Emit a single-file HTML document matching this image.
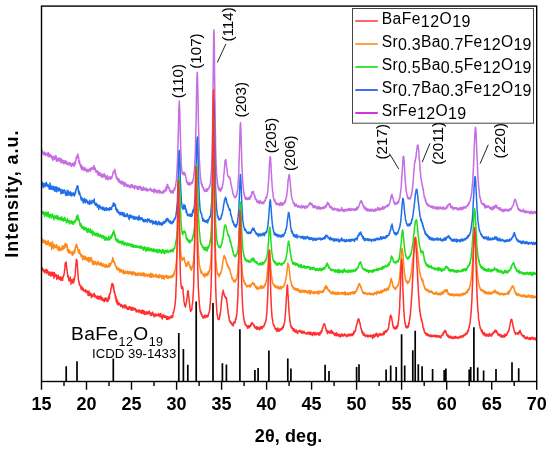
<!DOCTYPE html>
<html><head><meta charset="utf-8"><title>XRD patterns</title>
<style>html,body{margin:0;padding:0;background:#fff;overflow:hidden}svg{display:block}text{font-family:"Liberation Sans",sans-serif;fill:#000}.b{font-weight:bold}.c{fill:none;stroke-width:1.5;stroke-linejoin:round;stroke-linecap:round}</style></head><body>
<svg width="550" height="451" viewBox="0 0 550 451">
<rect x="0" y="0" width="550" height="451" fill="#fff"/>
<clipPath id="cp"><rect x="41.5" y="6.1" width="495.2" height="375.4"/></clipPath>
<g clip-path="url(#cp)">
<polyline class="c" stroke="#c56fe2" points="41.5,153.9 41.7,151.8 41.9,151.6 42.0,150.1 42.2,152.4 42.4,152.4 42.6,152.4 42.8,153.5 42.9,153.4 43.1,152.2 43.3,152.6 43.5,152.8 43.7,154.7 43.8,154.0 44.0,152.2 44.2,152.1 44.4,154.2 44.6,154.9 44.7,153.4 44.9,152.4 45.1,154.7 45.3,153.1 45.5,154.1 45.6,155.5 45.8,154.5 46.0,154.1 46.2,155.0 46.4,153.6 46.5,154.0 46.7,153.5 46.9,153.9 47.1,153.5 47.3,154.2 47.4,154.5 47.6,155.3 47.8,155.1 48.0,155.8 48.2,156.4 48.3,152.5 48.5,156.0 48.7,154.3 48.9,153.6 49.1,155.1 49.2,155.6 49.4,156.9 49.6,154.9 49.8,156.0 50.0,156.1 50.1,154.2 50.3,154.6 50.5,156.0 50.7,155.8 50.9,156.5 51.0,155.9 51.2,155.6 51.4,156.0 51.6,158.3 51.8,156.1 51.9,157.3 52.1,158.2 52.3,156.5 52.5,159.7 52.7,157.2 52.8,157.9 53.0,160.5 53.2,157.0 53.4,156.9 53.6,159.1 53.7,156.3 53.9,156.7 54.1,157.6 54.3,157.7 54.5,157.7 54.6,157.5 54.8,159.2 55.0,158.8 55.2,158.4 55.4,157.1 55.5,156.9 55.7,155.5 55.9,158.8 56.1,156.1 56.3,159.4 56.4,161.3 56.6,158.1 56.8,158.2 57.0,158.5 57.2,160.3 57.3,158.3 57.5,159.4 57.7,159.7 57.9,159.8 58.1,161.2 58.2,158.8 58.4,159.8 58.6,159.4 58.8,160.5 59.0,158.0 59.1,160.8 59.3,159.9 59.5,160.7 59.7,159.9 59.9,158.2 60.0,159.3 60.2,161.0 60.4,160.0 60.6,160.1 60.8,162.1 60.9,162.7 61.1,160.3 61.3,162.7 61.5,158.8 61.7,159.1 61.8,162.1 62.0,161.3 62.2,162.2 62.4,162.3 62.6,161.5 62.7,162.6 62.9,161.8 63.1,160.4 63.3,161.7 63.5,161.9 63.6,163.7 63.8,160.5 64.0,161.6 64.2,161.5 64.4,161.8 64.5,163.5 64.7,162.7 64.9,162.1 65.1,162.4 65.3,163.0 65.4,160.7 65.6,161.4 65.8,163.3 66.0,162.8 66.2,161.8 66.4,162.2 66.5,162.5 66.7,161.4 66.9,164.6 67.1,163.9 67.3,163.8 67.4,162.7 67.6,163.1 67.8,164.1 68.0,164.0 68.2,163.1 68.3,163.9 68.5,164.7 68.7,163.3 68.9,164.1 69.1,163.5 69.2,163.4 69.4,165.0 69.6,164.5 69.8,164.0 70.0,162.4 70.1,162.6 70.3,163.5 70.5,163.4 70.7,164.2 70.9,163.7 71.0,164.9 71.2,166.5 71.4,166.4 71.6,166.3 71.8,165.0 71.9,165.5 72.1,164.0 72.3,165.3 72.5,164.1 72.7,163.3 72.8,163.7 73.0,165.3 73.2,164.8 73.4,164.3 73.6,163.3 73.7,165.0 73.9,163.3 74.1,166.4 74.3,165.0 74.5,165.3 74.6,164.4 74.8,162.3 75.0,161.7 75.2,162.7 75.4,163.9 75.5,160.8 75.7,160.3 75.9,160.7 76.1,158.1 76.3,157.3 76.4,157.5 76.6,157.9 76.8,156.6 77.0,158.2 77.2,155.6 77.2,156.2 77.3,156.8 77.5,156.5 77.5,154.6 77.7,154.5 77.9,156.5 77.9,154.0 78.1,155.1 78.2,155.9 78.4,157.0 78.6,158.0 78.8,160.4 79.0,162.7 79.1,163.3 79.3,162.1 79.5,160.4 79.7,162.7 79.9,163.3 80.0,164.7 80.2,165.1 80.4,164.8 80.6,166.9 80.8,164.7 80.9,166.6 81.1,167.7 81.3,167.9 81.5,169.6 81.7,165.6 81.8,167.6 82.0,168.2 82.2,167.1 82.4,168.4 82.6,167.0 82.7,169.4 82.9,169.2 83.1,167.3 83.3,167.7 83.5,168.3 83.6,168.4 83.8,170.1 84.0,169.7 84.2,170.5 84.4,169.9 84.5,168.0 84.7,168.3 84.9,167.6 85.1,168.2 85.3,168.6 85.4,170.1 85.6,168.8 85.8,169.9 86.0,170.0 86.2,169.6 86.3,170.0 86.5,171.6 86.7,171.7 86.9,169.4 87.1,169.7 87.2,169.5 87.4,169.5 87.6,171.2 87.8,170.4 88.0,171.0 88.1,171.8 88.3,169.5 88.5,169.8 88.7,170.0 88.9,170.9 89.0,169.8 89.2,170.3 89.4,170.8 89.6,170.8 89.8,170.4 89.9,168.8 90.1,168.5 90.3,171.3 90.5,170.8 90.7,169.3 90.8,169.6 91.0,169.7 91.2,167.7 91.4,169.0 91.6,168.0 91.7,168.7 91.9,168.8 92.1,168.3 92.3,168.6 92.5,168.4 92.6,167.8 92.8,167.8 93.0,169.5 93.2,167.8 93.4,168.7 93.4,166.4 93.5,168.0 93.7,167.4 93.7,167.1 93.9,165.4 94.1,169.3 94.1,166.8 94.3,167.2 94.4,168.4 94.6,168.3 94.8,169.0 95.0,168.9 95.2,167.9 95.3,170.6 95.5,169.6 95.7,171.0 95.9,171.3 96.1,172.3 96.2,171.5 96.4,171.7 96.6,171.6 96.8,170.8 97.0,171.5 97.1,171.2 97.3,170.9 97.5,173.0 97.7,172.6 97.9,174.8 98.0,174.9 98.2,171.8 98.4,173.2 98.6,172.2 98.8,173.9 98.9,173.6 99.1,174.8 99.3,175.0 99.5,175.3 99.7,174.3 99.8,172.5 100.0,173.1 100.2,173.4 100.4,174.1 100.6,173.8 100.7,176.2 100.9,175.0 101.1,176.5 101.3,174.7 101.5,176.7 101.6,174.1 101.8,176.2 102.0,174.6 102.2,176.4 102.4,177.5 102.5,174.4 102.7,174.7 102.9,175.6 103.1,175.4 103.3,174.4 103.4,176.7 103.6,175.8 103.8,176.4 104.0,175.5 104.2,173.7 104.3,174.2 104.5,175.9 104.7,174.3 104.9,175.0 105.1,176.6 105.2,177.8 105.4,178.0 105.6,176.0 105.8,179.2 106.0,177.1 106.1,176.6 106.3,176.6 106.5,176.5 106.7,176.4 106.9,177.1 107.0,179.1 107.2,176.5 107.4,175.6 107.6,178.2 107.8,178.2 107.9,178.7 108.1,179.8 108.3,177.7 108.5,178.3 108.7,178.4 108.8,178.9 109.0,178.8 109.2,177.2 109.4,176.7 109.6,177.6 109.7,176.6 109.9,178.7 110.1,177.2 110.3,177.4 110.5,177.2 110.6,179.0 110.8,177.9 111.0,177.3 111.2,177.9 111.4,177.3 111.5,177.9 111.7,178.4 111.9,176.4 112.1,177.0 112.3,176.3 112.4,176.0 112.6,174.9 112.8,174.1 113.0,173.0 113.2,172.8 113.3,171.4 113.5,172.5 113.7,171.9 113.9,171.8 114.1,171.0 114.1,170.8 114.2,170.5 114.4,172.0 114.4,170.8 114.6,170.9 114.8,170.2 114.8,171.6 115.0,169.2 115.1,174.3 115.3,173.3 115.5,173.9 115.7,173.2 115.9,174.2 116.1,176.2 116.2,176.3 116.4,177.5 116.6,178.8 116.8,178.7 117.0,176.9 117.1,178.1 117.3,178.6 117.5,179.6 117.7,178.8 117.9,179.2 118.0,180.8 118.2,180.8 118.4,181.2 118.6,180.5 118.8,182.0 118.9,178.8 119.1,179.6 119.3,181.4 119.5,181.4 119.7,180.6 119.8,182.5 120.0,182.7 120.2,182.9 120.4,181.5 120.6,181.9 120.7,182.4 120.9,182.2 121.1,183.7 121.3,182.8 121.5,183.5 121.6,181.1 121.8,183.7 122.0,184.2 122.2,182.7 122.4,184.0 122.5,182.2 122.7,183.5 122.9,182.3 123.1,183.6 123.3,183.7 123.4,181.8 123.6,182.8 123.8,183.2 124.0,186.2 124.2,184.4 124.3,184.6 124.5,184.2 124.7,184.2 124.9,183.7 125.1,182.6 125.2,183.6 125.4,185.7 125.6,184.6 125.8,184.1 126.0,183.8 126.1,184.9 126.3,185.4 126.5,185.0 126.7,186.5 126.9,185.0 127.0,185.7 127.2,186.2 127.4,185.9 127.6,186.4 127.8,185.0 127.9,184.6 128.1,185.6 128.3,185.2 128.5,186.4 128.7,186.0 128.8,185.6 129.0,186.3 129.2,186.9 129.4,185.5 129.6,186.7 129.7,186.6 129.9,187.5 130.1,186.3 130.3,187.8 130.5,185.4 130.6,186.2 130.8,187.1 131.0,185.6 131.2,186.7 131.4,184.4 131.5,186.2 131.7,186.6 131.9,186.6 132.1,185.3 132.3,187.3 132.4,184.7 132.6,187.3 132.8,186.6 133.0,187.2 133.2,186.4 133.3,186.1 133.5,186.5 133.7,187.0 133.9,188.2 134.1,187.4 134.2,187.8 134.4,188.2 134.6,188.8 134.8,185.6 135.0,186.9 135.1,187.8 135.3,187.4 135.5,186.3 135.7,186.5 135.9,186.7 136.0,186.5 136.2,186.2 136.4,186.5 136.6,186.5 136.8,187.0 136.9,188.6 137.1,186.7 137.3,188.2 137.5,189.2 137.7,187.8 137.8,189.5 138.0,187.4 138.2,188.6 138.4,187.1 138.6,186.3 138.7,187.9 138.9,189.2 139.1,187.2 139.3,187.9 139.5,186.9 139.6,186.8 139.8,187.8 140.0,187.4 140.2,188.0 140.4,188.5 140.5,186.4 140.7,187.1 140.9,187.7 141.1,190.0 141.3,187.9 141.4,188.2 141.6,188.6 141.8,190.2 142.0,187.8 142.2,188.1 142.3,188.6 142.5,189.4 142.7,190.4 142.9,188.0 143.1,187.7 143.2,189.0 143.4,189.2 143.6,187.0 143.8,188.3 144.0,189.7 144.1,188.7 144.3,189.8 144.5,189.8 144.7,190.0 144.9,189.7 145.0,189.3 145.2,190.0 145.4,188.3 145.6,188.8 145.8,189.5 145.9,188.3 146.1,188.2 146.3,188.5 146.5,188.5 146.7,190.9 146.8,189.9 147.0,190.8 147.2,189.5 147.4,189.0 147.6,189.2 147.7,189.5 147.9,189.8 148.1,190.8 148.3,189.7 148.5,190.1 148.6,190.1 148.8,189.4 149.0,189.4 149.2,189.8 149.4,189.8 149.5,189.8 149.7,189.8 149.9,189.4 150.1,190.0 150.3,189.6 150.4,188.2 150.6,189.6 150.8,190.6 151.0,190.2 151.2,189.3 151.3,190.8 151.5,190.3 151.7,190.1 151.9,191.2 152.1,190.0 152.2,190.5 152.4,190.2 152.6,191.1 152.8,191.3 153.0,190.6 153.1,190.9 153.3,189.7 153.5,191.2 153.7,190.0 153.9,192.8 154.0,192.1 154.2,189.9 154.4,188.9 154.6,191.5 154.8,189.7 154.9,190.9 155.1,189.6 155.3,190.4 155.5,190.5 155.7,191.5 155.8,190.6 156.0,191.9 156.2,190.5 156.4,191.8 156.6,191.5 156.7,192.2 156.9,191.0 157.1,190.9 157.3,193.1 157.5,191.0 157.6,191.6 157.8,191.3 158.0,191.0 158.2,191.5 158.4,190.3 158.5,190.1 158.7,191.7 158.9,190.6 159.1,192.1 159.3,192.0 159.4,193.1 159.6,192.2 159.8,190.3 160.0,191.0 160.2,191.4 160.3,192.6 160.5,192.3 160.7,191.6 160.9,192.4 161.1,191.9 161.2,192.5 161.4,192.6 161.6,193.4 161.8,193.0 162.0,193.2 162.1,192.2 162.3,192.5 162.5,191.8 162.7,192.5 162.9,192.4 163.0,192.2 163.2,191.7 163.4,192.0 163.6,192.4 163.8,190.3 163.9,192.7 164.1,190.1 164.3,191.2 164.5,191.1 164.7,191.5 164.8,191.1 165.0,190.5 165.2,190.3 165.4,190.4 165.6,191.0 165.8,189.2 165.9,187.2 166.1,188.1 166.3,188.2 166.5,190.1 166.7,186.7 166.8,186.4 167.0,186.4 167.2,185.8 167.2,184.5 167.4,186.2 167.6,184.6 167.6,185.9 167.7,187.0 167.9,185.3 167.9,186.1 168.1,187.8 168.3,186.7 168.5,187.0 168.6,187.5 168.8,188.6 169.0,187.4 169.2,188.6 169.4,188.0 169.5,188.7 169.7,191.1 169.9,190.3 170.1,190.4 170.3,191.3 170.4,190.8 170.6,190.7 170.8,192.7 171.0,192.4 171.2,191.2 171.3,192.1 171.5,192.6 171.7,191.7 171.9,191.8 172.1,190.7 172.2,191.8 172.4,190.4 172.6,192.9 172.8,191.9 173.0,193.3 173.1,191.4 173.3,192.3 173.5,190.0 173.7,190.8 173.9,190.7 174.0,190.5 174.2,189.8 174.4,188.2 174.6,189.9 174.8,189.2 174.9,188.7 175.1,188.3 175.3,186.5 175.5,186.1 175.7,186.6 175.8,183.2 176.0,182.7 176.2,181.0 176.4,180.9 176.6,177.9 176.7,174.7 176.9,172.5 177.1,168.9 177.3,164.7 177.5,160.0 177.6,156.5 177.8,150.3 178.0,144.9 178.2,136.7 178.4,129.9 178.5,122.9 178.7,113.3 178.9,106.4 178.9,108.2 179.1,104.7 179.3,101.0 179.3,101.3 179.4,103.1 179.6,107.2 179.6,108.2 179.8,112.3 180.0,119.8 180.2,127.3 180.3,133.6 180.5,140.1 180.7,147.8 180.9,153.3 181.1,157.1 181.2,162.5 181.4,165.6 181.6,168.1 181.8,170.5 182.0,171.7 182.1,173.2 182.3,173.8 182.5,173.9 182.7,172.6 182.9,173.9 183.0,173.5 183.2,173.1 183.4,174.6 183.6,172.3 183.8,174.2 183.9,172.9 184.1,172.5 184.3,172.5 184.3,174.9 184.5,174.4 184.7,173.1 184.7,173.3 184.8,174.2 185.0,173.2 185.0,173.3 185.2,174.9 185.4,175.0 185.6,175.8 185.7,177.4 185.9,177.3 186.1,178.2 186.3,180.3 186.5,179.6 186.6,182.3 186.8,181.1 187.0,181.3 187.2,182.2 187.4,183.0 187.5,183.6 187.7,184.1 187.9,182.9 188.1,183.0 188.3,183.8 188.4,184.5 188.6,184.8 188.8,182.4 189.0,184.6 189.2,184.3 189.3,184.5 189.5,184.7 189.7,183.6 189.9,183.1 190.1,185.0 190.2,184.8 190.4,183.7 190.6,183.7 190.8,183.2 191.0,182.5 191.1,183.8 191.3,182.8 191.5,182.3 191.7,182.2 191.9,183.8 192.0,182.6 192.2,182.1 192.4,182.0 192.6,182.6 192.8,181.9 192.9,179.8 193.1,180.2 193.3,178.9 193.5,178.4 193.7,176.9 193.8,174.3 194.0,175.1 194.2,172.7 194.4,169.1 194.6,169.2 194.7,165.0 194.9,161.9 195.1,157.7 195.3,153.1 195.5,146.6 195.6,139.4 195.8,132.8 196.0,124.9 196.2,115.8 196.4,106.6 196.5,96.2 196.7,85.6 196.9,80.0 196.9,78.9 197.1,73.6 197.3,72.8 197.3,72.2 197.4,75.1 197.6,79.6 197.6,81.5 197.8,87.8 198.0,97.2 198.2,106.9 198.3,115.1 198.5,125.4 198.7,133.8 198.9,141.5 199.1,147.0 199.2,154.6 199.4,160.5 199.6,163.5 199.8,167.6 200.0,171.0 200.1,172.7 200.3,175.4 200.5,178.4 200.7,179.2 200.9,179.2 201.0,179.8 201.2,183.7 201.4,183.2 201.6,182.3 201.8,184.3 201.9,185.6 202.1,185.5 202.3,184.5 202.5,187.4 202.7,186.9 202.8,186.6 203.0,187.6 203.2,187.3 203.4,188.3 203.6,189.7 203.7,187.7 203.9,190.3 204.1,190.0 204.3,190.2 204.5,190.6 204.6,191.3 204.8,191.5 205.0,191.3 205.2,190.1 205.4,190.7 205.5,189.9 205.7,189.6 205.9,190.7 206.1,190.7 206.3,191.3 206.4,188.9 206.6,190.8 206.8,190.6 207.0,190.1 207.2,191.1 207.3,189.1 207.5,190.0 207.7,189.5 207.9,189.5 208.1,188.5 208.2,189.1 208.4,189.2 208.6,188.3 208.8,188.4 209.0,187.5 209.1,188.3 209.3,186.3 209.5,186.6 209.7,186.6 209.9,185.3 210.0,185.4 210.2,183.8 210.4,183.5 210.6,180.9 210.8,179.0 210.9,176.3 211.1,175.0 211.3,172.5 211.5,169.1 211.7,164.3 211.8,159.2 212.0,153.3 212.2,146.0 212.4,135.8 212.6,127.0 212.7,113.3 212.9,99.1 213.1,83.1 213.3,66.6 213.5,52.4 213.6,43.5 213.6,37.8 213.8,30.3 213.9,29.9 214.0,31.9 214.2,37.5 214.3,43.6 214.4,49.7 214.5,66.6 214.7,83.6 214.9,99.3 215.1,113.6 215.3,126.9 215.5,137.5 215.6,146.3 215.8,153.4 216.0,159.1 216.2,166.3 216.4,168.1 216.5,172.6 216.7,174.7 216.9,176.5 217.1,179.7 217.3,180.0 217.4,183.2 217.6,182.6 217.8,185.2 218.0,186.6 218.2,186.1 218.3,188.6 218.5,188.6 218.7,186.7 218.9,189.6 219.1,190.4 219.2,189.4 219.4,189.7 219.6,190.3 219.8,188.6 220.0,189.7 220.1,190.2 220.3,189.3 220.5,190.5 220.7,191.4 220.9,188.7 221.0,188.7 221.2,189.0 221.4,189.5 221.6,189.1 221.8,187.8 221.9,187.2 222.1,186.9 222.3,187.9 222.5,185.4 222.7,184.8 222.8,184.7 223.0,183.0 223.2,181.2 223.4,181.1 223.6,178.7 223.7,176.2 223.9,174.2 224.1,172.9 224.3,169.8 224.5,168.0 224.6,166.1 224.8,164.4 225.0,160.7 225.1,161.1 225.2,160.6 225.4,160.1 225.4,160.1 225.5,160.8 225.7,159.6 225.8,159.6 225.9,161.0 226.1,161.6 226.3,164.5 226.4,165.3 226.6,167.0 226.8,169.0 227.0,169.0 227.2,170.7 227.3,172.2 227.5,173.5 227.7,175.2 227.9,176.0 228.1,176.3 228.2,176.1 228.4,176.7 228.6,176.4 228.8,177.4 229.0,176.4 229.1,176.8 229.3,177.5 229.3,177.8 229.5,177.3 229.7,178.0 229.7,178.3 229.9,177.8 230.0,179.8 230.0,179.4 230.2,178.9 230.4,180.3 230.6,182.1 230.8,182.3 230.9,182.9 231.1,185.3 231.3,185.1 231.5,185.9 231.7,187.3 231.8,187.3 232.0,188.6 232.2,189.4 232.4,190.5 232.6,190.4 232.7,192.3 232.9,193.0 233.1,194.3 233.3,194.2 233.5,194.6 233.6,195.0 233.8,194.9 234.0,196.4 234.2,196.4 234.4,197.3 234.5,197.0 234.7,196.7 234.9,197.7 235.1,196.9 235.3,196.9 235.4,197.7 235.6,197.4 235.8,195.9 236.0,196.1 236.2,196.8 236.3,196.3 236.5,195.6 236.7,195.3 236.9,192.9 237.1,193.3 237.2,191.6 237.4,191.0 237.6,189.6 237.8,188.3 238.0,186.5 238.1,183.9 238.3,180.6 238.5,177.3 238.7,174.5 238.9,169.6 239.0,163.3 239.2,158.9 239.4,153.1 239.6,145.9 239.8,139.8 239.9,134.6 240.1,128.1 240.1,128.4 240.3,124.5 240.5,122.7 240.5,123.2 240.7,124.0 240.8,127.8 240.8,127.8 241.0,134.2 241.2,139.9 241.4,147.0 241.6,152.1 241.7,158.9 241.9,164.9 242.1,169.8 242.3,173.3 242.5,177.1 242.6,180.3 242.8,182.6 243.0,184.9 243.2,187.3 243.4,188.4 243.5,189.5 243.7,191.7 243.9,193.3 244.1,192.6 244.3,195.5 244.4,195.4 244.6,196.1 244.8,195.7 245.0,196.8 245.2,198.7 245.3,199.2 245.5,198.7 245.7,198.4 245.9,198.3 246.1,199.0 246.2,197.4 246.4,197.6 246.6,198.1 246.8,199.3 247.0,198.3 247.1,199.5 247.3,199.6 247.5,199.5 247.7,199.0 247.9,199.5 248.0,199.4 248.2,197.7 248.4,199.3 248.6,198.7 248.8,198.6 248.9,198.1 249.1,198.7 249.3,197.5 249.5,199.0 249.7,199.4 249.8,199.3 250.0,197.9 250.2,196.4 250.4,196.7 250.6,196.8 250.7,197.6 250.9,195.3 251.1,196.0 251.3,195.9 251.5,195.3 251.6,194.1 251.8,192.0 252.0,193.7 252.2,192.8 252.4,192.9 252.5,191.7 252.7,192.1 252.7,193.4 252.9,192.2 253.1,192.3 253.1,192.0 253.3,192.9 253.4,191.5 253.4,192.1 253.6,193.0 253.8,193.0 254.0,194.2 254.2,194.3 254.3,195.9 254.5,195.5 254.7,196.1 254.9,196.8 255.1,196.1 255.2,198.6 255.4,197.5 255.6,199.2 255.8,199.8 256.0,199.6 256.1,199.7 256.3,199.9 256.5,199.4 256.7,201.3 256.9,201.3 257.0,202.3 257.2,201.0 257.4,201.6 257.6,201.4 257.8,201.8 257.9,201.7 258.1,202.0 258.3,201.0 258.5,201.9 258.7,202.3 258.8,203.3 259.0,202.7 259.2,201.8 259.4,203.5 259.6,202.7 259.7,203.1 259.9,201.8 260.1,200.4 260.3,201.9 260.5,201.8 260.6,202.7 260.8,201.5 261.0,202.0 261.2,201.9 261.4,202.8 261.5,202.4 261.7,203.6 261.9,203.1 262.1,203.0 262.3,202.7 262.4,202.7 262.6,203.2 262.8,202.0 263.0,203.3 263.2,202.3 263.3,203.1 263.5,203.6 263.7,203.2 263.9,201.6 264.1,202.7 264.2,201.5 264.4,201.3 264.6,201.2 264.8,200.3 265.0,201.1 265.2,200.0 265.3,200.8 265.5,199.7 265.7,197.6 265.9,198.6 266.1,198.2 266.2,198.0 266.4,197.6 266.6,197.4 266.8,196.5 267.0,195.1 267.1,195.4 267.3,194.7 267.5,192.8 267.7,191.9 267.9,189.9 268.0,187.1 268.2,185.0 268.4,183.2 268.6,180.9 268.8,177.3 268.9,174.9 269.1,171.8 269.3,167.0 269.5,163.9 269.7,161.6 269.8,159.5 269.8,159.8 270.0,157.7 270.2,156.8 270.2,156.6 270.4,157.3 270.6,158.4 270.6,159.4 270.7,162.0 270.9,164.1 271.1,167.8 271.3,173.1 271.5,174.2 271.6,177.8 271.8,180.4 272.0,183.3 272.2,186.9 272.4,188.3 272.5,190.3 272.7,191.9 272.9,192.0 273.1,195.7 273.3,196.2 273.4,197.1 273.6,198.8 273.8,198.6 274.0,199.2 274.2,199.7 274.3,201.2 274.5,200.1 274.7,200.7 274.9,199.8 275.1,201.1 275.2,201.8 275.4,201.3 275.6,203.4 275.8,203.2 276.0,204.3 276.1,203.2 276.3,204.5 276.5,203.0 276.7,203.7 276.9,203.8 277.0,203.5 277.2,204.8 277.4,204.6 277.6,203.5 277.8,204.3 277.9,204.3 278.1,204.1 278.3,204.4 278.5,203.6 278.7,204.0 278.8,203.9 279.0,203.6 279.2,203.8 279.4,205.0 279.6,204.2 279.7,205.7 279.9,205.5 280.1,203.6 280.3,203.8 280.5,202.4 280.6,203.4 280.8,203.3 281.0,203.4 281.2,202.8 281.4,204.6 281.5,204.8 281.7,204.2 281.9,204.5 282.1,205.2 282.3,205.4 282.4,203.6 282.6,205.1 282.8,202.9 283.0,203.2 283.2,203.4 283.3,204.2 283.5,203.4 283.7,203.2 283.9,203.9 284.1,202.8 284.2,202.3 284.4,203.6 284.6,202.4 284.8,201.2 285.0,200.6 285.1,201.5 285.3,202.1 285.5,200.9 285.7,199.9 285.9,200.0 286.0,197.6 286.2,198.1 286.4,196.6 286.6,196.8 286.8,194.4 286.9,194.2 287.1,192.3 287.3,190.4 287.5,188.8 287.7,186.1 287.8,185.0 288.0,182.0 288.2,179.0 288.4,179.6 288.6,178.3 288.7,176.6 288.7,177.0 288.9,175.7 289.1,174.7 289.1,174.8 289.3,174.7 289.5,176.1 289.5,176.8 289.6,176.7 289.8,178.8 290.0,181.8 290.2,182.4 290.4,184.3 290.5,186.0 290.7,189.4 290.9,190.7 291.1,192.3 291.3,194.2 291.4,195.5 291.6,196.7 291.8,197.3 292.0,198.4 292.2,199.0 292.3,199.6 292.5,199.5 292.7,200.6 292.9,201.3 293.1,201.6 293.2,202.4 293.4,203.5 293.6,203.2 293.8,202.7 294.0,203.2 294.1,204.1 294.3,203.1 294.5,204.6 294.7,205.8 294.9,206.2 295.0,205.7 295.2,205.6 295.4,204.4 295.6,204.9 295.8,205.4 295.9,205.9 296.1,205.9 296.3,204.0 296.5,205.3 296.7,205.7 296.8,205.4 297.0,205.8 297.2,206.3 297.4,206.4 297.6,206.7 297.7,207.0 297.9,207.3 298.1,206.4 298.3,205.8 298.5,206.1 298.6,206.1 298.8,206.2 299.0,205.5 299.2,205.9 299.4,205.9 299.5,207.0 299.7,206.5 299.9,206.5 300.1,207.2 300.3,207.0 300.4,207.1 300.6,207.9 300.8,207.3 301.0,207.1 301.2,207.2 301.3,206.4 301.5,206.4 301.7,205.3 301.9,206.3 302.1,207.8 302.2,206.6 302.4,207.0 302.6,206.7 302.8,206.3 303.0,207.0 303.1,206.9 303.3,207.5 303.5,206.0 303.7,206.7 303.9,206.6 304.0,206.3 304.2,207.4 304.4,206.7 304.6,206.8 304.8,208.6 304.9,207.0 305.1,206.9 305.3,207.2 305.5,206.2 305.7,207.0 305.8,205.9 306.0,206.4 306.2,206.2 306.4,207.3 306.6,207.0 306.7,208.0 306.9,207.9 307.1,206.3 307.3,207.0 307.5,206.1 307.6,205.8 307.8,206.6 308.0,206.5 308.2,205.4 308.4,205.6 308.5,205.3 308.7,205.2 308.9,204.9 309.1,204.0 309.3,204.4 309.4,203.4 309.6,202.9 309.8,203.9 310.0,204.0 310.2,204.4 310.3,204.0 310.3,203.9 310.5,203.1 310.7,203.6 310.7,203.6 310.9,204.0 311.1,203.3 311.1,204.7 311.2,204.4 311.4,204.3 311.6,203.9 311.8,204.1 312.0,205.0 312.1,203.9 312.3,204.9 312.5,205.3 312.7,206.1 312.9,205.8 313.0,207.1 313.2,205.6 313.4,207.8 313.6,206.8 313.8,207.4 314.0,206.5 314.1,207.1 314.3,206.6 314.5,207.2 314.7,205.8 314.9,207.4 315.0,207.2 315.2,205.8 315.4,207.1 315.6,207.3 315.8,207.7 315.9,207.0 316.1,207.5 316.3,208.2 316.5,206.9 316.7,208.7 316.8,207.8 317.0,207.6 317.2,206.8 317.4,206.9 317.6,208.5 317.7,207.7 317.9,207.9 318.1,209.0 318.3,208.4 318.5,207.9 318.6,206.9 318.8,206.5 319.0,207.9 319.2,207.7 319.4,207.6 319.5,209.0 319.7,207.3 319.9,208.1 320.1,208.9 320.3,208.2 320.4,207.4 320.6,207.7 320.8,209.0 321.0,207.5 321.2,208.5 321.3,208.9 321.5,207.7 321.7,208.2 321.9,207.7 322.1,208.6 322.2,208.0 322.4,207.4 322.6,207.9 322.8,207.9 323.0,207.6 323.1,207.9 323.3,207.1 323.5,207.6 323.7,208.5 323.9,207.0 324.0,208.1 324.2,208.0 324.4,207.3 324.6,208.2 324.8,207.7 324.9,206.8 325.1,207.0 325.3,207.3 325.5,205.7 325.7,206.6 325.8,206.2 326.0,206.2 326.2,207.0 326.4,205.1 326.6,205.0 326.7,204.3 326.9,205.0 327.1,204.9 327.3,202.7 327.5,204.8 327.5,204.8 327.6,202.3 327.8,202.8 327.8,204.1 328.0,203.9 328.2,204.5 328.2,203.7 328.4,204.7 328.5,203.3 328.7,204.3 328.9,204.2 329.1,204.7 329.3,204.2 329.4,205.4 329.6,207.1 329.8,206.1 330.0,206.4 330.2,206.9 330.3,206.5 330.5,207.4 330.7,207.7 330.9,207.1 331.1,206.5 331.2,208.6 331.4,207.9 331.6,207.8 331.8,208.2 332.0,208.1 332.1,207.5 332.3,208.7 332.5,209.0 332.7,209.6 332.9,210.0 333.0,208.6 333.2,209.9 333.4,209.3 333.6,209.8 333.8,208.8 333.9,209.3 334.1,208.6 334.3,209.4 334.5,208.0 334.7,208.8 334.8,208.9 335.0,209.4 335.2,209.4 335.4,209.3 335.6,208.9 335.7,209.7 335.9,209.5 336.1,208.9 336.3,209.7 336.5,209.2 336.6,209.5 336.8,209.6 337.0,209.8 337.2,210.5 337.4,209.0 337.5,211.0 337.7,209.1 337.9,210.7 338.1,210.2 338.3,208.9 338.4,209.9 338.6,209.7 338.8,209.1 339.0,210.8 339.2,210.7 339.3,210.4 339.5,210.9 339.7,210.0 339.9,209.9 340.1,210.8 340.2,209.5 340.4,210.6 340.6,210.8 340.8,210.2 341.0,210.2 341.1,210.3 341.3,210.0 341.5,209.1 341.7,207.6 341.9,209.5 342.0,209.1 342.2,210.6 342.4,210.2 342.6,210.6 342.8,210.7 342.9,210.8 343.1,209.6 343.3,211.3 343.5,210.6 343.7,210.6 343.8,209.8 344.0,211.7 344.2,210.8 344.4,210.7 344.6,209.7 344.7,210.8 344.9,210.4 345.1,209.7 345.3,210.9 345.5,209.3 345.6,210.2 345.8,210.1 346.0,210.0 346.2,209.5 346.4,209.5 346.5,210.5 346.7,210.6 346.9,209.9 347.1,209.8 347.3,209.6 347.4,210.7 347.6,209.9 347.8,209.8 348.0,208.8 348.2,209.1 348.3,209.5 348.5,208.8 348.7,210.0 348.9,210.0 349.1,209.6 349.2,210.0 349.4,210.3 349.6,209.1 349.8,210.6 350.0,208.2 350.1,210.6 350.3,208.8 350.5,209.6 350.7,209.3 350.9,210.1 351.0,209.5 351.2,210.2 351.4,208.9 351.6,210.2 351.8,209.4 351.9,209.6 352.1,210.0 352.3,208.7 352.5,208.9 352.7,208.9 352.8,209.4 353.0,209.4 353.2,209.8 353.4,209.6 353.6,209.1 353.7,209.6 353.9,209.8 354.1,209.9 354.3,210.5 354.5,209.1 354.6,209.6 354.8,208.8 355.0,209.0 355.2,209.6 355.4,210.2 355.5,209.0 355.7,209.6 355.9,209.5 356.1,209.9 356.3,209.3 356.4,208.8 356.6,207.6 356.8,207.8 357.0,208.8 357.2,208.5 357.3,209.6 357.5,208.0 357.7,208.3 357.9,206.9 358.1,206.7 358.2,207.4 358.4,207.9 358.6,207.0 358.8,206.0 359.0,206.0 359.1,205.5 359.3,205.0 359.5,204.4 359.7,203.4 359.9,202.7 360.0,202.7 360.2,202.3 360.4,201.3 360.6,202.5 360.8,201.5 360.8,200.9 360.9,201.4 361.1,202.1 361.1,200.9 361.3,201.2 361.5,201.7 361.5,200.7 361.7,201.4 361.8,201.7 362.0,203.1 362.2,202.4 362.4,203.9 362.6,204.0 362.7,204.8 362.9,204.7 363.1,206.1 363.3,205.0 363.5,205.2 363.7,206.5 363.8,206.6 364.0,207.8 364.2,208.1 364.4,208.3 364.6,208.5 364.7,207.8 364.9,207.2 365.1,209.3 365.3,207.4 365.5,208.8 365.6,207.5 365.8,208.5 366.0,209.0 366.2,210.3 366.4,208.9 366.5,208.5 366.7,208.6 366.9,209.5 367.1,209.8 367.3,210.7 367.4,211.0 367.6,209.0 367.8,209.6 368.0,209.2 368.2,210.2 368.3,210.6 368.5,209.3 368.7,210.8 368.9,210.7 369.1,209.9 369.2,209.6 369.4,211.1 369.6,210.3 369.8,209.8 370.0,210.6 370.1,211.0 370.3,210.6 370.5,209.2 370.7,209.5 370.9,210.5 371.0,210.7 371.2,210.7 371.4,209.6 371.6,210.9 371.8,210.4 371.9,209.4 372.1,209.6 372.3,210.2 372.5,209.3 372.7,210.0 372.8,210.3 373.0,210.0 373.2,210.6 373.4,211.3 373.6,210.2 373.7,210.9 373.9,210.3 374.1,211.5 374.3,211.0 374.5,210.0 374.6,209.4 374.8,210.1 375.0,209.4 375.2,208.9 375.4,209.3 375.5,209.9 375.7,211.0 375.9,210.5 376.1,210.5 376.3,210.2 376.4,210.2 376.6,210.5 376.8,208.9 377.0,209.9 377.2,209.6 377.3,209.3 377.5,209.3 377.7,207.4 377.9,208.9 378.1,208.3 378.2,209.8 378.4,209.0 378.6,209.0 378.8,209.4 379.0,208.1 379.1,209.2 379.3,208.7 379.5,210.2 379.7,209.1 379.9,208.7 380.0,210.0 380.2,208.8 380.4,208.3 380.6,208.8 380.8,208.8 380.9,208.9 381.1,208.1 381.3,209.3 381.5,208.8 381.7,209.3 381.8,209.0 382.0,208.0 382.2,209.1 382.4,208.1 382.6,208.3 382.7,206.7 382.9,207.4 383.1,209.1 383.3,208.9 383.5,207.1 383.6,208.3 383.8,208.5 384.0,208.8 384.2,207.5 384.4,207.2 384.5,208.1 384.7,207.1 384.9,207.1 385.1,206.6 385.3,207.8 385.4,206.7 385.6,207.6 385.8,207.2 386.0,206.3 386.2,206.7 386.3,206.4 386.5,205.9 386.7,205.6 386.9,205.9 387.1,205.3 387.2,206.2 387.4,206.6 387.6,205.0 387.8,204.8 388.0,205.9 388.1,204.9 388.3,205.2 388.5,205.4 388.7,204.8 388.9,205.3 389.0,204.4 389.2,204.2 389.4,203.8 389.6,203.7 389.8,202.5 389.9,202.2 390.1,201.4 390.3,200.6 390.5,199.6 390.7,199.6 390.8,197.4 391.0,197.7 391.2,197.0 391.4,195.8 391.4,195.0 391.6,195.4 391.7,194.9 391.7,194.6 391.9,194.6 392.1,194.6 392.1,195.8 392.3,197.1 392.5,197.6 392.6,196.9 392.8,197.5 393.0,198.3 393.2,198.9 393.4,200.3 393.5,200.4 393.7,201.9 393.9,201.5 394.1,203.0 394.3,201.8 394.4,202.7 394.6,203.8 394.8,204.5 395.0,204.4 395.2,203.8 395.3,203.4 395.5,203.8 395.7,203.8 395.9,203.3 396.1,203.6 396.2,202.8 396.4,203.5 396.6,203.9 396.8,202.9 397.0,202.5 397.1,203.6 397.3,203.7 397.5,202.1 397.7,202.0 397.9,201.4 398.0,202.5 398.2,202.1 398.4,201.8 398.6,202.7 398.8,200.6 398.9,200.4 399.1,199.9 399.3,199.1 399.5,199.0 399.7,197.6 399.8,196.8 400.0,197.1 400.2,194.3 400.4,193.2 400.6,192.8 400.7,190.7 400.9,189.2 401.1,187.9 401.3,186.1 401.5,182.2 401.6,180.5 401.8,176.6 402.0,175.5 402.2,171.1 402.4,169.3 402.5,166.8 402.7,163.7 402.9,160.7 403.1,157.2 403.1,159.3 403.3,156.5 403.4,156.5 403.4,156.2 403.6,156.3 403.8,158.4 403.8,156.7 404.0,159.0 404.2,162.1 404.3,166.0 404.5,167.0 404.7,172.0 404.9,174.0 405.1,177.3 405.2,180.9 405.4,182.2 405.6,184.9 405.8,187.1 406.0,187.9 406.1,189.7 406.3,190.9 406.5,192.6 406.7,193.2 406.9,194.0 407.0,195.1 407.2,196.6 407.4,195.8 407.6,197.2 407.8,198.4 407.9,196.9 408.1,196.9 408.3,198.7 408.5,198.1 408.7,198.3 408.8,199.0 409.0,199.0 409.2,198.4 409.4,198.6 409.6,197.7 409.7,198.3 409.9,198.5 410.1,198.7 410.3,198.5 410.5,198.6 410.6,197.0 410.8,197.0 411.0,196.2 411.2,194.7 411.4,195.4 411.5,194.7 411.7,194.2 411.9,192.8 412.1,191.6 412.3,189.4 412.4,188.3 412.6,187.2 412.8,185.6 413.0,183.4 413.2,180.8 413.4,178.5 413.5,176.7 413.7,173.4 413.9,170.8 414.1,168.2 414.1,169.1 414.3,167.2 414.4,164.9 414.4,165.3 414.6,163.2 414.8,162.3 414.8,162.5 415.0,160.9 415.2,161.5 415.3,159.8 415.5,158.9 415.7,157.4 415.9,157.8 416.1,156.8 416.2,154.0 416.4,152.3 416.6,151.3 416.8,150.0 417.0,148.1 417.1,147.4 417.3,145.6 417.5,146.8 417.5,145.9 417.7,146.1 417.9,144.9 417.9,144.9 418.0,146.3 418.2,145.9 418.2,146.0 418.4,148.2 418.6,149.9 418.8,151.0 418.9,153.7 419.1,156.7 419.3,158.8 419.5,160.4 419.7,163.4 419.8,163.9 420.0,167.6 420.2,170.6 420.4,172.7 420.6,173.8 420.7,176.1 420.9,177.7 421.1,178.6 421.3,179.6 421.5,180.8 421.6,182.3 421.8,182.8 422.0,183.2 422.2,186.1 422.4,185.0 422.4,185.9 422.5,186.6 422.7,186.8 422.8,188.1 422.9,187.7 423.1,190.5 423.2,188.7 423.3,189.8 423.4,191.2 423.6,192.1 423.8,193.5 424.0,195.2 424.2,196.0 424.3,197.1 424.5,196.0 424.7,197.9 424.9,198.4 425.1,198.5 425.2,198.5 425.4,201.1 425.6,200.8 425.8,199.7 426.0,202.1 426.1,202.1 426.3,202.7 426.5,203.6 426.7,203.1 426.9,203.8 427.0,204.6 427.2,203.4 427.4,203.6 427.6,203.8 427.8,205.5 427.9,204.9 428.1,205.5 428.3,205.4 428.5,206.0 428.7,205.7 428.8,204.8 429.0,206.2 429.2,205.6 429.4,205.6 429.6,205.7 429.7,206.0 429.9,206.1 430.1,206.6 430.3,207.0 430.5,206.8 430.6,206.3 430.8,206.7 431.0,207.1 431.2,207.4 431.4,207.4 431.5,206.9 431.7,206.0 431.9,206.8 432.1,207.0 432.3,207.1 432.4,207.5 432.6,207.2 432.8,207.6 433.0,206.2 433.2,208.6 433.3,207.5 433.5,207.3 433.7,207.8 433.9,207.3 434.1,206.9 434.2,207.9 434.4,207.5 434.6,207.3 434.8,208.1 435.0,208.1 435.1,207.9 435.3,207.5 435.5,208.3 435.7,207.2 435.9,208.3 436.0,209.1 436.2,207.7 436.4,208.1 436.6,206.9 436.8,208.0 436.9,206.8 437.1,207.3 437.3,208.4 437.5,209.0 437.7,208.6 437.8,208.0 438.0,207.5 438.2,208.1 438.4,209.2 438.6,208.7 438.7,207.3 438.9,207.8 439.1,207.3 439.3,208.6 439.5,208.0 439.6,207.3 439.8,207.7 440.0,207.6 440.2,207.3 440.4,207.7 440.5,208.2 440.7,207.3 440.9,207.7 441.1,207.2 441.3,208.0 441.4,209.0 441.6,208.6 441.8,207.7 442.0,207.8 442.2,208.7 442.3,208.4 442.5,208.0 442.7,209.1 442.9,207.7 443.1,207.8 443.2,208.1 443.4,207.0 443.6,207.5 443.8,207.9 444.0,208.1 444.1,208.2 444.3,209.3 444.5,208.8 444.7,208.2 444.9,208.7 445.0,208.1 445.2,208.5 445.4,208.4 445.6,208.4 445.8,208.8 445.9,208.3 446.1,207.6 446.3,208.1 446.5,207.1 446.7,208.6 446.8,206.0 447.0,206.8 447.2,207.1 447.4,206.0 447.6,206.1 447.7,206.7 447.9,204.9 448.1,205.9 448.3,204.9 448.5,204.5 448.6,205.5 448.8,204.8 449.0,204.5 449.0,204.0 449.2,204.3 449.4,203.8 449.4,204.1 449.5,204.1 449.7,203.6 449.7,203.4 449.9,204.4 450.1,203.9 450.3,204.1 450.4,204.2 450.6,204.5 450.8,207.4 451.0,206.2 451.2,207.9 451.3,207.3 451.5,207.2 451.7,206.4 451.9,206.8 452.1,206.8 452.2,206.5 452.4,207.8 452.6,208.3 452.8,208.3 453.0,208.3 453.1,207.2 453.3,209.8 453.5,208.8 453.7,207.5 453.9,207.6 454.0,207.9 454.2,207.8 454.4,208.4 454.6,208.0 454.8,208.6 454.9,208.5 455.1,208.4 455.3,207.8 455.5,208.5 455.7,208.7 455.8,207.8 456.0,207.5 456.2,208.5 456.4,207.7 456.6,208.2 456.7,208.9 456.9,209.3 457.1,208.5 457.3,208.9 457.5,209.5 457.6,208.3 457.8,209.1 458.0,209.7 458.2,210.2 458.4,208.6 458.5,208.6 458.7,209.6 458.9,209.6 459.1,208.3 459.3,208.8 459.4,209.1 459.6,208.4 459.8,207.5 460.0,209.0 460.2,209.3 460.3,208.0 460.5,209.4 460.7,208.5 460.9,207.7 461.1,209.0 461.2,208.1 461.4,209.7 461.6,208.9 461.8,209.4 462.0,207.2 462.1,208.3 462.3,208.8 462.5,208.7 462.7,208.3 462.9,208.2 463.1,208.2 463.2,208.5 463.4,209.0 463.6,206.7 463.8,207.0 464.0,207.4 464.1,207.7 464.3,207.8 464.5,207.5 464.7,207.6 464.9,207.8 465.0,207.8 465.2,206.7 465.4,207.1 465.6,207.0 465.8,208.3 465.9,206.5 466.1,206.8 466.3,206.1 466.5,206.0 466.7,206.6 466.8,206.0 467.0,205.6 467.2,206.0 467.4,205.5 467.6,204.9 467.7,204.5 467.9,205.6 468.1,204.4 468.3,205.2 468.5,204.3 468.6,203.5 468.8,203.0 469.0,202.5 469.2,203.5 469.4,203.2 469.5,202.3 469.7,201.3 469.9,201.2 470.1,200.9 470.3,201.0 470.4,199.4 470.6,198.0 470.8,198.2 471.0,196.9 471.2,195.7 471.3,193.7 471.5,194.2 471.7,193.2 471.9,190.2 472.1,187.9 472.2,186.7 472.4,184.4 472.6,182.4 472.8,179.7 473.0,175.9 473.1,173.9 473.3,170.4 473.5,166.2 473.7,163.1 473.9,157.8 474.0,153.9 474.2,148.7 474.4,145.0 474.6,140.7 474.8,134.9 474.9,132.8 475.1,130.2 475.1,129.8 475.3,128.8 475.5,127.2 475.5,127.7 475.7,128.1 475.8,129.1 475.8,129.5 476.0,132.0 476.2,136.5 476.4,140.9 476.6,145.3 476.7,149.5 476.9,153.6 477.1,157.9 477.3,161.9 477.5,167.0 477.6,170.0 477.8,174.3 478.0,177.6 478.2,180.8 478.4,182.3 478.5,184.4 478.7,186.3 478.9,189.5 479.1,189.9 479.3,191.6 479.4,193.9 479.6,195.4 479.8,197.3 480.0,196.8 480.2,198.5 480.3,197.5 480.5,199.3 480.7,199.8 480.9,201.1 481.1,200.7 481.2,202.6 481.4,203.2 481.6,202.9 481.8,203.2 482.0,203.4 482.1,203.7 482.3,204.2 482.5,203.4 482.7,203.2 482.9,203.9 483.0,203.8 483.2,204.9 483.4,204.4 483.6,204.0 483.8,203.6 483.9,204.5 484.1,204.3 484.3,204.2 484.5,206.8 484.7,204.8 484.8,207.2 485.0,208.1 485.2,206.2 485.4,205.8 485.6,206.4 485.7,205.3 485.9,206.2 486.1,206.7 486.3,205.7 486.5,207.4 486.6,206.7 486.8,206.7 487.0,207.4 487.2,205.9 487.4,206.1 487.5,207.1 487.7,207.3 487.9,206.7 488.1,206.7 488.3,206.5 488.4,206.1 488.6,206.1 488.8,206.7 489.0,207.1 489.2,207.4 489.3,206.6 489.5,208.1 489.7,208.5 489.9,207.6 490.1,207.2 490.2,207.7 490.4,208.5 490.6,208.2 490.8,209.2 491.0,208.0 491.1,208.7 491.3,208.4 491.5,209.2 491.7,208.1 491.9,208.2 492.0,207.2 492.2,207.9 492.4,207.1 492.6,209.9 492.8,207.9 492.9,207.8 493.1,207.8 493.3,208.1 493.5,207.8 493.7,206.5 493.8,208.4 494.0,207.4 494.2,207.3 494.4,208.5 494.6,207.4 494.7,206.4 494.9,206.0 495.1,206.8 495.3,206.3 495.5,206.2 495.6,205.3 495.8,206.4 495.8,206.2 496.0,206.0 496.2,207.3 496.2,206.4 496.4,206.3 496.5,206.7 496.5,207.5 496.7,205.3 496.9,206.9 497.1,207.0 497.3,207.1 497.4,208.2 497.6,208.3 497.8,207.6 498.0,208.6 498.2,208.1 498.3,208.2 498.5,207.6 498.7,208.6 498.9,208.9 499.1,208.3 499.2,208.8 499.4,209.7 499.6,209.0 499.8,208.7 500.0,210.1 500.1,208.6 500.3,207.7 500.5,208.5 500.7,209.3 500.9,209.3 501.0,209.4 501.2,210.2 501.4,210.1 501.6,210.2 501.8,210.1 501.9,210.5 502.1,211.6 502.3,210.6 502.5,210.5 502.7,209.6 502.8,210.2 503.0,209.8 503.2,210.5 503.4,209.5 503.6,210.9 503.7,211.4 503.9,210.3 504.1,211.3 504.3,209.4 504.5,210.3 504.6,210.0 504.8,210.1 505.0,209.3 505.2,210.0 505.4,210.2 505.5,209.6 505.7,210.8 505.9,210.5 506.1,210.3 506.3,209.4 506.4,209.7 506.6,209.4 506.8,210.4 507.0,210.7 507.2,210.0 507.3,209.4 507.5,209.9 507.7,210.5 507.9,210.5 508.1,210.0 508.2,211.0 508.4,211.2 508.6,209.8 508.8,210.6 509.0,210.4 509.1,209.3 509.3,209.5 509.5,209.7 509.7,209.9 509.9,208.8 510.0,208.8 510.2,208.9 510.4,209.2 510.6,208.7 510.8,209.8 510.9,209.2 511.1,209.6 511.3,209.1 511.5,208.3 511.7,207.6 511.8,207.3 512.0,207.1 512.2,206.5 512.4,206.5 512.6,205.6 512.8,205.9 512.9,205.2 513.1,205.2 513.3,204.7 513.5,205.0 513.7,204.1 513.8,203.0 514.0,201.9 514.2,201.2 514.4,200.9 514.6,199.9 514.7,200.0 514.7,199.9 514.9,200.1 515.1,199.2 515.1,199.8 515.3,199.3 515.5,201.2 515.5,200.1 515.6,200.8 515.8,200.2 516.0,201.8 516.2,202.0 516.4,203.4 516.5,203.7 516.7,203.7 516.9,205.3 517.1,205.6 517.3,205.2 517.4,206.5 517.6,206.5 517.8,208.2 518.0,208.4 518.2,208.9 518.3,208.3 518.5,209.9 518.7,208.7 518.9,209.4 519.1,209.6 519.2,209.8 519.4,209.2 519.6,210.3 519.8,210.3 520.0,209.5 520.1,211.0 520.3,210.3 520.5,210.3 520.7,210.4 520.9,211.3 521.0,210.5 521.2,210.5 521.4,211.1 521.6,211.0 521.8,211.6 521.9,211.0 522.1,210.7 522.3,210.6 522.5,210.8 522.7,211.6 522.8,211.1 523.0,210.9 523.2,210.9 523.4,209.3 523.6,211.2 523.7,211.2 523.9,209.9 524.1,210.9 524.3,211.6 524.5,212.4 524.6,211.7 524.8,212.3 525.0,212.8 525.2,212.1 525.4,211.2 525.5,211.1 525.7,211.6 525.9,212.1 526.1,212.0 526.3,211.3 526.4,212.5 526.6,211.3 526.8,211.5 527.0,212.3 527.2,211.8 527.3,211.5 527.5,211.5 527.7,212.2 527.9,212.5 528.1,212.3 528.2,211.9 528.4,212.6 528.6,212.6 528.8,211.6 529.0,212.4 529.1,211.7 529.3,212.1 529.5,212.9 529.7,211.7 529.9,212.5 530.0,213.7 530.2,213.5 530.4,212.5 530.6,212.1 530.8,213.1 530.9,212.4 531.1,212.3 531.3,211.3 531.5,212.3 531.7,211.5 531.8,212.0 532.0,213.4 532.2,213.1 532.4,213.2 532.6,212.3 532.7,212.9 532.9,212.3 533.1,213.6 533.3,212.4 533.5,212.0 533.6,212.3 533.8,213.0 534.0,212.1 534.2,212.3 534.4,211.5 534.5,212.0 534.7,211.8 534.9,211.7 535.1,212.2 535.3,212.7 535.4,213.4 535.6,212.7 535.8,211.6 536.0,211.7 536.2,211.2 536.3,212.1 536.5,211.6 536.7,212.4"/>
<polyline class="c" stroke="#1f6fe8" points="41.5,185.1 41.7,183.8 41.9,184.8 42.0,182.1 42.2,185.3 42.4,182.4 42.6,184.5 42.8,184.6 42.9,183.7 43.1,187.8 43.3,183.5 43.5,184.7 43.7,185.2 43.8,183.3 44.0,185.9 44.2,184.6 44.4,186.0 44.6,183.9 44.7,184.0 44.9,186.8 45.1,185.8 45.3,185.4 45.5,186.1 45.6,185.8 45.8,183.7 46.0,182.8 46.2,183.3 46.4,183.1 46.5,182.5 46.7,184.5 46.9,184.3 47.1,185.3 47.3,186.1 47.4,185.1 47.6,185.4 47.8,186.5 48.0,184.5 48.2,185.0 48.3,186.2 48.5,185.8 48.7,185.7 48.9,187.0 49.1,188.9 49.2,187.9 49.4,187.0 49.6,186.3 49.8,186.8 50.0,189.0 50.1,183.0 50.3,187.0 50.5,187.3 50.7,188.0 50.9,185.7 51.0,189.3 51.2,188.2 51.4,187.1 51.6,187.2 51.8,186.2 51.9,187.1 52.1,187.2 52.3,188.8 52.5,188.2 52.7,188.4 52.8,189.7 53.0,188.9 53.2,188.1 53.4,186.6 53.6,189.0 53.7,186.6 53.9,187.6 54.1,188.6 54.3,189.1 54.5,190.6 54.6,186.9 54.8,190.5 55.0,191.3 55.2,188.9 55.4,189.2 55.5,188.4 55.7,187.8 55.9,187.2 56.1,186.9 56.3,188.1 56.4,189.4 56.6,191.8 56.8,188.3 57.0,187.4 57.2,190.3 57.3,188.9 57.5,189.8 57.7,189.2 57.9,188.1 58.1,188.7 58.2,190.9 58.4,190.3 58.6,189.1 58.8,190.5 59.0,188.2 59.1,189.0 59.3,190.1 59.5,188.2 59.7,189.1 59.9,190.6 60.0,190.7 60.2,190.2 60.4,189.8 60.6,189.4 60.8,189.6 60.9,193.8 61.1,190.5 61.3,193.4 61.5,191.3 61.7,193.6 61.8,193.3 62.0,192.3 62.2,190.8 62.4,189.8 62.6,192.4 62.7,190.1 62.9,190.0 63.1,193.2 63.3,193.1 63.5,191.5 63.6,191.2 63.8,190.6 64.0,192.1 64.2,190.9 64.4,190.0 64.5,191.2 64.7,192.4 64.9,190.5 65.1,191.7 65.3,192.7 65.4,194.6 65.6,193.2 65.8,193.3 66.0,195.6 66.2,192.9 66.4,193.1 66.5,194.6 66.7,195.0 66.9,194.2 67.1,190.2 67.3,194.2 67.4,194.7 67.6,193.7 67.8,194.1 68.0,195.3 68.2,193.2 68.3,191.8 68.5,190.9 68.7,193.1 68.9,192.5 69.1,193.0 69.2,192.4 69.4,193.9 69.6,194.7 69.8,194.6 70.0,192.9 70.1,195.1 70.3,194.4 70.5,191.7 70.7,195.0 70.9,192.4 71.0,193.3 71.2,196.0 71.4,195.4 71.6,194.0 71.8,194.1 71.9,195.6 72.1,193.2 72.3,195.1 72.5,194.3 72.7,194.7 72.8,194.0 73.0,193.0 73.2,194.8 73.4,193.9 73.6,193.1 73.7,193.8 73.9,194.0 74.1,194.8 74.3,196.1 74.5,195.6 74.6,193.2 74.8,193.7 75.0,194.3 75.2,194.2 75.4,191.3 75.5,192.9 75.7,191.7 75.9,189.3 76.1,189.8 76.3,189.8 76.4,188.8 76.6,188.2 76.8,187.5 77.0,188.1 77.2,186.3 77.2,185.7 77.3,187.7 77.5,186.3 77.5,187.4 77.7,186.2 77.9,188.7 77.9,186.1 78.1,187.4 78.2,190.0 78.4,191.8 78.6,189.9 78.8,193.3 79.0,194.0 79.1,194.1 79.3,193.4 79.5,192.0 79.7,193.3 79.9,193.8 80.0,195.3 80.2,195.4 80.4,195.6 80.6,196.8 80.8,196.6 80.9,199.0 81.1,197.8 81.3,200.1 81.5,199.1 81.7,198.0 81.8,198.5 82.0,197.7 82.2,199.8 82.4,198.8 82.6,199.5 82.7,200.9 82.9,200.2 83.1,200.7 83.3,203.0 83.5,200.9 83.6,201.1 83.8,200.0 84.0,199.0 84.2,200.3 84.4,199.6 84.5,198.4 84.7,202.0 84.9,202.2 85.1,200.8 85.3,202.7 85.4,200.9 85.6,200.5 85.8,199.4 86.0,201.8 86.2,200.6 86.3,200.7 86.5,200.9 86.7,201.0 86.9,200.2 87.1,201.4 87.2,201.7 87.4,203.0 87.6,201.4 87.8,203.4 88.0,202.0 88.1,201.4 88.3,202.5 88.5,202.8 88.7,203.0 88.9,203.7 89.0,203.7 89.2,201.8 89.4,202.4 89.6,204.5 89.8,203.2 89.9,200.2 90.1,202.3 90.3,203.7 90.5,203.3 90.7,201.9 90.8,202.5 91.0,203.4 91.2,202.6 91.4,202.2 91.6,203.6 91.7,202.1 91.9,203.2 92.1,200.4 92.3,200.6 92.5,200.6 92.6,201.8 92.8,200.6 93.0,200.4 93.2,200.4 93.4,201.4 93.4,202.2 93.5,200.7 93.7,202.2 93.7,201.5 93.9,200.9 94.1,201.8 94.1,202.6 94.3,198.9 94.4,202.5 94.6,204.0 94.8,202.5 95.0,203.5 95.2,204.5 95.3,204.0 95.5,204.2 95.7,205.1 95.9,205.4 96.1,204.7 96.2,204.9 96.4,203.3 96.6,204.5 96.8,205.3 97.0,204.9 97.1,205.1 97.3,207.1 97.5,206.6 97.7,206.9 97.9,204.8 98.0,205.6 98.2,205.7 98.4,206.0 98.6,208.2 98.8,209.4 98.9,207.0 99.1,207.0 99.3,206.3 99.5,205.4 99.7,207.1 99.8,206.1 100.0,205.7 100.2,207.2 100.4,206.9 100.6,207.1 100.7,207.5 100.9,208.5 101.1,208.7 101.3,208.6 101.5,207.7 101.6,207.6 101.8,208.1 102.0,208.1 102.2,208.6 102.4,208.2 102.5,209.7 102.7,207.1 102.9,207.7 103.1,207.4 103.3,209.3 103.4,207.4 103.6,207.4 103.8,209.7 104.0,209.8 104.2,209.1 104.3,208.4 104.5,210.4 104.7,209.2 104.9,208.3 105.1,208.1 105.2,208.1 105.4,209.8 105.6,208.7 105.8,208.2 106.0,208.7 106.1,210.4 106.3,209.8 106.5,208.4 106.7,207.8 106.9,209.0 107.0,209.5 107.2,208.9 107.4,209.0 107.6,209.9 107.8,209.0 107.9,208.9 108.1,208.6 108.3,209.0 108.5,208.8 108.7,209.7 108.8,209.5 109.0,208.7 109.2,210.5 109.4,208.2 109.6,209.8 109.7,207.5 109.9,208.3 110.1,209.1 110.3,209.3 110.5,207.9 110.6,208.7 110.8,207.7 111.0,208.6 111.2,208.9 111.4,208.0 111.5,209.6 111.7,208.0 111.9,207.5 112.1,206.0 112.3,206.2 112.4,206.0 112.6,206.2 112.8,206.1 113.0,204.8 113.2,203.7 113.3,203.1 113.5,206.0 113.6,204.4 113.7,204.9 113.9,203.6 114.0,204.4 114.1,204.2 114.2,204.4 114.3,203.9 114.4,203.5 114.6,205.9 114.8,205.8 115.0,205.8 115.1,205.0 115.3,204.6 115.5,205.6 115.7,207.7 115.9,209.6 116.1,207.7 116.2,208.7 116.4,208.3 116.6,209.5 116.8,211.0 117.0,210.5 117.1,211.3 117.3,212.0 117.5,210.9 117.7,209.7 117.9,212.3 118.0,211.7 118.2,211.4 118.4,212.0 118.6,212.0 118.8,213.4 118.9,211.9 119.1,213.4 119.3,212.3 119.5,213.4 119.7,213.6 119.8,213.0 120.0,214.9 120.2,213.2 120.4,212.4 120.6,213.3 120.7,213.4 120.9,213.3 121.1,213.4 121.3,213.7 121.5,214.6 121.6,212.6 121.8,214.8 122.0,213.6 122.2,214.1 122.4,213.5 122.5,215.1 122.7,212.4 122.9,213.0 123.1,214.0 123.3,215.2 123.4,213.5 123.6,215.4 123.8,216.2 124.0,214.1 124.2,213.0 124.3,215.8 124.5,214.9 124.7,215.3 124.9,216.5 125.1,215.6 125.2,215.1 125.4,216.0 125.6,215.0 125.8,216.4 126.0,216.6 126.1,216.6 126.3,215.3 126.5,215.9 126.7,215.6 126.9,215.7 127.0,215.1 127.2,213.5 127.4,215.5 127.6,214.5 127.8,216.5 127.9,215.7 128.1,215.9 128.3,216.1 128.5,217.9 128.7,215.9 128.8,217.8 129.0,218.3 129.2,219.4 129.4,217.6 129.6,216.3 129.7,215.9 129.9,215.9 130.1,214.8 130.3,217.5 130.5,216.4 130.6,215.2 130.8,216.6 131.0,216.2 131.2,217.0 131.4,216.9 131.5,215.7 131.7,216.9 131.9,217.8 132.1,217.5 132.3,217.6 132.4,216.4 132.6,217.1 132.8,218.0 133.0,218.2 133.2,216.9 133.3,217.3 133.5,219.0 133.7,216.2 133.9,217.1 134.1,216.8 134.2,217.8 134.4,218.6 134.6,218.8 134.8,218.5 135.0,219.3 135.1,218.1 135.3,218.4 135.5,216.9 135.7,218.5 135.9,217.2 136.0,218.8 136.2,217.1 136.4,218.2 136.6,218.0 136.8,218.0 136.9,217.4 137.1,218.7 137.3,218.1 137.5,217.3 137.7,217.9 137.8,219.6 138.0,218.2 138.2,220.2 138.4,218.3 138.6,216.9 138.7,219.1 138.9,217.7 139.1,215.7 139.3,219.0 139.5,218.2 139.6,219.5 139.8,219.6 140.0,219.7 140.2,218.6 140.4,217.7 140.5,219.8 140.7,219.2 140.9,219.1 141.1,217.8 141.3,218.4 141.4,219.2 141.6,218.8 141.8,219.1 142.0,218.5 142.2,218.0 142.3,219.8 142.5,219.5 142.7,220.5 142.9,220.9 143.1,219.8 143.2,219.6 143.4,221.3 143.6,220.7 143.8,219.4 144.0,222.0 144.1,220.6 144.3,220.4 144.5,220.0 144.7,220.4 144.9,220.7 145.0,220.9 145.2,221.4 145.4,220.9 145.6,219.5 145.8,220.6 145.9,220.0 146.1,220.0 146.3,219.9 146.5,220.2 146.7,220.1 146.8,220.9 147.0,221.1 147.2,222.2 147.4,220.4 147.6,220.7 147.7,218.7 147.9,220.6 148.1,220.7 148.3,220.0 148.5,220.4 148.6,219.8 148.8,220.2 149.0,220.0 149.2,220.3 149.4,219.2 149.5,221.6 149.7,221.4 149.9,220.7 150.1,220.8 150.3,222.5 150.4,221.7 150.6,220.8 150.8,221.3 151.0,221.7 151.2,221.8 151.3,222.1 151.5,220.9 151.7,221.4 151.9,220.3 152.1,222.2 152.2,221.7 152.4,221.1 152.6,224.1 152.8,223.5 153.0,221.7 153.1,222.9 153.3,221.3 153.5,222.7 153.7,222.7 153.9,221.7 154.0,222.6 154.2,223.7 154.4,223.3 154.6,221.7 154.8,223.3 154.9,223.4 155.1,223.2 155.3,223.7 155.5,222.4 155.7,221.0 155.8,224.2 156.0,222.1 156.2,222.8 156.4,221.6 156.6,223.5 156.7,222.2 156.9,222.9 157.1,223.0 157.3,224.4 157.5,224.8 157.6,223.9 157.8,224.0 158.0,223.2 158.2,222.9 158.4,222.0 158.5,223.1 158.7,221.3 158.9,223.8 159.1,223.6 159.3,223.7 159.4,224.7 159.6,222.4 159.8,223.1 160.0,224.3 160.2,223.5 160.3,224.3 160.5,223.7 160.7,222.8 160.9,223.8 161.1,223.7 161.2,223.8 161.4,223.9 161.6,225.3 161.8,223.1 162.0,223.5 162.1,224.8 162.3,222.9 162.5,223.6 162.7,224.5 162.9,224.0 163.0,223.7 163.2,223.1 163.4,221.5 163.6,223.4 163.8,223.3 163.9,223.2 164.1,222.7 164.3,223.1 164.5,223.2 164.7,222.1 164.8,222.0 165.0,221.1 165.2,222.0 165.4,220.7 165.6,220.9 165.8,222.1 165.9,219.4 166.1,220.2 166.3,221.0 166.5,219.9 166.7,221.0 166.8,219.0 167.0,218.6 167.2,219.9 167.2,218.5 167.4,219.0 167.6,219.0 167.6,219.4 167.7,218.5 167.9,219.6 167.9,219.8 168.1,220.4 168.3,219.7 168.5,220.6 168.6,219.7 168.8,221.7 169.0,220.7 169.2,221.3 169.4,222.1 169.5,221.4 169.7,221.5 169.9,222.4 170.1,222.9 170.3,221.3 170.4,220.9 170.6,222.9 170.8,222.3 171.0,222.7 171.2,223.7 171.3,222.2 171.5,222.3 171.7,223.6 171.9,222.2 172.1,223.5 172.2,223.0 172.4,223.0 172.6,222.5 172.8,221.2 173.0,221.3 173.1,221.3 173.3,220.8 173.5,222.2 173.7,220.9 173.9,220.5 174.0,219.4 174.2,219.7 174.4,218.8 174.6,219.7 174.8,219.5 174.9,218.6 175.1,217.8 175.3,217.6 175.5,218.1 175.7,216.4 175.8,216.4 176.0,214.8 176.2,212.3 176.4,213.8 176.6,211.5 176.7,209.0 176.9,207.2 177.1,204.7 177.3,203.1 177.5,198.4 177.6,194.8 177.8,189.7 178.0,184.4 178.2,179.5 178.4,173.5 178.5,166.4 178.7,162.7 178.9,153.4 178.9,156.8 179.1,151.5 179.3,150.5 179.3,151.1 179.4,152.9 179.6,156.4 179.6,154.2 179.8,161.8 180.0,165.4 180.2,172.4 180.3,178.7 180.5,183.3 180.7,187.6 180.9,192.1 181.1,194.7 181.2,196.9 181.4,200.9 181.6,203.2 181.8,204.7 182.0,205.9 182.1,207.3 182.3,207.9 182.5,208.6 182.7,208.4 182.9,206.7 183.0,209.2 183.2,209.0 183.4,208.9 183.6,208.9 183.8,206.2 183.9,204.4 184.1,207.2 184.3,207.2 184.3,206.8 184.5,206.2 184.7,208.8 184.7,207.1 184.8,209.0 185.0,207.7 185.0,208.2 185.2,205.4 185.4,208.5 185.6,208.0 185.7,208.2 185.9,209.2 186.1,212.4 186.3,210.4 186.5,210.1 186.6,213.0 186.8,212.2 187.0,213.5 187.2,214.8 187.4,214.7 187.5,214.9 187.7,215.4 187.9,214.8 188.1,214.3 188.3,215.4 188.4,215.0 188.6,215.5 188.8,215.3 189.0,215.6 189.2,215.9 189.3,214.6 189.5,215.1 189.7,215.3 189.9,216.0 190.1,215.0 190.2,214.1 190.4,216.2 190.6,214.8 190.8,215.6 191.0,215.3 191.1,216.0 191.3,214.2 191.5,216.4 191.7,215.0 191.9,215.5 192.0,213.9 192.2,215.7 192.4,212.9 192.6,211.9 192.8,211.8 192.9,209.9 193.1,212.8 193.3,210.0 193.5,211.1 193.7,210.8 193.8,210.3 194.0,208.6 194.2,207.0 194.4,206.5 194.6,204.2 194.7,200.7 194.9,199.1 195.1,197.3 195.3,193.9 195.5,187.4 195.6,185.1 195.8,179.6 196.0,174.7 196.2,168.2 196.4,160.9 196.5,154.6 196.7,148.2 196.9,143.1 196.9,141.8 197.1,138.9 197.3,138.9 197.3,137.0 197.4,137.6 197.6,142.3 197.6,141.3 197.8,148.2 198.0,153.9 198.2,161.3 198.3,169.4 198.5,174.3 198.7,180.9 198.9,187.1 199.1,192.0 199.2,194.8 199.4,200.2 199.6,202.3 199.8,204.8 200.0,207.7 200.1,209.5 200.3,210.5 200.5,212.1 200.7,212.6 200.9,211.9 201.0,212.6 201.2,213.3 201.4,213.9 201.6,215.2 201.8,214.2 201.9,216.6 202.1,217.6 202.3,218.3 202.5,218.1 202.7,217.9 202.8,221.0 203.0,219.4 203.2,219.7 203.4,220.3 203.6,219.2 203.7,219.6 203.9,220.2 204.1,221.2 204.3,220.3 204.5,221.0 204.6,221.1 204.8,221.4 205.0,220.7 205.2,222.0 205.4,221.4 205.5,220.8 205.7,220.7 205.9,222.1 206.1,221.5 206.3,220.9 206.4,222.1 206.6,221.6 206.8,221.1 207.0,220.3 207.2,220.9 207.3,220.9 207.5,220.1 207.7,223.0 207.9,220.8 208.1,219.7 208.2,219.4 208.4,220.9 208.6,219.5 208.8,219.4 209.0,218.6 209.1,219.0 209.3,218.7 209.5,217.1 209.7,217.4 209.9,216.4 210.0,217.4 210.2,216.1 210.4,216.1 210.6,214.3 210.8,213.5 210.9,210.0 211.1,209.1 211.3,207.0 211.5,204.2 211.7,201.6 211.8,199.0 212.0,194.4 212.2,189.0 212.4,181.8 212.6,173.4 212.7,163.4 212.9,152.5 213.1,140.5 213.3,127.3 213.5,115.3 213.6,110.9 213.6,107.1 213.8,99.7 213.9,99.7 214.0,101.0 214.2,106.0 214.3,109.6 214.4,116.0 214.5,126.6 214.7,141.1 214.9,152.4 215.1,162.8 215.3,173.2 215.5,181.0 215.6,189.0 215.8,193.1 216.0,198.7 216.2,201.2 216.4,205.0 216.5,207.7 216.7,210.0 216.9,211.6 217.1,211.7 217.3,215.0 217.4,216.0 217.6,215.5 217.8,216.4 218.0,217.5 218.2,216.2 218.3,217.8 218.5,218.9 218.7,219.1 218.9,219.1 219.1,218.5 219.2,220.1 219.4,219.7 219.6,219.6 219.8,219.0 220.0,218.4 220.1,218.8 220.3,219.3 220.5,218.1 220.7,218.4 220.9,218.6 221.0,218.1 221.2,216.8 221.4,215.5 221.6,216.2 221.8,214.7 221.9,214.2 222.1,214.5 222.3,213.6 222.5,211.8 222.7,211.4 222.8,210.5 223.0,209.7 223.2,209.1 223.4,207.7 223.6,204.6 223.7,205.2 223.9,203.9 224.1,202.7 224.3,201.3 224.5,200.1 224.6,199.2 224.8,199.2 224.8,199.2 225.0,199.4 225.2,199.1 225.2,198.1 225.4,198.3 225.5,197.2 225.5,198.6 225.7,197.7 225.9,198.4 226.1,198.3 226.3,199.9 226.4,202.6 226.6,200.9 226.8,202.4 227.0,203.2 227.2,203.7 227.3,203.6 227.5,204.7 227.7,205.7 227.9,205.8 228.1,205.1 228.2,205.8 228.4,207.8 228.6,207.7 228.8,207.8 229.0,208.2 229.1,208.4 229.3,208.2 229.3,210.3 229.5,208.8 229.7,209.9 229.7,209.5 229.9,210.3 230.0,209.9 230.0,209.2 230.2,210.0 230.4,211.4 230.6,213.6 230.8,214.6 230.9,214.4 231.1,214.9 231.3,216.3 231.5,216.6 231.7,216.9 231.8,217.4 232.0,218.7 232.2,220.1 232.4,220.9 232.6,221.2 232.7,220.9 232.9,222.6 233.1,220.9 233.3,222.6 233.5,223.2 233.6,222.9 233.8,223.2 234.0,225.3 234.2,224.6 234.4,225.1 234.5,226.0 234.7,225.5 234.9,224.5 235.1,225.7 235.3,225.7 235.4,226.7 235.6,227.2 235.8,225.5 236.0,225.6 236.2,226.9 236.3,226.0 236.5,225.2 236.7,224.6 236.9,225.2 237.1,224.0 237.2,223.6 237.4,222.8 237.6,221.2 237.8,219.3 238.0,217.5 238.1,216.9 238.3,215.0 238.5,213.4 238.7,210.7 238.9,207.9 239.0,203.5 239.2,200.0 239.4,195.6 239.6,190.8 239.8,185.9 239.9,183.3 240.1,178.3 240.1,178.7 240.3,175.7 240.5,174.4 240.5,175.3 240.7,176.7 240.8,179.0 240.8,178.2 241.0,183.0 241.2,187.9 241.4,192.9 241.6,197.3 241.7,201.6 241.9,205.4 242.1,209.7 242.3,212.1 242.5,215.3 242.6,216.3 242.8,220.4 243.0,222.1 243.2,222.9 243.4,223.9 243.5,225.8 243.7,226.4 243.9,226.7 244.1,227.5 244.3,228.2 244.4,228.4 244.6,230.2 244.8,228.6 245.0,230.1 245.2,229.9 245.3,229.0 245.5,230.7 245.7,229.4 245.9,230.3 246.1,230.7 246.2,231.4 246.4,231.5 246.6,232.7 246.8,232.4 247.0,232.2 247.1,232.4 247.3,232.8 247.5,232.3 247.7,233.1 247.9,233.5 248.0,233.3 248.2,232.9 248.4,232.8 248.6,232.9 248.8,232.1 248.9,232.8 249.1,233.4 249.3,232.3 249.5,232.5 249.7,232.9 249.8,232.5 250.0,232.5 250.2,233.1 250.4,232.8 250.6,233.4 250.7,232.3 250.9,232.3 251.1,231.3 251.3,231.8 251.5,232.1 251.6,231.5 251.8,229.7 252.0,230.0 252.2,229.2 252.4,229.4 252.5,229.1 252.7,228.1 252.7,228.2 252.9,228.3 253.1,228.7 253.1,229.0 253.3,229.7 253.4,230.2 253.4,228.3 253.6,229.2 253.8,229.0 254.0,229.3 254.2,228.8 254.3,230.3 254.5,230.8 254.7,230.7 254.9,231.8 255.1,231.7 255.2,231.2 255.4,232.2 255.6,232.7 255.8,232.3 256.0,233.2 256.1,234.3 256.3,233.7 256.5,233.6 256.7,233.1 256.9,233.8 257.0,234.1 257.2,234.8 257.4,234.0 257.6,234.0 257.8,234.3 257.9,235.7 258.1,235.7 258.3,234.6 258.5,236.5 258.7,234.0 258.8,233.9 259.0,235.0 259.2,234.4 259.4,234.5 259.6,234.4 259.7,235.2 259.9,235.0 260.1,234.8 260.3,234.1 260.5,235.5 260.6,234.3 260.8,235.2 261.0,236.0 261.2,234.2 261.4,234.5 261.5,234.7 261.7,234.9 261.9,234.8 262.1,234.0 262.3,234.9 262.4,234.3 262.6,235.0 262.8,233.5 263.0,233.1 263.2,233.7 263.3,234.1 263.5,234.7 263.7,235.0 263.9,233.6 264.1,234.0 264.2,232.9 264.4,235.7 264.6,234.1 264.8,233.6 265.0,233.2 265.2,233.6 265.3,233.7 265.5,232.2 265.7,232.5 265.9,232.3 266.1,232.8 266.2,231.7 266.4,232.2 266.6,231.5 266.8,232.1 267.0,229.6 267.1,229.2 267.3,228.7 267.5,228.2 267.7,227.3 267.9,225.4 268.0,224.5 268.2,223.2 268.4,219.7 268.6,219.0 268.8,215.7 268.9,214.2 269.1,212.5 269.3,208.4 269.5,205.8 269.7,204.2 269.8,202.1 269.8,202.7 270.0,201.2 270.2,199.8 270.2,199.8 270.4,200.6 270.6,201.2 270.6,202.4 270.7,204.5 270.9,206.2 271.1,207.8 271.3,211.2 271.5,214.2 271.6,216.2 271.8,218.1 272.0,220.2 272.2,222.8 272.4,223.8 272.5,225.6 272.7,227.5 272.9,227.1 273.1,229.0 273.3,229.6 273.4,230.6 273.6,231.6 273.8,231.6 274.0,232.1 274.2,234.6 274.3,234.1 274.5,233.8 274.7,232.7 274.9,233.1 275.1,233.2 275.2,233.8 275.4,234.6 275.6,235.1 275.8,234.2 276.0,235.7 276.1,235.2 276.3,235.5 276.5,234.9 276.7,235.7 276.9,234.3 277.0,235.7 277.2,235.0 277.4,235.2 277.6,235.6 277.8,235.9 277.9,234.4 278.1,236.9 278.3,236.1 278.5,236.0 278.7,235.9 278.8,235.8 279.0,236.0 279.2,235.8 279.4,235.8 279.6,235.1 279.7,235.5 279.9,236.7 280.1,236.1 280.3,235.9 280.5,236.8 280.6,235.5 280.8,237.2 281.0,236.2 281.2,235.6 281.4,235.2 281.5,235.2 281.7,235.1 281.9,236.3 282.1,236.6 282.3,235.9 282.4,235.2 282.6,235.6 282.8,234.4 283.0,234.8 283.2,235.2 283.3,236.4 283.5,234.9 283.7,235.4 283.9,235.3 284.1,234.2 284.2,234.4 284.4,233.8 284.6,232.8 284.8,233.6 285.0,233.0 285.1,232.8 285.3,232.1 285.5,230.6 285.7,229.8 285.9,229.7 286.0,229.3 286.2,229.6 286.4,228.3 286.6,226.6 286.8,226.4 286.9,224.7 287.1,222.6 287.3,222.2 287.5,218.8 287.7,218.5 287.8,217.8 288.0,215.7 288.2,214.9 288.3,212.8 288.4,213.2 288.6,213.0 288.6,212.7 288.7,212.5 288.9,212.7 289.0,213.2 289.1,213.9 289.3,214.8 289.5,216.7 289.6,217.5 289.8,220.1 290.0,220.9 290.2,221.4 290.4,223.3 290.5,226.0 290.7,227.9 290.9,227.8 291.1,229.2 291.3,229.5 291.4,231.4 291.6,231.2 291.8,231.3 292.0,232.8 292.2,231.0 292.3,233.3 292.5,232.5 292.7,233.9 292.9,233.7 293.1,233.7 293.2,234.4 293.4,234.5 293.6,236.2 293.8,234.9 294.0,236.2 294.1,235.8 294.3,235.2 294.5,234.5 294.7,236.0 294.9,235.9 295.0,234.7 295.2,237.2 295.4,236.0 295.6,235.8 295.8,236.9 295.9,236.6 296.1,236.4 296.3,236.2 296.5,236.4 296.7,234.6 296.8,235.8 297.0,235.8 297.2,238.1 297.4,236.7 297.6,236.4 297.7,236.7 297.9,236.3 298.1,236.8 298.3,236.1 298.5,236.8 298.6,236.8 298.8,236.6 299.0,236.6 299.2,236.6 299.4,236.3 299.5,236.8 299.7,236.7 299.9,236.6 300.1,236.9 300.3,237.2 300.4,237.0 300.6,236.7 300.8,237.7 301.0,238.0 301.2,236.4 301.3,237.2 301.5,237.3 301.7,236.8 301.9,237.5 302.1,236.9 302.2,238.0 302.4,236.5 302.6,237.1 302.8,236.2 303.0,236.4 303.1,238.0 303.3,238.0 303.5,238.9 303.7,239.0 303.9,237.4 304.0,238.9 304.2,237.0 304.4,237.4 304.6,236.9 304.8,237.6 304.9,237.4 305.1,237.2 305.3,238.6 305.5,237.1 305.7,237.2 305.8,237.1 306.0,239.0 306.2,237.6 306.4,237.8 306.6,237.6 306.7,237.3 306.9,237.6 307.1,236.3 307.3,237.2 307.5,237.9 307.6,236.9 307.8,238.2 308.0,237.5 308.2,238.3 308.4,237.8 308.5,237.5 308.7,237.3 308.9,239.2 309.1,238.7 309.3,237.7 309.4,239.6 309.6,237.4 309.8,237.5 310.0,238.8 310.2,237.9 310.3,239.0 310.5,238.5 310.7,239.3 310.9,239.0 311.1,239.0 311.2,239.3 311.4,237.8 311.6,237.8 311.8,238.2 312.0,238.2 312.1,238.3 312.3,238.9 312.5,238.5 312.7,238.3 312.9,239.5 313.0,240.7 313.2,239.5 313.4,239.5 313.6,238.7 313.8,238.1 314.0,239.2 314.1,239.9 314.3,238.9 314.5,239.5 314.7,239.0 314.9,238.5 315.0,238.8 315.2,238.7 315.4,239.4 315.6,239.1 315.8,240.4 315.9,240.0 316.1,238.5 316.3,238.6 316.5,238.4 316.7,239.5 316.8,240.0 317.0,238.8 317.2,238.8 317.4,238.6 317.6,238.9 317.7,239.3 317.9,239.2 318.1,238.7 318.3,238.9 318.5,239.2 318.6,239.0 318.8,238.2 319.0,238.7 319.2,238.0 319.4,238.5 319.5,238.3 319.7,238.9 319.9,238.6 320.1,238.1 320.3,238.1 320.4,239.8 320.6,238.6 320.8,239.6 321.0,239.2 321.2,239.3 321.3,239.8 321.5,238.8 321.7,239.2 321.9,238.7 322.1,239.1 322.2,238.4 322.4,238.2 322.6,239.2 322.8,239.0 323.0,239.0 323.1,238.2 323.3,239.1 323.5,237.7 323.7,238.3 323.9,237.8 324.0,238.9 324.2,238.6 324.4,238.7 324.6,236.8 324.8,237.7 324.9,236.5 325.1,237.4 325.3,238.3 325.5,236.4 325.7,237.3 325.8,235.2 326.0,236.5 326.2,236.7 326.4,235.7 326.6,235.6 326.6,235.8 326.7,236.3 326.9,235.7 326.9,235.8 327.1,235.5 327.3,236.1 327.3,236.2 327.5,235.9 327.6,236.6 327.8,236.6 328.0,237.2 328.2,238.2 328.4,237.6 328.5,237.9 328.7,237.5 328.9,237.5 329.1,237.6 329.3,238.4 329.4,238.4 329.6,239.6 329.8,239.0 330.0,239.6 330.2,239.0 330.3,238.5 330.5,238.5 330.7,237.3 330.9,239.9 331.1,239.0 331.2,238.4 331.4,239.8 331.6,239.1 331.8,239.2 332.0,239.6 332.1,238.9 332.3,239.7 332.5,238.9 332.7,238.5 332.9,239.5 333.0,238.9 333.2,239.1 333.4,240.1 333.6,241.1 333.8,239.0 333.9,239.3 334.1,239.9 334.3,241.0 334.5,239.6 334.7,240.0 334.8,239.1 335.0,239.8 335.2,239.2 335.4,239.0 335.6,239.7 335.7,240.7 335.9,240.5 336.1,240.8 336.3,240.3 336.5,239.1 336.6,239.8 336.8,239.9 337.0,240.5 337.2,240.4 337.4,240.3 337.5,239.7 337.7,240.5 337.9,239.1 338.1,239.5 338.3,239.4 338.4,240.0 338.6,241.0 338.8,240.1 339.0,241.9 339.2,240.2 339.3,241.8 339.5,240.2 339.7,240.8 339.9,239.8 340.1,240.3 340.2,239.7 340.4,240.8 340.6,239.3 340.8,240.3 341.0,240.8 341.1,239.9 341.3,239.7 341.5,240.0 341.7,238.1 341.9,239.8 342.0,240.1 342.2,239.9 342.4,239.5 342.6,240.4 342.8,240.7 342.9,241.0 343.1,240.2 343.3,240.6 343.5,240.4 343.7,240.0 343.8,239.8 344.0,239.6 344.2,239.8 344.4,240.0 344.6,241.4 344.7,240.9 344.9,240.8 345.1,240.4 345.3,241.8 345.5,241.6 345.6,240.3 345.8,240.1 346.0,240.2 346.2,240.2 346.4,239.5 346.5,240.4 346.7,240.3 346.9,241.2 347.1,240.8 347.3,240.2 347.4,241.1 347.6,241.0 347.8,240.6 348.0,240.2 348.2,240.0 348.3,240.7 348.5,240.4 348.7,239.9 348.9,240.2 349.1,239.6 349.2,241.2 349.4,240.6 349.6,241.3 349.8,239.9 350.0,240.2 350.1,239.6 350.3,240.9 350.5,241.6 350.7,239.9 350.9,240.4 351.0,240.9 351.2,239.6 351.4,240.2 351.6,240.1 351.8,240.3 351.9,239.6 352.1,239.1 352.3,239.3 352.5,240.0 352.7,239.9 352.8,240.3 353.0,240.4 353.2,240.5 353.4,240.4 353.6,239.9 353.7,239.9 353.9,239.2 354.1,239.6 354.3,239.4 354.5,241.5 354.6,238.9 354.8,240.0 355.0,239.8 355.2,239.5 355.4,239.1 355.5,239.0 355.7,238.5 355.9,238.9 356.1,239.0 356.3,238.5 356.4,239.3 356.6,238.1 356.8,239.7 357.0,240.0 357.2,238.2 357.3,237.9 357.5,238.6 357.7,235.8 357.9,236.2 358.1,235.6 358.2,235.4 358.4,236.0 358.6,235.7 358.8,234.5 359.0,235.2 359.1,233.2 359.3,233.4 359.5,234.2 359.7,234.6 359.9,233.7 359.9,233.7 360.0,232.9 360.2,233.1 360.2,232.4 360.4,233.0 360.6,232.4 360.6,233.0 360.8,232.1 360.9,233.1 361.1,234.1 361.3,233.4 361.5,234.8 361.7,235.7 361.8,235.8 362.0,236.0 362.2,236.4 362.4,235.8 362.6,236.5 362.7,238.3 362.9,236.4 363.1,237.5 363.3,236.8 363.5,239.2 363.7,237.8 363.8,238.6 364.0,238.8 364.2,238.6 364.4,240.7 364.6,239.5 364.7,239.4 364.9,238.5 365.1,239.5 365.3,238.8 365.5,240.0 365.6,239.3 365.8,238.9 366.0,240.2 366.2,239.9 366.4,239.4 366.5,239.4 366.7,239.6 366.9,239.3 367.1,239.9 367.3,238.7 367.4,239.4 367.6,238.9 367.8,240.0 368.0,239.9 368.2,240.6 368.3,239.5 368.5,238.9 368.7,240.5 368.9,239.7 369.1,239.1 369.2,239.9 369.4,240.6 369.6,239.7 369.8,240.1 370.0,239.5 370.1,239.8 370.3,240.0 370.5,239.7 370.7,239.8 370.9,239.4 371.0,240.4 371.2,240.3 371.4,241.4 371.6,239.4 371.8,239.4 371.9,239.9 372.1,239.5 372.3,239.6 372.5,239.9 372.7,240.1 372.8,240.1 373.0,239.9 373.2,240.6 373.4,240.7 373.6,240.7 373.7,240.3 373.9,239.6 374.1,239.6 374.3,238.9 374.5,240.3 374.6,240.5 374.8,240.5 375.0,238.8 375.2,240.6 375.4,239.7 375.5,239.7 375.7,240.3 375.9,239.8 376.1,239.0 376.3,239.5 376.4,239.0 376.6,238.8 376.8,239.6 377.0,238.1 377.2,238.0 377.3,239.0 377.5,239.0 377.7,239.1 377.9,239.6 378.1,238.6 378.2,239.7 378.4,238.5 378.6,238.4 378.8,239.5 379.0,238.8 379.1,238.7 379.3,238.7 379.5,239.6 379.7,239.2 379.9,238.1 380.0,238.6 380.2,238.2 380.4,237.7 380.6,236.8 380.8,238.5 380.9,238.6 381.1,237.1 381.3,237.8 381.5,239.5 381.7,238.7 381.8,237.2 382.0,237.9 382.2,238.1 382.4,237.9 382.6,238.0 382.7,237.8 382.9,237.7 383.1,238.1 383.3,236.7 383.5,238.3 383.6,237.6 383.8,237.3 384.0,238.5 384.2,238.1 384.4,237.5 384.5,238.0 384.7,237.6 384.9,238.1 385.1,238.4 385.3,238.2 385.4,236.6 385.6,236.5 385.8,236.5 386.0,235.9 386.2,235.8 386.3,237.5 386.5,236.1 386.7,236.8 386.9,236.1 387.1,236.6 387.2,236.9 387.4,235.8 387.6,235.6 387.8,235.7 388.0,235.4 388.1,235.2 388.3,235.6 388.5,235.7 388.7,235.0 388.9,235.3 389.0,233.4 389.2,233.5 389.4,233.8 389.6,233.5 389.8,231.9 389.9,230.8 390.1,230.8 390.3,231.0 390.5,230.5 390.7,229.8 390.8,229.1 391.0,226.7 391.2,226.2 391.4,225.5 391.4,225.9 391.6,226.4 391.7,225.8 391.7,225.4 391.9,225.2 392.1,223.9 392.1,225.8 392.3,225.7 392.5,227.1 392.6,228.0 392.8,227.7 393.0,230.0 393.2,230.0 393.4,230.6 393.5,230.4 393.7,231.5 393.9,232.3 394.1,232.6 394.3,232.7 394.4,233.1 394.6,233.9 394.8,233.3 395.0,233.9 395.2,234.5 395.3,232.5 395.5,232.9 395.7,233.0 395.9,233.5 396.1,233.7 396.2,233.9 396.4,234.8 396.6,234.5 396.8,233.1 397.0,233.8 397.1,233.3 397.3,232.7 397.5,233.2 397.7,233.4 397.9,231.5 398.0,232.8 398.2,231.2 398.4,231.0 398.6,230.8 398.8,229.8 398.9,229.5 399.1,228.8 399.3,228.7 399.5,227.7 399.7,227.1 399.8,226.0 400.0,226.0 400.2,225.0 400.4,222.9 400.6,222.4 400.7,221.7 400.9,219.2 401.1,217.8 401.3,215.4 401.5,213.0 401.6,210.7 401.8,208.6 402.0,206.6 402.2,203.6 402.4,202.0 402.5,201.7 402.6,199.5 402.7,198.8 402.9,198.4 403.0,199.0 403.1,198.8 403.3,199.8 403.4,199.3 403.4,201.0 403.6,201.2 403.8,202.7 404.0,205.9 404.2,207.9 404.3,210.1 404.5,210.2 404.7,213.0 404.9,214.6 405.1,215.5 405.2,215.7 405.4,218.9 405.6,219.7 405.8,220.7 406.0,220.7 406.1,221.6 406.3,223.2 406.5,223.0 406.7,223.5 406.9,224.1 407.0,224.4 407.2,225.1 407.4,224.6 407.6,225.6 407.8,226.0 407.9,225.0 408.1,224.2 408.3,224.8 408.5,225.5 408.7,225.6 408.8,224.3 409.0,224.6 409.2,224.2 409.4,223.8 409.6,224.8 409.7,224.7 409.9,225.6 410.1,223.7 410.3,224.4 410.5,223.9 410.6,224.0 410.8,222.9 411.0,222.6 411.2,223.3 411.4,222.5 411.5,220.6 411.7,221.0 411.9,219.3 412.1,219.1 412.3,219.6 412.4,218.2 412.6,217.0 412.8,216.3 413.0,214.6 413.2,213.5 413.4,212.6 413.5,210.2 413.7,209.4 413.9,208.8 414.1,206.2 414.3,204.7 414.4,203.9 414.6,202.3 414.8,199.6 415.0,198.7 415.2,195.9 415.3,194.5 415.5,193.7 415.7,193.5 415.9,191.3 416.1,191.1 416.1,191.0 416.2,189.5 416.4,189.6 416.5,190.1 416.6,190.8 416.8,190.2 416.9,189.2 417.0,191.2 417.1,192.2 417.3,191.7 417.5,194.6 417.7,195.6 417.9,196.7 418.0,199.7 418.2,201.6 418.4,201.6 418.6,204.5 418.8,205.6 418.9,207.2 419.1,208.6 419.3,210.2 419.5,211.3 419.7,213.2 419.8,214.1 420.0,216.1 420.2,216.6 420.4,217.0 420.6,218.4 420.7,219.9 420.9,219.9 421.1,221.0 421.3,219.6 421.5,221.1 421.6,221.3 421.8,222.5 422.0,223.0 422.0,221.9 422.2,223.1 422.4,224.2 422.4,224.1 422.5,223.0 422.7,225.9 422.7,224.4 422.9,225.8 423.1,225.3 423.3,226.7 423.4,227.9 423.6,228.7 423.8,228.5 424.0,228.1 424.2,230.3 424.3,230.2 424.5,230.9 424.7,232.2 424.9,230.9 425.1,233.8 425.2,231.8 425.4,233.5 425.6,234.1 425.8,233.4 426.0,235.0 426.1,233.6 426.3,234.8 426.5,234.7 426.7,234.5 426.9,235.4 427.0,234.4 427.2,234.7 427.4,236.7 427.6,236.4 427.8,235.4 427.9,235.4 428.1,236.2 428.3,236.1 428.5,237.4 428.7,236.9 428.8,237.8 429.0,237.2 429.2,236.8 429.4,239.2 429.6,237.9 429.7,237.1 429.9,237.8 430.1,238.8 430.3,237.4 430.5,237.4 430.6,237.4 430.8,239.1 431.0,239.7 431.2,237.9 431.4,238.3 431.5,238.6 431.7,238.5 431.9,239.8 432.1,239.3 432.3,238.8 432.4,239.6 432.6,239.1 432.8,237.9 433.0,238.6 433.2,240.4 433.3,239.1 433.5,238.9 433.7,239.5 433.9,239.2 434.1,239.2 434.2,239.1 434.4,239.4 434.6,239.9 434.8,239.1 435.0,239.2 435.1,239.4 435.3,239.0 435.5,239.5 435.7,239.8 435.9,239.2 436.0,238.4 436.2,239.5 436.4,238.4 436.6,239.9 436.8,239.8 436.9,239.3 437.1,239.6 437.3,239.2 437.5,237.9 437.7,239.8 437.8,240.0 438.0,239.2 438.2,239.7 438.4,239.6 438.6,239.9 438.7,240.0 438.9,239.8 439.1,238.8 439.3,239.1 439.5,239.8 439.6,239.1 439.8,238.8 440.0,238.8 440.2,239.4 440.4,239.7 440.5,238.3 440.7,239.7 440.9,240.6 441.1,239.5 441.3,239.6 441.4,239.8 441.6,239.7 441.8,239.9 442.0,239.5 442.2,240.9 442.3,240.6 442.5,240.2 442.7,240.6 442.9,239.7 443.1,239.4 443.2,239.3 443.4,239.9 443.6,240.6 443.8,240.3 444.0,239.4 444.1,238.4 444.3,238.8 444.5,238.7 444.7,239.6 444.9,239.9 445.0,237.4 445.2,238.6 445.4,239.1 445.6,240.1 445.8,239.3 445.9,239.3 446.1,239.9 446.3,238.6 446.5,238.4 446.7,237.9 446.8,238.3 447.0,236.7 447.2,237.5 447.4,237.0 447.6,236.8 447.7,237.0 447.9,237.1 448.1,236.9 448.1,236.0 448.3,236.6 448.5,235.7 448.5,236.2 448.6,236.0 448.8,235.9 448.8,236.9 449.0,236.9 449.2,236.9 449.4,237.5 449.5,238.3 449.7,237.0 449.9,237.6 450.1,238.3 450.3,237.9 450.4,238.8 450.6,238.6 450.8,239.1 451.0,239.7 451.2,239.7 451.3,238.7 451.5,239.6 451.7,240.7 451.9,239.7 452.1,239.8 452.2,240.4 452.4,240.6 452.6,239.8 452.8,241.2 453.0,240.5 453.1,240.6 453.3,239.8 453.5,240.2 453.7,239.5 453.9,241.2 454.0,240.6 454.2,238.9 454.4,239.7 454.6,240.3 454.8,240.4 454.9,239.8 455.1,241.0 455.3,240.7 455.5,240.6 455.7,240.2 455.8,241.2 456.0,239.8 456.2,239.0 456.4,240.6 456.6,242.0 456.7,242.0 456.9,240.4 457.1,240.2 457.3,241.4 457.5,239.7 457.6,241.2 457.8,240.0 458.0,239.9 458.2,239.9 458.4,240.2 458.5,240.5 458.7,240.2 458.9,240.3 459.1,240.3 459.3,240.0 459.4,241.7 459.6,241.0 459.8,239.7 460.0,240.4 460.2,241.6 460.3,240.1 460.5,241.1 460.7,240.4 460.9,240.2 461.1,240.9 461.2,240.3 461.4,239.0 461.6,240.4 461.8,239.2 462.0,240.2 462.1,241.0 462.3,240.1 462.5,240.9 462.7,239.6 462.9,239.1 463.1,239.4 463.2,239.4 463.4,240.6 463.6,239.6 463.8,240.5 464.0,239.9 464.1,239.5 464.3,239.4 464.5,239.7 464.7,239.3 464.9,238.4 465.0,239.0 465.2,239.5 465.4,238.9 465.6,239.8 465.8,238.3 465.9,238.9 466.1,238.8 466.3,238.6 466.5,237.5 466.7,238.4 466.8,238.4 467.0,238.1 467.2,237.5 467.4,237.0 467.6,237.2 467.7,235.7 467.9,237.7 468.1,236.9 468.3,236.9 468.5,235.7 468.6,236.2 468.8,235.6 469.0,235.7 469.2,234.5 469.4,235.5 469.5,234.8 469.7,235.2 469.9,234.1 470.1,232.9 470.3,232.6 470.4,232.9 470.6,231.3 470.8,230.0 471.0,229.4 471.2,228.2 471.3,227.5 471.5,226.3 471.7,224.0 471.9,222.7 472.1,221.6 472.2,220.6 472.4,218.3 472.6,215.2 472.8,213.2 473.0,208.5 473.1,205.8 473.3,202.3 473.5,199.8 473.7,195.0 473.9,193.4 474.0,187.9 474.2,186.2 474.4,182.4 474.6,180.1 474.7,179.5 474.8,177.9 474.9,177.2 475.0,176.8 475.1,176.8 475.3,176.7 475.4,178.2 475.5,179.5 475.7,181.8 475.8,185.4 476.0,188.2 476.2,192.2 476.4,196.0 476.6,199.5 476.7,201.9 476.9,205.6 477.1,209.9 477.3,211.0 477.5,214.0 477.6,216.1 477.8,219.6 478.0,221.2 478.2,222.0 478.4,224.6 478.5,224.9 478.7,227.3 478.9,227.9 479.1,228.8 479.3,230.2 479.4,230.9 479.6,230.6 479.8,230.7 480.0,231.7 480.2,232.4 480.3,232.6 480.5,232.9 480.7,233.8 480.9,234.5 481.1,233.9 481.2,234.9 481.4,233.9 481.6,234.7 481.8,235.9 482.0,235.5 482.1,236.3 482.3,236.4 482.5,236.3 482.7,236.7 482.9,237.4 483.0,237.7 483.2,236.8 483.4,236.9 483.6,237.5 483.8,238.4 483.9,237.5 484.1,237.0 484.3,238.6 484.5,237.1 484.7,237.4 484.8,238.7 485.0,237.8 485.2,238.3 485.4,238.3 485.6,237.8 485.7,238.4 485.9,238.2 486.1,237.9 486.3,236.8 486.5,238.7 486.6,238.5 486.8,237.7 487.0,238.4 487.2,238.3 487.4,239.7 487.5,238.6 487.7,238.7 487.9,239.2 488.1,239.8 488.3,236.8 488.4,238.7 488.6,239.6 488.8,239.1 489.0,238.6 489.2,239.9 489.3,239.3 489.5,239.1 489.7,239.1 489.9,239.8 490.1,239.9 490.2,239.3 490.4,238.1 490.6,238.9 490.8,238.4 491.0,238.6 491.1,239.1 491.3,239.1 491.5,238.9 491.7,239.6 491.9,238.7 492.0,240.0 492.2,238.7 492.4,238.8 492.6,238.1 492.8,238.8 492.9,238.5 493.1,239.2 493.3,238.9 493.5,239.2 493.7,239.1 493.8,238.1 494.0,238.1 494.2,238.2 494.4,239.2 494.6,237.2 494.7,238.7 494.9,236.7 494.9,237.9 495.1,236.9 495.3,238.2 495.3,237.8 495.5,238.8 495.6,238.7 495.6,237.6 495.8,238.6 496.0,236.9 496.2,237.6 496.4,237.5 496.5,239.7 496.7,238.2 496.9,237.9 497.1,237.4 497.3,238.4 497.4,239.3 497.6,239.9 497.8,238.2 498.0,238.8 498.2,240.6 498.3,239.3 498.5,240.4 498.7,240.1 498.9,239.8 499.1,239.7 499.2,239.7 499.4,240.6 499.6,240.4 499.8,238.2 500.0,240.5 500.1,240.5 500.3,240.8 500.5,240.6 500.7,240.3 500.9,240.1 501.0,239.8 501.2,240.7 501.4,239.9 501.6,240.5 501.8,240.6 501.9,240.3 502.1,240.4 502.3,239.3 502.5,240.2 502.7,240.1 502.8,240.5 503.0,240.5 503.2,240.2 503.4,240.4 503.6,240.6 503.7,240.2 503.9,240.9 504.1,241.2 504.3,241.8 504.5,241.4 504.6,241.4 504.8,240.7 505.0,240.9 505.2,240.3 505.4,241.6 505.5,240.9 505.7,241.0 505.9,241.0 506.1,240.2 506.3,240.7 506.4,239.9 506.6,240.4 506.8,241.6 507.0,240.9 507.2,241.2 507.3,241.2 507.5,239.8 507.7,240.9 507.9,240.2 508.1,240.6 508.2,240.4 508.4,240.6 508.6,240.5 508.8,241.2 509.0,240.9 509.1,239.9 509.3,240.2 509.5,239.2 509.7,239.1 509.9,240.2 510.0,240.8 510.2,239.6 510.4,240.7 510.6,239.8 510.8,239.4 510.9,239.2 511.1,239.1 511.3,239.2 511.5,239.5 511.7,238.5 511.8,238.6 512.0,237.4 512.2,237.6 512.4,237.3 512.6,236.4 512.8,236.5 512.9,236.7 513.1,236.9 513.3,235.5 513.5,234.2 513.7,234.1 513.8,233.8 513.8,234.3 514.0,233.1 514.2,235.4 514.2,233.8 514.4,234.5 514.6,232.5 514.6,234.5 514.7,234.1 514.9,234.4 515.1,235.0 515.3,236.3 515.5,235.9 515.6,237.1 515.8,237.1 516.0,237.8 516.2,238.0 516.4,239.2 516.5,239.1 516.7,239.2 516.9,239.5 517.1,240.4 517.3,240.7 517.4,240.3 517.6,241.3 517.8,239.6 518.0,240.5 518.2,241.3 518.3,241.4 518.5,241.1 518.7,241.4 518.9,241.4 519.1,242.0 519.2,241.6 519.4,241.0 519.6,242.0 519.8,241.8 520.0,240.8 520.1,242.0 520.3,241.7 520.5,242.1 520.7,242.9 520.9,242.3 521.0,243.2 521.2,241.7 521.4,241.7 521.6,242.2 521.8,241.9 521.9,241.6 522.1,242.8 522.3,243.6 522.5,241.3 522.7,241.9 522.8,242.3 523.0,241.9 523.2,241.0 523.4,242.3 523.6,241.5 523.7,241.7 523.9,242.1 524.1,243.1 524.3,241.9 524.5,242.4 524.6,242.1 524.8,243.1 525.0,243.8 525.2,243.4 525.4,242.1 525.5,242.4 525.7,242.6 525.9,242.4 526.1,242.6 526.3,243.3 526.4,241.6 526.6,242.0 526.8,241.9 527.0,243.3 527.2,242.8 527.3,242.6 527.5,243.5 527.7,242.6 527.9,242.8 528.1,242.7 528.2,244.3 528.4,243.4 528.6,243.5 528.8,242.6 529.0,242.5 529.1,242.5 529.3,243.2 529.5,242.4 529.7,243.0 529.9,243.4 530.0,243.9 530.2,243.1 530.4,243.0 530.6,242.9 530.8,242.7 530.9,243.0 531.1,242.8 531.3,242.9 531.5,242.2 531.7,243.2 531.8,243.7 532.0,243.3 532.2,243.8 532.4,242.8 532.6,244.4 532.7,243.6 532.9,243.0 533.1,242.5 533.3,243.8 533.5,242.8 533.6,243.5 533.8,242.8 534.0,242.5 534.2,242.8 534.4,244.5 534.5,244.0 534.7,243.2 534.9,244.3 535.1,243.0 535.3,243.9 535.4,243.3 535.6,242.4 535.8,243.1 536.0,242.7 536.2,243.6 536.3,243.2 536.5,243.9 536.7,243.8"/>
<polyline class="c" stroke="#1fdf1f" points="41.5,211.4 41.7,213.0 41.9,212.3 42.0,212.5 42.2,213.7 42.4,212.7 42.6,213.4 42.8,213.1 42.9,213.9 43.1,211.6 43.3,211.9 43.5,211.8 43.7,213.9 43.8,213.3 44.0,214.5 44.2,214.5 44.4,214.4 44.6,216.6 44.7,214.7 44.9,213.7 45.1,212.4 45.3,214.9 45.5,214.8 45.6,212.5 45.8,214.1 46.0,214.3 46.2,212.4 46.4,213.8 46.5,215.8 46.7,212.5 46.9,214.8 47.1,216.5 47.3,213.5 47.4,213.7 47.6,214.0 47.8,214.3 48.0,213.9 48.2,212.0 48.3,213.3 48.5,215.0 48.7,214.9 48.9,216.9 49.1,215.9 49.2,215.7 49.4,217.8 49.6,215.7 49.8,214.5 50.0,215.3 50.1,214.9 50.3,215.7 50.5,215.7 50.7,214.6 50.9,214.1 51.0,214.5 51.2,217.0 51.4,218.1 51.6,216.2 51.8,217.2 51.9,216.6 52.1,215.6 52.3,215.5 52.5,215.7 52.7,214.2 52.8,215.8 53.0,217.1 53.2,217.3 53.4,216.3 53.6,216.5 53.7,217.7 53.9,219.8 54.1,217.0 54.3,216.9 54.5,216.8 54.6,217.6 54.8,215.8 55.0,217.5 55.2,216.4 55.4,217.8 55.5,217.0 55.7,217.5 55.9,218.2 56.1,216.1 56.3,216.9 56.4,218.6 56.6,218.4 56.8,218.2 57.0,215.7 57.2,219.0 57.3,218.5 57.5,217.5 57.7,215.7 57.9,218.5 58.1,219.4 58.2,218.3 58.4,219.2 58.6,217.2 58.8,218.7 59.0,218.3 59.1,218.0 59.3,219.3 59.5,218.5 59.7,217.8 59.9,217.6 60.0,218.2 60.2,218.6 60.4,219.2 60.6,218.3 60.8,220.1 60.9,217.7 61.1,219.3 61.3,219.5 61.5,216.7 61.7,218.7 61.8,220.2 62.0,219.5 62.2,218.0 62.4,218.1 62.6,218.8 62.7,218.9 62.9,220.1 63.1,220.0 63.3,221.1 63.5,220.6 63.6,218.9 63.8,218.5 64.0,218.8 64.2,219.3 64.4,218.4 64.5,220.4 64.7,217.4 64.9,218.5 65.1,219.1 65.3,220.1 65.4,220.6 65.6,220.4 65.8,220.4 66.0,220.3 66.2,221.0 66.4,222.8 66.5,221.5 66.7,222.1 66.9,221.6 67.1,219.7 67.3,220.4 67.4,218.5 67.6,220.2 67.8,222.1 68.0,220.4 68.2,221.3 68.3,221.7 68.5,221.6 68.7,221.2 68.9,221.5 69.1,220.6 69.2,221.0 69.4,223.9 69.6,220.9 69.8,221.4 70.0,221.9 70.1,222.4 70.3,222.9 70.5,221.3 70.7,221.2 70.9,221.2 71.0,222.5 71.2,223.1 71.4,221.0 71.6,220.9 71.8,222.0 71.9,221.6 72.1,221.8 72.3,224.0 72.5,221.7 72.7,223.1 72.8,224.0 73.0,221.8 73.2,223.4 73.4,222.7 73.6,222.4 73.7,223.9 73.9,222.9 74.1,222.6 74.3,221.8 74.5,220.9 74.6,220.8 74.8,221.4 75.0,222.3 75.2,220.8 75.4,221.1 75.5,220.3 75.7,220.3 75.9,219.2 76.1,220.2 76.3,219.1 76.4,216.5 76.6,217.7 76.8,216.9 77.0,217.7 77.2,216.1 77.2,216.9 77.3,216.4 77.5,215.1 77.5,215.5 77.7,216.2 77.9,215.5 77.9,220.2 78.1,218.1 78.2,216.8 78.4,217.7 78.6,220.0 78.8,219.9 79.0,219.2 79.1,219.7 79.3,221.7 79.5,221.9 79.7,223.6 79.9,223.6 80.0,225.5 80.2,222.9 80.4,225.1 80.6,224.0 80.8,224.4 80.9,226.5 81.1,224.0 81.3,226.9 81.5,226.5 81.7,228.0 81.8,225.8 82.0,228.2 82.2,228.1 82.4,227.6 82.6,228.1 82.7,228.1 82.9,226.7 83.1,227.7 83.3,226.9 83.5,229.5 83.6,229.1 83.8,227.1 84.0,229.8 84.2,228.6 84.4,227.9 84.5,228.3 84.7,229.3 84.9,228.4 85.1,227.4 85.3,228.8 85.4,229.0 85.6,228.9 85.8,228.7 86.0,230.4 86.2,230.4 86.3,228.0 86.5,229.1 86.7,228.8 86.9,229.4 87.1,229.1 87.2,232.5 87.4,230.7 87.6,231.3 87.8,230.2 88.0,231.9 88.1,230.5 88.3,228.5 88.5,231.5 88.7,230.9 88.9,230.3 89.0,231.1 89.2,230.2 89.4,232.0 89.6,231.8 89.8,230.1 89.9,232.0 90.1,232.3 90.3,228.7 90.5,231.9 90.7,231.3 90.8,231.9 91.0,232.9 91.2,231.8 91.4,231.7 91.6,232.6 91.7,232.2 91.9,232.7 92.1,230.3 92.3,232.1 92.5,235.3 92.6,232.8 92.8,233.5 93.0,233.0 93.2,231.7 93.4,233.3 93.5,233.8 93.7,232.8 93.9,233.1 94.1,234.5 94.3,233.0 94.4,232.8 94.6,234.9 94.8,235.0 95.0,234.1 95.2,235.7 95.3,235.1 95.5,234.6 95.7,233.5 95.9,234.9 96.1,233.6 96.2,234.1 96.4,233.4 96.6,235.2 96.8,233.7 97.0,233.8 97.1,234.2 97.3,236.1 97.5,235.3 97.7,233.3 97.9,234.5 98.0,234.8 98.2,234.2 98.4,233.8 98.6,236.3 98.8,235.8 98.9,236.6 99.1,236.4 99.3,236.9 99.5,236.6 99.7,236.5 99.8,235.9 100.0,234.8 100.2,235.0 100.4,235.5 100.6,234.6 100.7,235.8 100.9,235.1 101.1,236.9 101.3,235.4 101.5,237.0 101.6,237.9 101.8,237.2 102.0,235.8 102.2,237.2 102.4,236.1 102.5,236.2 102.7,236.8 102.9,235.4 103.1,237.8 103.3,237.7 103.4,238.3 103.6,236.2 103.8,237.9 104.0,236.7 104.2,236.5 104.3,237.4 104.5,239.1 104.7,238.3 104.9,240.2 105.1,239.6 105.2,239.6 105.4,238.1 105.6,237.5 105.8,237.1 106.0,238.5 106.1,239.8 106.3,239.9 106.5,237.6 106.7,239.5 106.9,239.9 107.0,238.4 107.2,239.5 107.4,238.2 107.6,238.8 107.8,239.4 107.9,238.9 108.1,239.0 108.3,239.0 108.5,239.9 108.7,236.6 108.8,239.7 109.0,240.1 109.2,237.7 109.4,238.8 109.6,239.3 109.7,238.0 109.9,238.0 110.1,238.8 110.3,238.9 110.5,236.9 110.6,238.2 110.8,238.4 111.0,236.0 111.2,237.0 111.4,237.7 111.5,235.9 111.7,235.6 111.9,236.5 112.1,234.3 112.3,234.6 112.4,235.3 112.6,234.9 112.8,232.4 113.0,233.2 113.2,233.6 113.2,234.2 113.3,233.5 113.5,232.2 113.5,232.9 113.7,230.4 113.9,232.9 113.9,233.1 114.1,233.9 114.2,233.4 114.4,232.3 114.6,235.1 114.8,234.7 115.0,235.1 115.1,237.1 115.3,235.2 115.5,239.4 115.7,239.0 115.9,240.1 116.1,239.7 116.2,240.7 116.4,241.0 116.6,240.6 116.8,238.8 117.0,240.9 117.1,241.3 117.3,242.0 117.5,241.5 117.7,241.5 117.9,241.4 118.0,240.2 118.2,239.8 118.4,241.5 118.6,241.5 118.8,242.8 118.9,241.1 119.1,241.7 119.3,242.8 119.5,242.0 119.7,241.2 119.8,242.4 120.0,242.6 120.2,241.6 120.4,242.1 120.6,242.8 120.7,242.7 120.9,242.8 121.1,242.5 121.3,241.2 121.5,243.8 121.6,243.9 121.8,243.0 122.0,242.1 122.2,242.5 122.4,243.0 122.5,242.6 122.7,242.9 122.9,240.9 123.1,244.0 123.3,244.1 123.4,244.1 123.6,244.8 123.8,244.0 124.0,244.7 124.2,242.6 124.3,244.0 124.5,243.1 124.7,244.7 124.9,243.1 125.1,243.0 125.2,243.0 125.4,243.9 125.6,243.0 125.8,244.5 126.0,244.6 126.1,244.6 126.3,244.8 126.5,243.9 126.7,245.8 126.9,245.1 127.0,243.3 127.2,245.0 127.4,243.3 127.6,244.8 127.8,244.5 127.9,243.5 128.1,243.8 128.3,244.9 128.5,245.0 128.7,245.0 128.8,245.4 129.0,243.7 129.2,244.4 129.4,243.7 129.6,244.8 129.7,243.9 129.9,244.1 130.1,244.6 130.3,245.0 130.5,245.1 130.6,245.1 130.8,246.0 131.0,244.3 131.2,246.7 131.4,245.1 131.5,245.1 131.7,245.8 131.9,245.3 132.1,244.8 132.3,245.4 132.4,244.3 132.6,246.4 132.8,244.7 133.0,245.5 133.2,247.3 133.3,247.3 133.5,246.5 133.7,245.2 133.9,246.3 134.1,246.0 134.2,246.0 134.4,246.3 134.6,246.7 134.8,246.9 135.0,246.4 135.1,245.5 135.3,245.9 135.5,246.5 135.7,247.2 135.9,246.0 136.0,246.4 136.2,246.5 136.4,245.7 136.6,246.8 136.8,246.4 136.9,247.5 137.1,247.4 137.3,246.9 137.5,247.0 137.7,246.2 137.8,246.6 138.0,246.4 138.2,247.2 138.4,246.2 138.6,247.4 138.7,247.5 138.9,247.4 139.1,246.5 139.3,246.7 139.5,247.3 139.6,247.1 139.8,246.2 140.0,248.3 140.2,247.2 140.4,247.2 140.5,247.9 140.7,247.1 140.9,246.2 141.1,247.9 141.3,247.3 141.4,247.8 141.6,247.8 141.8,246.4 142.0,246.7 142.2,248.3 142.3,248.5 142.5,247.3 142.7,247.4 142.9,248.0 143.1,248.1 143.2,250.2 143.4,249.5 143.6,247.8 143.8,248.0 144.0,249.2 144.1,248.3 144.3,248.4 144.5,248.5 144.7,247.5 144.9,246.8 145.0,247.4 145.2,248.6 145.4,249.9 145.6,248.9 145.8,251.5 145.9,248.2 146.1,249.1 146.3,249.6 146.5,250.2 146.7,247.9 146.8,249.0 147.0,249.5 147.2,247.6 147.4,249.9 147.6,249.4 147.7,249.2 147.9,250.4 148.1,249.7 148.3,248.9 148.5,250.8 148.6,249.0 148.8,250.3 149.0,247.6 149.2,250.4 149.4,249.4 149.5,250.0 149.7,250.0 149.9,250.5 150.1,248.9 150.3,249.6 150.4,249.4 150.6,250.2 150.8,249.9 151.0,250.6 151.2,250.2 151.3,248.5 151.5,249.4 151.7,249.8 151.9,249.5 152.1,251.5 152.2,250.4 152.4,251.0 152.6,249.4 152.8,250.1 153.0,250.9 153.1,249.3 153.3,249.1 153.5,248.6 153.7,249.3 153.9,251.6 154.0,249.3 154.2,250.2 154.4,250.7 154.6,250.2 154.8,250.4 154.9,250.5 155.1,251.5 155.3,250.0 155.5,250.8 155.7,251.2 155.8,249.6 156.0,250.2 156.2,250.5 156.4,252.0 156.6,250.0 156.7,251.1 156.9,249.5 157.1,251.7 157.3,249.8 157.5,251.1 157.6,252.8 157.8,251.8 158.0,251.9 158.2,250.1 158.4,251.8 158.5,252.0 158.7,251.5 158.9,252.1 159.1,250.8 159.3,250.9 159.4,250.3 159.6,249.5 159.8,250.9 160.0,250.0 160.2,250.9 160.3,252.1 160.5,251.9 160.7,250.8 160.9,251.1 161.1,251.2 161.2,251.6 161.4,253.2 161.6,253.2 161.8,251.4 162.0,250.4 162.1,252.5 162.3,249.4 162.5,251.8 162.7,249.8 162.9,251.7 163.0,251.3 163.2,251.0 163.4,250.3 163.6,251.6 163.8,251.8 163.9,252.1 164.1,253.7 164.3,251.7 164.5,251.3 164.7,252.8 164.8,253.6 165.0,250.6 165.2,250.7 165.4,250.7 165.6,251.3 165.8,251.5 165.9,250.6 166.1,251.7 166.3,251.3 166.5,252.1 166.7,252.1 166.8,252.5 167.0,251.6 167.2,251.5 167.4,250.1 167.6,251.1 167.7,251.5 167.9,251.7 168.1,251.1 168.3,251.6 168.5,252.5 168.6,251.8 168.8,250.9 169.0,251.2 169.2,251.1 169.4,251.5 169.5,250.8 169.7,250.8 169.9,251.4 170.1,250.0 170.3,251.4 170.4,251.8 170.6,251.4 170.8,249.9 171.0,250.8 171.2,251.5 171.3,250.9 171.5,251.2 171.7,250.7 171.9,250.9 172.1,250.3 172.2,249.2 172.4,250.3 172.6,251.7 172.8,250.6 173.0,250.5 173.1,251.4 173.3,249.2 173.5,248.7 173.7,248.8 173.9,248.9 174.0,249.3 174.2,248.6 174.4,247.6 174.6,248.4 174.8,247.4 174.9,246.9 175.1,245.9 175.3,244.5 175.5,244.5 175.7,242.7 175.8,241.2 176.0,241.1 176.2,241.6 176.4,239.0 176.6,237.0 176.7,236.5 176.9,236.3 177.1,232.1 177.3,230.9 177.5,226.0 177.6,219.9 177.8,217.2 178.0,213.4 178.2,206.5 178.4,199.0 178.5,193.7 178.7,188.4 178.9,180.8 178.9,182.4 179.1,179.1 179.3,178.4 179.3,177.7 179.4,178.0 179.6,182.2 179.6,182.0 179.8,186.6 180.0,192.1 180.2,199.2 180.3,203.9 180.5,211.4 180.7,214.1 180.9,219.3 181.1,222.4 181.2,224.5 181.4,226.1 181.6,229.4 181.8,230.5 182.0,230.9 182.1,232.9 182.3,233.8 182.5,232.4 182.7,234.7 182.9,232.1 183.0,233.5 183.2,233.3 183.4,231.4 183.6,232.3 183.8,231.6 183.9,232.6 184.1,231.5 184.3,232.0 184.3,232.1 184.5,232.5 184.7,231.2 184.7,232.5 184.8,231.1 185.0,232.1 185.0,232.8 185.2,232.1 185.4,232.2 185.6,234.5 185.7,233.9 185.9,235.4 186.1,237.5 186.3,238.6 186.5,237.8 186.6,239.3 186.8,239.6 187.0,239.7 187.2,239.3 187.4,239.1 187.5,238.4 187.7,240.8 187.9,240.3 188.1,240.0 188.3,240.2 188.4,241.4 188.6,241.9 188.8,241.2 189.0,240.4 189.2,242.1 189.3,240.8 189.5,240.1 189.7,242.6 189.9,242.9 190.1,241.8 190.2,241.7 190.4,241.3 190.6,241.0 190.8,240.9 191.0,240.4 191.1,240.5 191.3,240.7 191.5,240.6 191.7,240.5 191.9,240.7 192.0,239.0 192.2,239.8 192.4,238.2 192.6,237.5 192.8,237.9 192.9,235.7 193.1,236.5 193.3,234.4 193.5,234.7 193.7,234.7 193.8,233.6 194.0,230.8 194.2,228.9 194.4,229.4 194.6,225.8 194.7,223.8 194.9,217.6 195.1,216.0 195.3,210.1 195.5,203.6 195.6,198.5 195.8,193.1 196.0,185.5 196.2,177.3 196.4,170.8 196.5,170.5 196.5,167.4 196.7,164.7 196.8,164.9 196.9,164.6 197.1,166.6 197.2,169.9 197.3,172.8 197.4,177.4 197.6,186.3 197.8,192.0 198.0,199.5 198.2,206.2 198.3,212.2 198.5,217.9 198.7,219.5 198.9,223.0 199.1,226.2 199.2,229.4 199.4,232.2 199.6,233.0 199.8,234.8 200.0,237.5 200.1,238.8 200.3,242.0 200.5,240.6 200.7,243.5 200.9,244.3 201.0,243.0 201.2,243.8 201.4,244.3 201.6,244.5 201.8,244.8 201.9,244.6 202.1,246.5 202.3,246.9 202.5,246.0 202.7,247.5 202.8,247.0 203.0,246.7 203.2,247.9 203.4,247.5 203.6,249.3 203.7,249.2 203.9,249.3 204.1,248.9 204.3,247.2 204.5,248.0 204.6,248.3 204.8,250.0 205.0,248.5 205.2,250.3 205.4,247.6 205.5,248.8 205.7,249.0 205.9,250.0 206.1,249.9 206.3,249.3 206.4,249.6 206.6,247.9 206.8,247.4 207.0,249.9 207.2,251.0 207.3,249.5 207.5,248.4 207.7,249.0 207.9,246.7 208.1,247.7 208.2,247.4 208.4,248.3 208.6,247.5 208.8,247.4 209.0,245.3 209.1,245.7 209.3,244.9 209.5,245.3 209.7,244.5 209.9,243.8 210.0,241.1 210.2,242.5 210.4,239.5 210.6,238.0 210.8,237.9 210.9,235.5 211.1,232.3 211.3,230.0 211.5,225.2 211.7,221.4 211.8,216.8 212.0,209.4 212.2,201.2 212.4,191.1 212.6,180.2 212.7,167.6 212.9,154.1 213.1,142.4 213.3,128.7 213.3,129.0 213.5,121.4 213.6,117.5 213.6,118.1 213.8,119.5 214.0,129.1 214.0,129.8 214.2,140.8 214.4,155.3 214.5,168.1 214.7,181.4 214.9,192.7 215.1,201.5 215.3,209.0 215.5,215.9 215.6,222.2 215.8,226.8 216.0,229.3 216.2,234.1 216.4,236.4 216.5,237.4 216.7,239.4 216.9,240.9 217.1,241.1 217.3,243.4 217.4,244.6 217.6,244.8 217.8,244.2 218.0,245.0 218.2,245.3 218.3,245.7 218.5,246.1 218.7,245.8 218.9,247.1 219.1,246.8 219.2,247.3 219.4,246.2 219.6,247.2 219.8,246.6 220.0,247.8 220.1,246.2 220.3,247.3 220.5,247.3 220.7,247.0 220.9,246.8 221.0,245.7 221.2,245.6 221.4,244.9 221.6,244.2 221.8,244.1 221.9,243.7 222.1,241.4 222.3,241.5 222.5,238.4 222.7,238.0 222.8,239.3 223.0,237.4 223.2,236.0 223.4,236.5 223.6,232.9 223.7,232.1 223.9,230.4 224.1,230.0 224.3,228.1 224.5,226.4 224.6,226.1 224.8,225.7 224.8,226.7 225.0,225.9 225.2,225.7 225.2,225.5 225.4,224.7 225.5,226.7 225.5,225.1 225.7,226.0 225.9,225.6 226.1,226.7 226.3,227.2 226.4,227.7 226.6,229.7 226.8,229.8 227.0,230.8 227.2,231.8 227.3,231.9 227.5,232.5 227.7,233.7 227.9,234.0 228.1,235.4 228.2,234.2 228.4,235.3 228.6,236.5 228.8,235.1 229.0,236.5 229.1,237.3 229.3,237.1 229.3,236.6 229.5,238.5 229.7,240.0 229.7,238.9 229.9,238.8 230.0,241.6 230.0,239.8 230.2,241.4 230.4,240.7 230.6,241.7 230.8,243.2 230.9,242.4 231.1,244.8 231.3,244.9 231.5,246.1 231.7,246.5 231.8,247.0 232.0,246.9 232.2,248.3 232.4,249.8 232.6,248.8 232.7,251.1 232.9,251.6 233.1,250.9 233.3,252.5 233.5,253.7 233.6,254.0 233.8,254.9 234.0,255.5 234.2,255.1 234.4,255.9 234.5,255.7 234.7,255.5 234.9,256.7 235.1,256.1 235.3,256.1 235.4,256.7 235.6,254.8 235.8,256.2 236.0,255.4 236.2,254.9 236.3,255.1 236.5,254.7 236.7,254.7 236.9,253.1 237.1,253.5 237.2,253.2 237.4,252.2 237.6,251.3 237.8,249.8 238.0,250.2 238.1,247.4 238.3,245.8 238.5,243.8 238.7,240.3 238.9,237.2 239.0,233.0 239.2,229.9 239.4,225.6 239.6,220.3 239.8,213.7 239.9,210.7 240.1,207.0 240.1,206.5 240.3,202.8 240.5,202.1 240.5,203.0 240.7,203.3 240.8,207.1 240.8,207.7 241.0,211.9 241.2,216.2 241.4,221.1 241.6,226.0 241.7,230.0 241.9,233.1 242.1,238.6 242.3,242.0 242.5,242.3 242.6,246.9 242.8,248.3 243.0,249.6 243.2,252.5 243.4,252.1 243.5,253.5 243.7,254.7 243.9,256.3 244.1,255.5 244.3,256.7 244.4,257.1 244.6,257.9 244.8,258.8 245.0,259.4 245.2,258.9 245.3,258.9 245.5,258.4 245.7,260.5 245.9,259.6 246.1,260.8 246.2,260.3 246.4,260.3 246.6,260.5 246.8,260.0 247.0,261.4 247.1,261.7 247.3,260.7 247.5,261.2 247.7,261.2 247.9,260.7 248.0,260.4 248.2,260.1 248.4,260.6 248.6,261.8 248.8,261.6 248.9,261.5 249.1,262.4 249.3,261.7 249.5,261.2 249.7,262.2 249.8,261.7 250.0,261.3 250.2,261.9 250.4,261.0 250.6,262.1 250.7,261.0 250.9,260.2 251.1,260.7 251.3,259.0 251.5,258.9 251.6,259.8 251.8,260.0 252.0,259.4 252.2,259.0 252.4,260.7 252.5,259.3 252.7,258.3 252.7,258.7 252.9,259.7 253.1,259.1 253.1,258.5 253.3,260.9 253.4,260.3 253.4,258.1 253.6,259.7 253.8,259.8 254.0,258.9 254.2,259.4 254.3,259.4 254.5,260.5 254.7,261.7 254.9,260.9 255.1,260.9 255.2,262.5 255.4,261.7 255.6,261.4 255.8,261.8 256.0,262.0 256.1,262.7 256.3,262.8 256.5,262.9 256.7,263.1 256.9,261.7 257.0,263.4 257.2,262.5 257.4,263.2 257.6,263.5 257.8,263.3 257.9,263.4 258.1,263.6 258.3,264.3 258.5,264.3 258.7,265.1 258.8,264.2 259.0,264.4 259.2,264.1 259.4,264.0 259.6,264.5 259.7,263.5 259.9,264.2 260.1,263.4 260.3,263.5 260.5,262.7 260.6,263.2 260.8,264.5 261.0,264.6 261.2,265.0 261.4,264.6 261.5,263.6 261.7,264.6 261.9,264.8 262.1,263.2 262.3,262.3 262.4,263.4 262.6,263.6 262.8,262.4 263.0,262.8 263.2,263.7 263.3,264.1 263.5,263.9 263.7,262.7 263.9,263.0 264.1,262.5 264.2,261.9 264.4,262.3 264.6,262.8 264.8,261.5 265.0,261.3 265.2,261.4 265.3,260.4 265.5,259.7 265.7,259.7 265.9,260.6 266.1,259.5 266.2,258.6 266.4,259.0 266.6,257.8 266.8,257.7 267.0,256.5 267.1,254.7 267.3,253.8 267.5,253.2 267.7,251.5 267.9,249.2 268.0,247.7 268.2,244.9 268.4,242.7 268.6,240.4 268.8,236.3 268.9,235.2 269.1,231.7 269.3,230.2 269.4,228.7 269.5,229.0 269.7,227.4 269.7,227.3 269.8,227.8 270.0,227.7 270.1,228.2 270.2,231.0 270.4,232.2 270.6,234.6 270.7,237.5 270.9,241.1 271.1,243.4 271.3,244.8 271.5,247.8 271.6,251.5 271.8,252.0 272.0,253.7 272.2,254.3 272.4,255.5 272.5,257.8 272.7,257.7 272.9,258.9 273.1,259.9 273.3,260.4 273.4,260.3 273.6,261.4 273.8,261.0 274.0,260.9 274.2,262.2 274.3,262.0 274.5,261.8 274.7,262.2 274.9,261.6 275.1,262.7 275.2,263.7 275.4,261.7 275.6,262.5 275.8,262.8 276.0,262.9 276.1,263.8 276.3,264.6 276.5,263.9 276.7,264.9 276.9,263.8 277.0,264.1 277.2,264.0 277.4,264.5 277.6,263.6 277.8,265.3 277.9,263.3 278.1,263.2 278.3,263.7 278.5,262.9 278.7,263.9 278.8,264.0 279.0,263.9 279.2,262.8 279.4,263.6 279.6,263.6 279.7,263.8 279.9,263.8 280.1,263.9 280.3,264.2 280.5,264.8 280.6,264.8 280.8,263.8 281.0,264.2 281.2,264.6 281.4,264.6 281.5,263.7 281.7,265.4 281.9,263.3 282.1,264.3 282.3,264.0 282.4,263.7 282.6,263.5 282.8,263.0 283.0,263.5 283.2,263.0 283.3,263.0 283.5,262.9 283.7,262.5 283.9,262.9 284.1,263.2 284.2,261.8 284.4,262.0 284.6,262.4 284.8,260.8 285.0,261.4 285.1,260.3 285.3,260.4 285.5,260.1 285.7,259.9 285.9,258.1 286.0,258.5 286.2,256.9 286.4,256.7 286.6,254.3 286.8,254.2 286.9,253.1 287.1,251.9 287.3,249.9 287.5,247.5 287.7,246.0 287.8,245.9 288.0,244.6 288.2,242.0 288.3,241.9 288.4,242.6 288.6,241.5 288.6,241.3 288.7,241.1 288.9,241.8 289.0,242.9 289.1,243.3 289.3,244.2 289.5,245.1 289.6,246.8 289.8,248.2 290.0,251.1 290.2,250.6 290.4,252.8 290.5,254.1 290.7,254.7 290.9,254.7 291.1,257.1 291.3,258.2 291.4,258.8 291.6,259.8 291.8,259.8 292.0,261.0 292.2,260.9 292.3,262.0 292.5,261.6 292.7,263.9 292.9,262.1 293.1,263.2 293.2,262.5 293.4,262.7 293.6,263.7 293.8,264.1 294.0,262.9 294.1,263.9 294.3,263.5 294.5,264.6 294.7,262.6 294.9,265.0 295.0,264.3 295.2,264.3 295.4,264.4 295.6,263.6 295.8,265.2 295.9,265.3 296.1,264.5 296.3,264.8 296.5,264.8 296.7,263.5 296.8,264.5 297.0,265.0 297.2,264.7 297.4,264.7 297.6,263.8 297.7,264.5 297.9,264.1 298.1,264.8 298.3,265.4 298.5,267.0 298.6,265.2 298.8,265.3 299.0,264.9 299.2,265.3 299.4,266.3 299.5,265.6 299.7,265.7 299.9,266.5 300.1,265.3 300.3,267.3 300.4,265.2 300.6,265.6 300.8,266.3 301.0,265.5 301.2,264.4 301.3,266.4 301.5,267.1 301.7,266.6 301.9,267.2 302.1,266.4 302.2,267.7 302.4,267.7 302.6,266.8 302.8,267.2 303.0,266.3 303.1,266.9 303.3,267.2 303.5,265.9 303.7,266.9 303.9,265.6 304.0,266.4 304.2,266.3 304.4,267.7 304.6,266.5 304.8,268.1 304.9,266.6 305.1,266.8 305.3,266.4 305.5,267.6 305.7,267.3 305.8,267.3 306.0,267.7 306.2,267.6 306.4,267.0 306.6,266.6 306.7,267.5 306.9,268.4 307.1,267.7 307.3,267.0 307.5,266.5 307.6,267.7 307.8,267.4 308.0,266.9 308.2,267.3 308.4,267.1 308.5,266.4 308.7,267.0 308.9,267.1 309.1,267.6 309.3,267.6 309.4,267.3 309.6,268.5 309.8,269.4 310.0,267.3 310.2,268.3 310.3,267.4 310.5,268.2 310.7,269.6 310.9,269.0 311.1,267.7 311.2,267.8 311.4,267.9 311.6,268.7 311.8,268.2 312.0,267.9 312.1,268.9 312.3,267.4 312.5,268.3 312.7,269.3 312.9,268.3 313.0,268.3 313.2,268.0 313.4,268.1 313.6,268.1 313.8,268.6 314.0,268.4 314.1,267.3 314.3,268.7 314.5,268.2 314.7,269.6 314.9,269.4 315.0,269.8 315.2,270.3 315.4,270.4 315.6,269.3 315.8,270.4 315.9,270.5 316.1,269.8 316.3,268.7 316.5,268.9 316.7,269.2 316.8,268.8 317.0,268.7 317.2,270.1 317.4,269.3 317.6,269.1 317.7,269.7 317.9,268.6 318.1,270.7 318.3,269.8 318.5,270.0 318.6,269.0 318.8,269.6 319.0,270.3 319.2,269.6 319.4,269.6 319.5,269.5 319.7,270.0 319.9,268.3 320.1,270.2 320.3,269.6 320.4,269.7 320.6,268.3 320.8,270.0 321.0,270.8 321.2,269.9 321.3,269.5 321.5,268.8 321.7,269.3 321.9,270.2 322.1,268.5 322.2,268.8 322.4,269.8 322.6,268.5 322.8,269.4 323.0,269.1 323.1,269.5 323.3,268.4 323.5,268.5 323.7,267.8 323.9,269.0 324.0,268.0 324.2,269.0 324.4,267.5 324.6,267.5 324.8,268.9 324.9,267.9 325.1,267.9 325.3,266.8 325.5,266.5 325.7,265.6 325.8,265.8 326.0,265.9 326.2,266.1 326.4,265.3 326.6,263.7 326.6,265.1 326.7,265.0 326.9,264.2 326.9,264.4 327.1,262.9 327.3,263.9 327.3,264.8 327.5,265.5 327.6,264.8 327.8,264.5 328.0,265.3 328.2,266.0 328.4,265.6 328.5,266.6 328.7,267.4 328.9,267.9 329.1,267.4 329.3,267.1 329.4,268.1 329.6,268.3 329.8,268.4 330.0,268.5 330.2,269.1 330.3,268.9 330.5,269.7 330.7,269.3 330.9,269.2 331.1,270.6 331.2,270.1 331.4,269.9 331.6,269.8 331.8,269.1 332.0,270.7 332.1,270.8 332.3,269.8 332.5,270.3 332.7,269.9 332.9,270.2 333.0,270.3 333.2,269.8 333.4,270.2 333.6,270.6 333.8,270.1 333.9,269.8 334.1,269.9 334.3,270.6 334.5,271.8 334.7,271.0 334.8,271.2 335.0,271.2 335.2,271.1 335.4,271.9 335.6,269.8 335.7,271.0 335.9,271.8 336.1,270.9 336.3,271.6 336.5,271.8 336.6,271.1 336.8,270.3 337.0,271.0 337.2,271.6 337.4,272.5 337.5,271.4 337.7,269.9 337.9,271.0 338.1,270.9 338.3,271.2 338.4,271.6 338.6,269.3 338.8,272.8 339.0,271.9 339.2,271.5 339.3,271.3 339.5,270.3 339.7,270.9 339.9,272.4 340.1,271.4 340.2,271.3 340.4,270.8 340.6,270.5 340.8,270.7 341.0,271.4 341.1,271.9 341.3,271.9 341.5,270.7 341.7,271.0 341.9,271.2 342.0,270.3 342.2,271.3 342.4,270.5 342.6,272.9 342.8,271.9 342.9,271.9 343.1,271.0 343.3,271.3 343.5,272.1 343.7,270.0 343.8,270.5 344.0,271.7 344.2,269.1 344.4,270.6 344.6,270.0 344.7,271.2 344.9,269.9 345.1,270.2 345.3,270.7 345.5,271.9 345.6,270.5 345.8,270.9 346.0,270.8 346.2,270.6 346.4,271.0 346.5,271.2 346.7,271.7 346.9,271.4 347.1,271.3 347.3,270.7 347.4,272.7 347.6,271.4 347.8,271.6 348.0,272.0 348.2,272.2 348.3,271.2 348.5,271.2 348.7,270.0 348.9,270.6 349.1,270.8 349.2,270.4 349.4,271.3 349.6,270.3 349.8,272.0 350.0,270.4 350.1,271.9 350.3,270.8 350.5,271.6 350.7,272.3 350.9,270.3 351.0,271.1 351.2,271.0 351.4,270.3 351.6,270.4 351.8,271.6 351.9,270.3 352.1,270.7 352.3,270.1 352.5,270.4 352.7,271.3 352.8,271.7 353.0,270.4 353.2,271.6 353.4,271.4 353.6,269.9 353.7,271.4 353.9,270.5 354.1,270.5 354.3,270.5 354.5,270.5 354.6,270.5 354.8,270.8 355.0,270.9 355.2,269.4 355.4,271.1 355.5,269.6 355.7,268.9 355.9,270.1 356.1,269.9 356.3,270.3 356.4,269.8 356.6,269.8 356.8,268.7 357.0,268.5 357.2,268.1 357.3,268.4 357.5,267.5 357.7,268.5 357.9,267.7 358.1,267.4 358.2,266.4 358.4,266.1 358.6,265.5 358.8,265.4 359.0,263.5 359.1,264.0 359.3,264.4 359.5,263.6 359.7,263.4 359.9,262.7 359.9,262.2 360.0,262.2 360.2,261.7 360.2,262.1 360.4,261.8 360.6,262.1 360.6,262.6 360.8,262.2 360.9,262.6 361.1,263.3 361.3,264.1 361.5,265.1 361.7,264.6 361.8,265.4 362.0,266.8 362.2,267.7 362.4,267.7 362.6,268.6 362.7,268.1 362.9,268.4 363.1,268.4 363.3,269.5 363.5,269.2 363.7,269.3 363.8,268.9 364.0,268.9 364.2,269.2 364.4,269.1 364.6,270.1 364.7,269.7 364.9,270.4 365.1,270.1 365.3,269.7 365.5,269.2 365.6,269.7 365.8,270.1 366.0,269.4 366.2,271.1 366.4,271.1 366.5,271.2 366.7,271.1 366.9,271.5 367.1,271.2 367.3,270.0 367.4,270.6 367.6,271.6 367.8,270.1 368.0,271.1 368.2,271.4 368.3,271.2 368.5,271.6 368.7,272.7 368.9,270.4 369.1,270.3 369.2,271.9 369.4,271.7 369.6,270.8 369.8,272.1 370.0,270.8 370.1,270.7 370.3,271.0 370.5,270.7 370.7,270.9 370.9,270.5 371.0,270.6 371.2,271.0 371.4,271.6 371.6,270.7 371.8,270.5 371.9,271.5 372.1,271.1 372.3,272.5 372.5,272.3 372.7,271.0 372.8,270.1 373.0,270.3 373.2,271.3 373.4,270.8 373.6,271.6 373.7,270.2 373.9,270.7 374.1,270.8 374.3,271.3 374.5,269.6 374.6,270.5 374.8,270.2 375.0,270.3 375.2,269.9 375.4,270.3 375.5,270.4 375.7,270.3 375.9,269.5 376.1,270.0 376.3,269.8 376.4,270.2 376.6,269.5 376.8,270.6 377.0,268.5 377.2,268.6 377.3,269.0 377.5,269.3 377.7,270.2 377.9,269.8 378.1,269.9 378.2,269.4 378.4,268.8 378.6,270.2 378.8,269.6 379.0,268.5 379.1,268.8 379.3,268.6 379.5,269.1 379.7,269.2 379.9,269.2 380.0,268.5 380.2,269.2 380.4,268.8 380.6,268.2 380.8,268.5 380.9,268.3 381.1,268.2 381.3,268.6 381.5,267.6 381.7,269.3 381.8,268.4 382.0,268.4 382.2,268.6 382.4,268.0 382.6,268.9 382.7,266.5 382.9,267.6 383.1,267.1 383.3,266.4 383.5,268.0 383.6,267.5 383.8,266.8 384.0,267.7 384.2,267.8 384.4,266.4 384.5,267.0 384.7,266.8 384.9,266.0 385.1,266.3 385.3,266.8 385.4,265.3 385.6,266.2 385.8,266.6 386.0,266.7 386.2,266.5 386.3,266.6 386.5,267.0 386.7,266.4 386.9,266.5 387.1,266.2 387.2,266.0 387.4,265.1 387.6,265.7 387.8,265.6 388.0,266.0 388.1,265.0 388.3,264.3 388.5,264.4 388.7,263.4 388.9,264.0 389.0,265.2 389.2,262.6 389.4,264.4 389.6,262.3 389.8,262.1 389.9,262.2 390.1,261.8 390.3,261.2 390.5,261.2 390.7,260.8 390.8,260.5 391.0,258.2 391.2,257.3 391.4,255.9 391.4,257.3 391.6,256.3 391.7,257.0 391.7,256.7 391.9,258.0 392.1,258.3 392.1,257.9 392.3,258.1 392.5,257.3 392.6,259.1 392.8,259.4 393.0,259.3 393.2,261.3 393.4,260.3 393.5,260.7 393.7,261.8 393.9,261.5 394.1,262.5 394.3,262.4 394.4,262.0 394.6,262.4 394.8,262.2 395.0,262.6 395.2,262.7 395.3,263.1 395.5,263.2 395.7,261.7 395.9,262.0 396.1,262.0 396.2,262.5 396.4,262.6 396.6,262.0 396.8,261.4 397.0,261.7 397.1,261.0 397.3,260.4 397.5,261.7 397.7,260.7 397.9,260.3 398.0,261.2 398.2,260.5 398.4,261.9 398.6,260.9 398.8,260.1 398.9,259.0 399.1,257.9 399.3,258.9 399.5,256.7 399.7,254.2 399.8,254.4 400.0,253.1 400.2,251.7 400.4,248.9 400.6,249.9 400.7,246.8 400.9,245.8 401.1,244.0 401.3,241.3 401.5,239.7 401.6,237.4 401.8,235.7 402.0,232.6 402.2,231.2 402.2,231.4 402.4,231.0 402.5,230.6 402.5,230.0 402.7,230.0 402.9,231.1 402.9,231.4 403.1,232.6 403.3,235.4 403.4,235.9 403.6,238.4 403.8,240.3 404.0,242.6 404.2,244.3 404.3,246.0 404.5,247.6 404.7,248.3 404.9,250.7 405.1,251.2 405.2,252.4 405.4,253.2 405.6,254.7 405.8,255.8 406.0,256.3 406.1,255.9 406.3,257.3 406.5,257.1 406.7,257.5 406.9,257.2 407.0,257.6 407.2,258.6 407.4,257.9 407.6,258.0 407.8,259.2 407.9,258.4 408.1,258.8 408.3,257.7 408.5,257.4 408.7,257.1 408.8,258.0 409.0,256.6 409.2,257.6 409.4,257.7 409.6,256.6 409.7,256.2 409.9,256.3 410.1,254.9 410.3,255.9 410.5,254.7 410.6,254.3 410.8,253.4 411.0,254.3 411.2,253.4 411.4,252.1 411.5,252.0 411.7,250.7 411.9,249.3 412.1,247.9 412.3,247.2 412.4,245.1 412.6,245.4 412.8,242.7 413.0,242.8 413.2,239.3 413.4,237.8 413.5,236.0 413.7,236.4 413.9,233.4 414.1,232.9 414.3,230.4 414.4,228.8 414.6,227.2 414.8,226.0 415.0,224.9 415.2,223.8 415.3,221.4 415.5,222.0 415.7,220.8 415.7,220.8 415.9,221.0 416.1,220.1 416.1,220.1 416.2,220.9 416.4,219.7 416.4,220.2 416.6,220.4 416.8,220.6 417.0,223.2 417.1,225.1 417.3,226.0 417.5,227.2 417.7,230.1 417.9,231.8 418.0,234.0 418.2,235.8 418.4,236.4 418.6,237.8 418.8,239.5 418.9,241.6 419.1,241.3 419.3,243.8 419.5,245.6 419.7,245.8 419.8,246.7 420.0,247.7 420.2,248.5 420.4,248.7 420.6,250.4 420.7,251.4 420.9,252.5 421.1,252.7 421.3,252.2 421.5,251.6 421.6,250.7 421.8,252.5 422.0,251.8 422.2,252.0 422.4,251.9 422.4,251.8 422.5,251.5 422.7,251.7 422.8,252.1 422.9,251.2 423.1,253.0 423.2,253.4 423.3,254.7 423.4,253.8 423.6,254.8 423.8,256.0 424.0,257.5 424.2,257.6 424.3,260.0 424.5,260.4 424.7,259.7 424.9,260.2 425.1,262.5 425.2,262.0 425.4,263.5 425.6,262.6 425.8,262.3 426.0,263.3 426.1,263.7 426.3,265.2 426.5,265.1 426.7,264.5 426.9,264.5 427.0,265.4 427.2,266.6 427.4,265.7 427.6,266.3 427.8,264.9 427.9,266.6 428.1,266.2 428.3,266.9 428.5,266.6 428.7,265.0 428.8,266.4 429.0,266.7 429.2,267.3 429.4,266.6 429.6,267.3 429.7,266.3 429.9,267.0 430.1,266.9 430.3,267.1 430.5,266.7 430.6,267.3 430.8,267.3 431.0,267.3 431.2,265.7 431.4,267.3 431.5,268.1 431.7,268.4 431.9,267.6 432.1,268.0 432.3,267.5 432.4,268.3 432.6,267.7 432.8,268.2 433.0,267.6 433.2,268.4 433.3,268.2 433.5,268.2 433.7,268.1 433.9,269.2 434.1,268.3 434.2,269.0 434.4,268.7 434.6,269.4 434.8,269.2 435.0,268.1 435.1,269.4 435.3,269.2 435.5,268.9 435.7,268.8 435.9,269.8 436.0,268.8 436.2,268.6 436.4,269.1 436.6,268.8 436.8,269.2 436.9,269.6 437.1,268.0 437.3,269.0 437.5,269.7 437.7,269.2 437.8,269.6 438.0,269.9 438.2,270.7 438.4,269.6 438.6,269.7 438.7,267.5 438.9,269.8 439.1,270.0 439.3,269.1 439.5,269.0 439.6,269.6 439.8,268.2 440.0,268.9 440.2,268.4 440.4,270.2 440.5,269.6 440.7,268.8 440.9,270.0 441.1,269.8 441.3,270.1 441.4,271.4 441.6,269.7 441.8,271.2 442.0,269.0 442.2,269.7 442.3,269.8 442.5,269.3 442.7,269.2 442.9,270.5 443.1,269.4 443.2,270.0 443.4,269.7 443.6,269.8 443.8,269.5 444.0,269.1 444.1,269.5 444.3,269.9 444.5,269.5 444.7,270.0 444.9,269.5 445.0,268.0 445.2,267.7 445.4,266.8 445.6,267.4 445.8,268.1 445.9,266.9 446.1,266.5 446.3,266.7 446.3,267.7 446.5,266.6 446.7,266.9 446.7,267.2 446.8,266.5 447.0,266.6 447.0,266.5 447.2,267.8 447.4,267.7 447.6,267.6 447.7,267.4 447.9,268.5 448.1,268.5 448.3,267.9 448.5,270.5 448.6,269.2 448.8,269.5 449.0,269.8 449.2,270.0 449.4,270.5 449.5,269.7 449.7,270.4 449.9,269.3 450.1,270.2 450.3,271.5 450.4,271.1 450.6,271.6 450.8,270.4 451.0,270.4 451.2,271.0 451.3,269.7 451.5,270.7 451.7,270.8 451.9,270.0 452.1,270.4 452.2,269.9 452.4,270.9 452.6,270.8 452.8,271.0 453.0,269.9 453.1,269.7 453.3,269.8 453.5,270.6 453.7,270.9 453.9,271.5 454.0,271.0 454.2,270.8 454.4,272.1 454.6,270.2 454.8,270.8 454.9,270.9 455.1,271.2 455.3,271.4 455.5,271.3 455.7,270.8 455.8,270.9 456.0,272.0 456.2,271.0 456.4,271.8 456.6,270.8 456.7,270.6 456.9,271.1 457.1,272.4 457.3,271.9 457.5,271.8 457.6,270.3 457.8,271.8 458.0,271.2 458.2,271.3 458.4,271.4 458.5,270.5 458.7,271.3 458.9,271.3 459.1,271.0 459.3,271.4 459.4,271.4 459.6,270.7 459.8,271.1 460.0,271.8 460.2,271.1 460.3,271.5 460.5,271.2 460.7,271.0 460.9,271.4 461.1,271.5 461.2,271.2 461.4,271.7 461.6,270.8 461.8,269.8 462.0,270.3 462.1,269.8 462.3,270.7 462.5,270.4 462.7,270.9 462.9,269.6 463.1,270.9 463.2,269.9 463.4,269.1 463.6,270.9 463.8,269.8 464.0,269.3 464.1,270.1 464.3,268.8 464.5,269.8 464.7,269.5 464.9,269.7 465.0,270.3 465.2,270.2 465.4,270.7 465.6,268.9 465.8,268.8 465.9,268.6 466.1,268.9 466.3,269.0 466.5,268.5 466.7,270.2 466.8,268.4 467.0,268.7 467.2,267.5 467.4,268.1 467.6,267.5 467.7,266.7 467.9,267.6 468.1,266.5 468.3,265.5 468.5,265.4 468.6,266.0 468.8,265.9 469.0,265.5 469.2,265.7 469.4,265.3 469.5,265.4 469.7,263.3 469.9,262.7 470.1,263.5 470.3,261.5 470.4,259.9 470.6,259.6 470.8,259.6 471.0,257.2 471.2,256.8 471.3,254.2 471.5,253.2 471.7,250.8 471.9,249.6 472.1,247.1 472.2,245.2 472.4,241.9 472.6,239.8 472.8,236.1 473.0,233.4 473.1,230.2 473.3,227.5 473.5,222.0 473.7,219.1 473.9,215.1 474.0,212.9 474.2,210.6 474.2,210.3 474.4,209.5 474.6,209.2 474.6,208.7 474.8,209.6 474.9,211.9 474.9,210.7 475.1,212.0 475.3,214.7 475.5,219.0 475.7,222.3 475.8,225.6 476.0,229.5 476.2,233.2 476.4,236.3 476.6,238.8 476.7,243.1 476.9,246.5 477.1,247.7 477.3,249.2 477.5,251.6 477.6,252.6 477.8,254.7 478.0,256.5 478.2,257.6 478.4,258.9 478.5,258.3 478.7,259.5 478.9,261.7 479.1,261.5 479.3,260.6 479.4,263.8 479.6,263.5 479.8,263.7 480.0,265.5 480.2,265.6 480.3,264.9 480.5,265.1 480.7,267.0 480.9,267.2 481.1,267.6 481.2,267.0 481.4,266.7 481.6,266.5 481.8,266.9 482.0,267.9 482.1,268.5 482.3,267.5 482.5,267.0 482.7,267.0 482.9,269.2 483.0,268.2 483.2,267.7 483.4,269.0 483.6,269.8 483.8,268.9 483.9,268.8 484.1,269.5 484.3,270.3 484.5,269.2 484.7,268.4 484.8,269.2 485.0,268.7 485.2,268.9 485.4,269.4 485.6,270.0 485.7,270.0 485.9,271.1 486.1,269.7 486.3,269.5 486.5,269.7 486.6,269.8 486.8,270.9 487.0,270.6 487.2,269.5 487.4,270.4 487.5,269.9 487.7,270.9 487.9,270.1 488.1,268.9 488.3,269.9 488.4,271.0 488.6,269.5 488.8,268.6 489.0,271.0 489.2,269.7 489.3,271.0 489.5,270.4 489.7,270.1 489.9,270.6 490.1,270.4 490.2,271.2 490.4,271.5 490.6,270.5 490.8,271.4 491.0,271.6 491.1,269.5 491.3,270.9 491.5,270.2 491.7,269.5 491.9,269.7 492.0,270.1 492.2,269.5 492.4,269.9 492.6,269.9 492.8,270.9 492.9,269.8 493.1,269.8 493.3,270.1 493.5,270.3 493.7,269.7 493.8,269.0 494.0,269.7 494.2,269.0 494.4,269.1 494.6,267.6 494.7,268.8 494.9,268.6 494.9,269.2 495.1,269.1 495.3,269.4 495.3,269.2 495.5,269.3 495.6,269.3 495.6,269.3 495.8,269.9 496.0,269.9 496.2,269.4 496.4,269.3 496.5,270.4 496.7,268.9 496.9,269.4 497.1,270.4 497.3,271.6 497.4,271.9 497.6,271.1 497.8,269.8 498.0,270.5 498.2,270.9 498.3,269.7 498.5,270.3 498.7,271.7 498.9,270.6 499.1,271.8 499.2,270.9 499.4,271.2 499.6,271.6 499.8,272.1 500.0,271.4 500.1,271.3 500.3,270.8 500.5,271.8 500.7,270.6 500.9,271.6 501.0,270.6 501.2,272.4 501.4,271.0 501.6,271.6 501.8,271.2 501.9,272.2 502.1,272.6 502.3,271.6 502.5,272.6 502.7,271.7 502.8,273.7 503.0,272.6 503.2,272.6 503.4,272.3 503.6,272.6 503.7,273.2 503.9,272.8 504.1,271.8 504.3,271.5 504.5,270.6 504.6,271.8 504.8,270.8 505.0,270.2 505.2,271.3 505.4,272.8 505.5,271.7 505.7,272.2 505.9,271.2 506.1,272.3 506.3,271.5 506.4,271.7 506.6,270.9 506.8,271.3 507.0,271.8 507.2,270.9 507.3,273.1 507.5,272.9 507.7,272.1 507.9,271.5 508.1,272.1 508.2,272.2 508.4,270.9 508.6,270.6 508.8,270.9 509.0,270.5 509.1,270.1 509.3,270.4 509.5,270.7 509.7,270.8 509.9,270.3 510.0,270.2 510.2,269.4 510.4,269.2 510.6,269.1 510.8,268.1 510.9,267.4 511.1,268.7 511.3,266.8 511.5,265.7 511.7,266.4 511.8,266.0 512.0,265.3 512.2,264.6 512.4,264.2 512.6,264.0 512.8,264.0 512.9,263.3 512.9,263.3 513.1,263.4 513.3,262.7 513.3,262.9 513.5,263.6 513.7,262.6 513.7,262.9 513.8,263.0 514.0,263.8 514.2,265.5 514.4,264.7 514.6,265.8 514.7,266.8 514.9,266.4 515.1,267.9 515.3,267.8 515.5,268.3 515.6,267.3 515.8,268.8 516.0,269.1 516.2,269.6 516.4,269.0 516.5,269.5 516.7,270.6 516.9,271.1 517.1,269.8 517.3,270.3 517.4,271.4 517.6,270.7 517.8,271.3 518.0,272.2 518.2,271.9 518.3,272.1 518.5,271.1 518.7,271.9 518.9,271.8 519.1,271.4 519.2,270.6 519.4,273.3 519.6,272.9 519.8,271.5 520.0,272.3 520.1,272.3 520.3,271.9 520.5,272.1 520.7,272.9 520.9,272.2 521.0,271.8 521.2,271.9 521.4,272.7 521.6,273.1 521.8,272.9 521.9,273.2 522.1,272.4 522.3,272.8 522.5,274.0 522.7,273.6 522.8,273.8 523.0,273.6 523.2,273.3 523.4,273.3 523.6,274.3 523.7,272.5 523.9,273.8 524.1,272.7 524.3,273.1 524.5,273.0 524.6,273.6 524.8,273.0 525.0,274.5 525.2,273.1 525.4,273.4 525.5,273.5 525.7,273.6 525.9,273.3 526.1,273.8 526.3,273.6 526.4,272.4 526.6,273.3 526.8,274.0 527.0,272.7 527.2,273.2 527.3,273.0 527.5,272.4 527.7,272.2 527.9,274.1 528.1,274.0 528.2,274.4 528.4,272.9 528.6,274.2 528.8,274.0 529.0,273.4 529.1,273.6 529.3,274.6 529.5,272.8 529.7,273.3 529.9,273.3 530.0,273.0 530.2,274.3 530.4,273.7 530.6,272.3 530.8,274.3 530.9,273.2 531.1,272.4 531.3,273.0 531.5,275.0 531.7,273.5 531.8,272.5 532.0,275.6 532.2,273.2 532.4,273.2 532.6,273.2 532.7,274.2 532.9,274.8 533.1,274.3 533.3,273.3 533.5,273.0 533.6,272.3 533.8,273.5 534.0,274.1 534.2,274.0 534.4,274.3 534.5,273.7 534.7,272.8 534.9,273.6 535.1,273.6 535.3,273.5 535.4,274.0 535.6,273.9 535.8,273.7 536.0,273.2 536.2,273.5 536.3,274.5 536.5,273.4 536.7,273.2"/>
<polyline class="c" stroke="#ff8a1c" points="41.5,243.2 41.7,241.6 41.9,242.1 42.0,241.2 42.2,238.8 42.4,241.1 42.6,239.8 42.8,241.2 42.9,240.6 43.1,242.4 43.3,241.1 43.5,241.2 43.7,240.3 43.8,242.5 44.0,242.1 44.2,242.8 44.4,242.8 44.6,242.7 44.7,241.8 44.9,240.2 45.1,241.0 45.3,243.1 45.5,243.7 45.6,243.9 45.8,241.6 46.0,241.7 46.2,244.5 46.4,244.6 46.5,243.5 46.7,243.2 46.9,241.6 47.1,242.6 47.3,244.4 47.4,242.3 47.6,243.0 47.8,243.6 48.0,242.8 48.2,240.8 48.3,242.4 48.5,242.6 48.7,243.2 48.9,243.7 49.1,244.5 49.2,243.4 49.4,246.0 49.6,243.1 49.8,245.6 50.0,245.4 50.1,244.1 50.3,243.6 50.5,242.4 50.7,243.0 50.9,245.1 51.0,245.4 51.2,244.4 51.4,245.7 51.6,249.4 51.8,245.7 51.9,244.3 52.1,245.7 52.3,243.7 52.5,241.8 52.7,245.7 52.8,244.3 53.0,245.5 53.2,248.0 53.4,246.7 53.6,245.4 53.7,248.5 53.9,244.3 54.1,244.5 54.3,246.8 54.5,247.0 54.6,245.7 54.8,245.3 55.0,247.1 55.2,247.5 55.4,247.5 55.5,245.9 55.7,245.5 55.9,245.9 56.1,246.5 56.3,246.5 56.4,246.3 56.6,246.8 56.8,244.7 57.0,247.5 57.2,248.3 57.3,247.0 57.5,246.5 57.7,249.2 57.9,249.6 58.1,248.8 58.2,249.4 58.4,248.0 58.6,247.6 58.8,250.8 59.0,248.5 59.1,249.2 59.3,246.4 59.5,248.3 59.7,248.1 59.9,249.0 60.0,249.7 60.2,249.9 60.4,248.4 60.6,250.6 60.8,249.9 60.9,250.0 61.1,249.1 61.3,249.3 61.5,247.7 61.7,247.9 61.8,248.8 62.0,248.9 62.2,249.7 62.4,245.7 62.6,248.0 62.7,247.4 62.9,249.4 63.1,247.6 63.3,247.7 63.5,248.1 63.6,248.6 63.8,245.9 64.0,246.4 64.2,248.4 64.4,247.6 64.5,247.1 64.7,247.8 64.9,244.0 65.1,244.5 65.3,243.8 65.4,243.9 65.4,243.4 65.6,244.3 65.8,247.0 65.8,244.3 66.0,244.4 66.2,246.1 66.2,244.5 66.4,246.5 66.5,244.4 66.7,244.6 66.9,244.3 67.1,246.9 67.3,246.4 67.4,250.9 67.6,250.8 67.8,251.4 68.0,251.5 68.2,251.8 68.3,251.1 68.5,249.6 68.7,252.9 68.9,250.8 69.1,253.2 69.2,252.4 69.4,250.3 69.6,251.8 69.8,251.4 70.0,251.1 70.1,251.4 70.3,252.5 70.5,251.7 70.7,252.2 70.9,253.1 71.0,252.4 71.2,252.3 71.4,253.1 71.6,252.5 71.8,253.8 71.9,253.8 72.1,254.7 72.3,251.6 72.5,255.2 72.7,253.1 72.8,254.8 73.0,252.9 73.2,253.5 73.4,254.1 73.6,252.6 73.7,252.7 73.9,252.3 74.1,253.3 74.3,249.9 74.5,251.1 74.6,252.1 74.8,250.5 75.0,252.1 75.2,247.4 75.4,247.4 75.5,247.6 75.7,246.1 75.9,245.5 76.1,246.2 76.3,244.2 76.3,245.3 76.4,245.0 76.6,244.5 76.6,245.6 76.8,245.1 77.0,247.8 77.0,245.4 77.2,246.8 77.3,247.6 77.5,247.1 77.7,249.4 77.9,250.0 78.1,250.5 78.2,250.5 78.4,252.3 78.6,252.6 78.8,252.7 79.0,249.4 79.1,252.3 79.3,253.4 79.5,251.6 79.7,250.9 79.9,253.3 80.0,254.2 80.2,253.3 80.4,254.4 80.6,254.9 80.8,254.0 80.9,254.5 81.1,256.6 81.3,255.2 81.5,254.5 81.7,256.0 81.8,256.7 82.0,256.5 82.2,256.8 82.4,255.9 82.6,259.8 82.7,255.8 82.9,256.4 83.1,256.8 83.3,258.2 83.5,256.5 83.6,257.3 83.8,257.1 84.0,258.3 84.2,256.2 84.4,259.4 84.5,258.6 84.7,259.2 84.9,258.3 85.1,256.3 85.3,257.0 85.4,258.0 85.6,259.2 85.8,257.7 86.0,258.3 86.2,258.4 86.3,257.5 86.5,258.1 86.7,259.2 86.9,260.2 87.1,258.2 87.2,259.3 87.4,259.8 87.6,260.5 87.8,260.8 88.0,258.2 88.1,258.6 88.3,257.5 88.5,260.9 88.7,259.3 88.9,258.2 89.0,262.2 89.2,260.0 89.4,260.3 89.6,260.6 89.8,260.8 89.9,257.8 90.1,259.4 90.3,260.8 90.5,260.4 90.7,260.4 90.8,260.2 91.0,259.2 91.2,257.6 91.4,259.0 91.6,261.2 91.7,260.6 91.9,260.2 92.1,261.0 92.3,262.7 92.5,260.8 92.6,261.0 92.8,264.6 93.0,262.1 93.2,261.3 93.4,263.3 93.5,261.4 93.7,262.0 93.9,262.6 94.1,264.5 94.3,262.3 94.4,263.6 94.6,261.6 94.8,262.3 95.0,261.7 95.2,261.7 95.3,263.4 95.5,261.8 95.7,262.1 95.9,262.9 96.1,263.7 96.2,264.4 96.4,264.2 96.6,265.0 96.8,262.7 97.0,263.8 97.1,263.8 97.3,263.2 97.5,263.6 97.7,263.8 97.9,263.4 98.0,262.6 98.2,261.4 98.4,262.2 98.6,263.7 98.8,263.9 98.9,264.9 99.1,264.7 99.3,263.9 99.5,264.5 99.7,264.7 99.8,263.5 100.0,264.7 100.2,265.1 100.4,264.2 100.6,262.6 100.7,263.9 100.9,263.9 101.1,262.8 101.3,264.4 101.5,264.6 101.6,265.7 101.8,264.8 102.0,265.2 102.2,265.6 102.4,265.9 102.5,264.1 102.7,264.9 102.9,266.2 103.1,264.3 103.3,263.9 103.4,266.0 103.6,265.8 103.8,264.0 104.0,266.0 104.2,264.5 104.3,265.9 104.5,266.9 104.7,266.6 104.9,265.0 105.1,265.2 105.2,267.2 105.4,266.6 105.6,266.0 105.8,266.3 106.0,265.2 106.1,265.0 106.3,264.6 106.5,266.5 106.7,265.4 106.9,267.2 107.0,267.2 107.2,267.3 107.4,266.2 107.6,266.1 107.8,265.5 107.9,266.2 108.1,266.6 108.3,265.4 108.5,266.9 108.7,265.6 108.8,264.7 109.0,263.8 109.2,264.3 109.4,263.9 109.6,265.2 109.7,264.9 109.9,266.5 110.1,265.6 110.3,265.1 110.5,263.6 110.6,263.3 110.8,264.3 111.0,263.5 111.2,262.4 111.4,262.7 111.5,263.0 111.7,262.5 111.9,261.6 112.1,260.7 112.3,259.9 112.4,259.7 112.6,259.2 112.7,257.6 112.8,258.2 113.0,259.7 113.1,259.9 113.2,260.8 113.3,259.9 113.4,259.2 113.5,262.2 113.7,260.9 113.9,260.7 114.1,261.7 114.2,262.4 114.4,262.1 114.6,262.5 114.8,264.2 115.0,263.3 115.1,264.2 115.3,265.3 115.5,266.1 115.7,265.9 115.9,266.6 116.1,266.0 116.2,267.1 116.4,266.3 116.6,268.8 116.8,267.0 117.0,268.2 117.1,269.7 117.3,268.6 117.5,269.4 117.7,268.8 117.9,268.8 118.0,268.6 118.2,269.2 118.4,269.5 118.6,267.9 118.8,270.2 118.9,270.1 119.1,269.3 119.3,269.0 119.5,269.8 119.7,269.3 119.8,272.1 120.0,271.3 120.2,270.3 120.4,270.2 120.6,271.3 120.7,269.7 120.9,270.1 121.1,271.8 121.3,269.5 121.5,270.9 121.6,270.7 121.8,271.4 122.0,271.8 122.2,271.0 122.4,271.7 122.5,271.0 122.7,272.3 122.9,271.5 123.1,273.3 123.3,273.8 123.4,272.7 123.6,270.1 123.8,271.6 124.0,272.4 124.2,271.9 124.3,271.8 124.5,273.4 124.7,271.9 124.9,271.9 125.1,273.0 125.2,271.2 125.4,271.3 125.6,272.3 125.8,271.5 126.0,272.6 126.1,273.0 126.3,273.3 126.5,272.6 126.7,272.3 126.9,272.5 127.0,272.4 127.2,272.4 127.4,273.5 127.6,271.0 127.8,273.5 127.9,272.1 128.1,273.3 128.3,272.8 128.5,272.4 128.7,272.6 128.8,274.0 129.0,273.3 129.2,273.5 129.4,271.6 129.6,271.9 129.7,271.4 129.9,272.4 130.1,273.2 130.3,273.4 130.5,272.8 130.6,272.0 130.8,273.1 131.0,272.6 131.2,273.4 131.4,274.1 131.5,273.7 131.7,274.7 131.9,272.7 132.1,272.1 132.3,271.8 132.4,274.8 132.6,272.5 132.8,273.2 133.0,273.9 133.2,272.0 133.3,273.4 133.5,272.3 133.7,274.1 133.9,272.0 134.1,272.9 134.2,272.9 134.4,273.3 134.6,274.5 134.8,274.8 135.0,274.7 135.1,275.1 135.3,272.8 135.5,274.0 135.7,275.3 135.9,275.6 136.0,275.0 136.2,273.7 136.4,274.4 136.6,273.7 136.8,273.4 136.9,274.9 137.1,274.2 137.3,274.7 137.5,275.2 137.7,274.7 137.8,273.4 138.0,273.0 138.2,273.4 138.4,273.4 138.6,274.4 138.7,275.2 138.9,274.4 139.1,274.4 139.3,273.2 139.5,274.2 139.6,273.6 139.8,274.2 140.0,274.8 140.2,274.5 140.4,274.0 140.5,274.7 140.7,275.6 140.9,272.9 141.1,273.8 141.3,273.9 141.4,273.8 141.6,274.0 141.8,273.5 142.0,274.2 142.2,275.4 142.3,274.2 142.5,274.1 142.7,273.8 142.9,275.3 143.1,275.6 143.2,273.6 143.4,274.2 143.6,272.5 143.8,275.3 144.0,275.6 144.1,275.3 144.3,274.1 144.5,275.3 144.7,276.5 144.9,274.0 145.0,274.5 145.2,275.6 145.4,274.0 145.6,275.2 145.8,274.4 145.9,274.8 146.1,273.9 146.3,274.7 146.5,275.6 146.7,275.0 146.8,275.9 147.0,275.7 147.2,274.9 147.4,276.0 147.6,276.5 147.7,274.8 147.9,275.0 148.1,275.3 148.3,274.9 148.5,274.4 148.6,275.6 148.8,275.6 149.0,274.6 149.2,275.9 149.4,276.2 149.5,275.4 149.7,274.3 149.9,277.3 150.1,276.5 150.3,276.4 150.4,276.0 150.6,275.2 150.8,273.3 151.0,276.7 151.2,277.3 151.3,275.1 151.5,276.0 151.7,275.9 151.9,276.8 152.1,273.9 152.2,276.2 152.4,275.8 152.6,274.0 152.8,274.0 153.0,276.3 153.1,276.8 153.3,274.9 153.5,275.4 153.7,275.4 153.9,276.7 154.0,276.4 154.2,275.7 154.4,275.6 154.6,275.4 154.8,276.1 154.9,276.1 155.1,275.7 155.3,276.0 155.5,275.1 155.7,276.9 155.8,276.1 156.0,276.9 156.2,274.3 156.4,276.8 156.6,276.0 156.7,275.9 156.9,276.2 157.1,275.6 157.3,276.5 157.5,276.6 157.6,276.6 157.8,277.4 158.0,276.7 158.2,276.2 158.4,276.1 158.5,275.7 158.7,276.6 158.9,277.8 159.1,275.9 159.3,277.1 159.4,274.6 159.6,275.0 159.8,275.2 160.0,275.8 160.2,275.6 160.3,276.8 160.5,275.6 160.7,275.8 160.9,276.7 161.1,275.3 161.2,276.4 161.4,277.2 161.6,276.3 161.8,278.4 162.0,277.7 162.1,277.2 162.3,277.6 162.5,278.2 162.7,275.5 162.9,277.8 163.0,276.6 163.2,278.3 163.4,275.8 163.6,277.1 163.8,278.3 163.9,279.3 164.1,278.1 164.3,278.2 164.5,278.1 164.7,276.9 164.8,276.5 165.0,275.9 165.2,276.7 165.4,276.9 165.6,276.0 165.8,276.5 165.9,276.6 166.1,275.3 166.3,277.3 166.5,276.0 166.7,277.7 166.8,277.9 167.0,277.2 167.2,277.4 167.4,276.9 167.6,276.0 167.7,277.7 167.9,277.1 168.1,278.6 168.3,278.2 168.5,276.3 168.6,276.2 168.8,277.6 169.0,277.2 169.2,277.1 169.4,277.0 169.5,277.3 169.7,277.4 169.9,276.5 170.1,277.0 170.3,276.3 170.4,276.8 170.6,276.2 170.8,277.6 171.0,276.7 171.2,276.1 171.3,275.9 171.5,277.4 171.7,277.8 171.9,277.3 172.1,275.5 172.2,276.0 172.4,275.8 172.6,274.9 172.8,275.6 173.0,275.8 173.1,275.7 173.3,276.3 173.5,275.2 173.7,274.7 173.9,273.7 174.0,274.6 174.2,272.0 174.4,274.5 174.6,273.1 174.8,272.2 174.9,270.8 175.1,270.7 175.3,269.0 175.5,268.5 175.7,267.9 175.8,265.8 176.0,264.2 176.2,263.5 176.4,261.3 176.6,259.9 176.7,257.6 176.9,253.6 177.1,250.4 177.3,247.1 177.5,242.4 177.6,235.5 177.8,230.5 178.0,223.3 178.2,217.8 178.4,210.6 178.4,209.7 178.5,209.1 178.7,204.6 178.8,205.1 178.9,204.6 179.1,208.0 179.2,208.3 179.3,212.4 179.4,216.6 179.6,221.2 179.8,228.3 180.0,233.0 180.2,238.5 180.3,243.2 180.5,248.4 180.7,251.0 180.9,254.9 181.1,255.8 181.2,257.6 181.4,256.2 181.6,258.8 181.8,259.7 182.0,259.5 182.1,260.8 182.3,259.0 182.5,259.7 182.7,259.2 182.9,258.2 183.0,258.4 183.2,258.2 183.4,258.5 183.4,257.9 183.6,258.3 183.8,257.8 183.8,257.5 183.9,257.5 184.1,257.4 184.1,258.7 184.3,260.1 184.5,259.7 184.7,260.6 184.8,261.7 185.0,261.7 185.2,263.4 185.4,263.0 185.6,264.3 185.7,263.3 185.9,266.1 186.1,266.0 186.3,265.5 186.5,265.5 186.6,266.4 186.8,264.4 187.0,265.1 187.2,264.9 187.4,263.6 187.5,263.6 187.7,262.5 187.9,262.0 187.9,263.4 188.1,262.3 188.3,262.8 188.3,262.0 188.4,262.2 188.6,263.2 188.6,261.8 188.8,262.5 189.0,263.7 189.2,264.4 189.3,264.9 189.5,266.3 189.7,264.5 189.9,265.8 190.1,268.0 190.2,267.0 190.4,268.9 190.6,268.4 190.8,268.1 191.0,269.0 191.1,267.3 191.3,270.3 191.5,268.8 191.7,267.8 191.9,266.5 192.0,267.3 192.2,267.7 192.4,266.5 192.6,267.7 192.8,266.3 192.9,265.7 193.1,263.8 193.3,262.0 193.5,262.9 193.7,259.7 193.8,256.8 194.0,256.8 194.2,251.7 194.4,250.3 194.6,246.3 194.7,242.6 194.9,236.9 195.1,230.5 195.3,225.3 195.5,216.5 195.6,209.7 195.8,202.8 196.0,199.5 196.0,199.4 196.2,196.3 196.4,193.3 196.4,193.5 196.5,194.7 196.7,200.2 196.7,200.0 196.9,202.7 197.1,212.4 197.3,219.0 197.4,225.2 197.6,231.6 197.8,237.5 198.0,242.2 198.2,246.7 198.3,250.1 198.5,254.6 198.7,256.5 198.9,258.7 199.1,261.3 199.2,263.6 199.4,265.2 199.6,265.4 199.8,266.9 200.0,268.2 200.1,268.1 200.3,270.0 200.5,269.5 200.7,271.6 200.9,269.7 201.0,272.1 201.2,273.4 201.4,272.8 201.6,272.3 201.8,272.6 201.9,273.3 202.1,272.0 202.3,273.2 202.5,273.7 202.7,273.9 202.8,274.2 203.0,274.6 203.2,275.1 203.4,274.5 203.6,275.7 203.7,275.4 203.9,276.4 204.1,275.4 204.3,274.3 204.5,274.4 204.6,277.1 204.8,275.1 205.0,273.6 205.2,273.8 205.4,275.2 205.5,274.4 205.7,275.3 205.9,274.5 206.1,275.3 206.3,275.4 206.4,274.0 206.6,274.7 206.8,274.5 207.0,275.8 207.2,273.2 207.3,274.4 207.5,274.0 207.7,274.4 207.9,275.1 208.1,274.1 208.2,271.4 208.4,273.2 208.6,273.5 208.8,272.2 209.0,271.4 209.1,272.3 209.3,270.8 209.5,270.2 209.7,269.6 209.9,268.0 210.0,268.8 210.2,266.6 210.4,265.7 210.6,263.5 210.8,262.7 210.9,259.9 211.1,257.0 211.3,253.7 211.5,247.7 211.7,243.4 211.8,236.9 212.0,230.5 212.2,220.3 212.4,209.7 212.6,197.8 212.7,185.6 212.9,172.6 213.1,161.7 213.1,161.8 213.3,152.5 213.5,149.9 213.5,150.1 213.6,152.4 213.8,161.5 213.8,162.4 214.0,172.5 214.2,186.3 214.4,199.1 214.5,212.2 214.7,223.0 214.9,231.9 215.1,239.4 215.3,244.8 215.5,250.7 215.6,254.7 215.8,258.4 216.0,261.3 216.2,262.9 216.4,265.2 216.5,267.5 216.7,269.9 216.9,269.8 217.1,271.9 217.3,272.1 217.4,272.8 217.6,274.3 217.8,273.5 218.0,274.3 218.2,275.0 218.3,275.3 218.5,275.1 218.7,275.5 218.9,274.4 219.1,276.9 219.2,274.9 219.4,274.4 219.6,274.9 219.8,275.1 220.0,274.5 220.1,274.2 220.3,273.0 220.5,273.5 220.7,273.9 220.9,272.9 221.0,272.0 221.2,270.8 221.4,270.5 221.6,270.5 221.8,269.9 221.9,267.4 222.1,266.9 222.3,267.0 222.5,264.8 222.7,263.5 222.8,262.8 223.0,261.8 223.2,259.7 223.4,259.7 223.6,258.1 223.7,257.3 223.9,256.2 223.9,256.3 224.1,255.7 224.3,255.6 224.3,256.1 224.5,256.7 224.6,256.7 224.6,257.9 224.8,256.7 225.0,257.9 225.2,257.6 225.4,257.3 225.5,258.3 225.7,259.5 225.9,259.5 226.1,261.0 226.3,260.6 226.4,262.9 226.6,262.0 226.8,263.7 227.0,264.2 227.2,263.9 227.3,264.8 227.5,266.3 227.7,264.6 227.9,264.7 228.1,266.9 228.2,266.6 228.4,266.7 228.4,267.2 228.6,266.9 228.8,268.0 228.8,267.0 229.0,267.0 229.1,267.3 229.1,268.7 229.3,269.1 229.5,269.7 229.7,268.9 229.9,270.7 230.0,269.9 230.2,271.3 230.4,272.7 230.6,272.5 230.8,274.1 230.9,274.1 231.1,274.8 231.3,274.9 231.5,275.3 231.7,278.0 231.8,277.2 232.0,277.4 232.2,279.0 232.4,278.3 232.6,278.1 232.7,279.3 232.9,280.0 233.1,280.1 233.3,280.5 233.5,280.6 233.6,281.4 233.8,281.3 234.0,280.2 234.2,281.9 234.4,281.0 234.5,280.2 234.7,280.9 234.9,280.9 235.1,282.0 235.3,281.0 235.4,280.2 235.6,280.7 235.8,279.6 236.0,279.3 236.2,279.8 236.3,279.1 236.5,279.5 236.7,278.0 236.9,278.2 237.1,277.4 237.2,275.4 237.4,274.5 237.6,273.7 237.8,270.3 238.0,267.6 238.1,265.0 238.3,263.1 238.5,259.3 238.7,254.9 238.9,249.5 239.0,245.8 239.2,239.7 239.4,235.8 239.6,230.2 239.7,227.9 239.8,227.5 239.9,224.6 240.0,224.7 240.1,224.5 240.3,225.5 240.4,227.6 240.5,229.2 240.7,235.6 240.8,239.8 241.0,245.9 241.2,250.9 241.4,256.0 241.6,259.1 241.7,264.1 241.9,264.9 242.1,268.7 242.3,271.4 242.5,272.5 242.6,275.6 242.8,276.4 243.0,276.7 243.2,277.5 243.4,279.4 243.5,280.0 243.7,281.5 243.9,280.6 244.1,280.2 244.3,282.9 244.4,282.9 244.6,283.1 244.8,282.9 245.0,284.4 245.2,282.8 245.3,284.3 245.5,284.8 245.7,284.2 245.9,285.3 246.1,285.5 246.2,285.3 246.4,285.5 246.6,286.0 246.8,286.6 247.0,286.6 247.1,286.9 247.3,286.0 247.5,286.5 247.7,285.5 247.9,286.4 248.0,286.2 248.2,286.2 248.4,286.0 248.6,286.2 248.8,285.4 248.9,285.6 249.1,285.9 249.3,286.5 249.5,285.1 249.7,284.8 249.8,284.6 250.0,287.1 250.2,285.2 250.4,285.6 250.6,286.0 250.7,286.4 250.9,285.3 251.1,286.1 251.3,285.1 251.5,284.4 251.6,284.0 251.8,284.0 252.0,283.6 252.2,282.9 252.4,283.8 252.5,283.2 252.7,283.8 252.7,283.6 252.9,282.6 253.1,283.6 253.1,283.4 253.3,284.3 253.4,284.4 253.4,283.5 253.6,283.7 253.8,284.8 254.0,285.2 254.2,283.3 254.3,285.2 254.5,285.2 254.7,284.3 254.9,285.1 255.1,286.5 255.2,286.2 255.4,286.8 255.6,287.6 255.8,286.5 256.0,287.0 256.1,287.3 256.3,286.6 256.5,288.5 256.7,286.6 256.9,287.1 257.0,287.5 257.2,287.7 257.4,289.3 257.6,287.5 257.8,287.8 257.9,288.2 258.1,287.2 258.3,288.7 258.5,287.8 258.7,288.0 258.8,287.8 259.0,288.6 259.2,288.7 259.4,288.0 259.6,287.7 259.7,287.8 259.9,288.4 260.1,287.9 260.3,286.2 260.5,287.2 260.6,286.1 260.8,287.9 261.0,287.9 261.2,287.2 261.4,285.7 261.5,286.2 261.7,288.3 261.9,288.6 262.1,287.7 262.3,287.5 262.4,286.9 262.6,287.0 262.8,287.7 263.0,286.8 263.2,287.1 263.3,286.3 263.5,287.1 263.7,286.5 263.9,287.9 264.1,286.1 264.2,285.8 264.4,285.8 264.6,285.3 264.8,285.9 265.0,283.9 265.2,285.7 265.3,284.6 265.5,283.6 265.7,283.1 265.9,282.8 266.1,280.6 266.2,280.8 266.4,281.5 266.6,279.7 266.8,278.8 267.0,276.4 267.1,275.2 267.3,273.4 267.5,271.2 267.7,268.6 267.9,266.8 268.0,262.5 268.2,261.7 268.4,257.9 268.6,256.0 268.8,252.2 268.9,251.7 268.9,251.7 269.1,250.0 269.3,249.7 269.3,249.5 269.5,249.8 269.7,249.8 269.7,251.5 269.8,252.4 270.0,256.2 270.2,258.5 270.4,261.4 270.6,263.5 270.7,267.1 270.9,270.0 271.1,270.6 271.3,273.8 271.5,276.0 271.6,275.5 271.8,277.6 272.0,279.8 272.2,280.5 272.4,280.6 272.5,282.2 272.7,283.3 272.9,283.4 273.1,283.8 273.3,284.0 273.4,284.8 273.6,284.8 273.8,284.9 274.0,285.3 274.2,285.0 274.3,285.4 274.5,286.3 274.7,286.4 274.9,285.2 275.1,285.3 275.2,287.0 275.4,287.6 275.6,286.3 275.8,286.3 276.0,286.3 276.1,285.9 276.3,287.1 276.5,286.6 276.7,287.7 276.9,287.4 277.0,287.3 277.2,288.0 277.4,287.7 277.6,288.4 277.8,287.2 277.9,286.2 278.1,287.9 278.3,286.5 278.5,287.1 278.7,288.1 278.8,288.2 279.0,287.8 279.2,288.3 279.4,288.9 279.6,288.4 279.7,287.4 279.9,287.5 280.1,287.4 280.3,286.6 280.5,286.7 280.6,286.9 280.8,287.9 281.0,286.9 281.2,289.1 281.4,287.3 281.5,288.0 281.7,287.7 281.9,288.1 282.1,286.9 282.3,287.4 282.4,286.8 282.6,286.8 282.8,287.0 283.0,286.9 283.2,286.2 283.3,287.0 283.5,287.0 283.7,286.5 283.9,285.6 284.1,285.6 284.2,284.8 284.4,284.3 284.6,283.8 284.8,283.9 285.0,283.4 285.1,281.8 285.3,281.1 285.5,281.1 285.7,280.2 285.9,278.8 286.0,278.5 286.2,278.1 286.4,275.7 286.6,275.5 286.8,272.5 286.9,271.9 287.1,271.2 287.3,268.0 287.5,265.7 287.7,265.1 287.8,263.0 287.8,265.2 288.0,263.5 288.2,264.2 288.2,264.1 288.4,264.4 288.6,265.2 288.6,264.8 288.7,266.0 288.9,267.0 289.1,267.3 289.3,270.3 289.5,271.1 289.6,272.3 289.8,275.1 290.0,276.8 290.2,278.5 290.4,280.0 290.5,280.7 290.7,281.1 290.9,281.0 291.1,282.0 291.3,283.5 291.4,283.5 291.6,284.6 291.8,285.3 292.0,286.3 292.2,286.6 292.3,286.3 292.5,285.9 292.7,286.3 292.9,286.1 293.1,287.4 293.2,287.3 293.4,289.1 293.6,288.5 293.8,287.8 294.0,288.5 294.1,288.6 294.3,288.3 294.5,288.1 294.7,288.3 294.9,288.6 295.0,289.8 295.2,289.0 295.4,288.6 295.6,289.6 295.8,289.7 295.9,288.5 296.1,290.0 296.3,290.4 296.5,290.1 296.7,289.9 296.8,290.1 297.0,288.9 297.2,289.3 297.4,290.0 297.6,288.4 297.7,290.3 297.9,289.2 298.1,290.1 298.3,291.0 298.5,290.3 298.6,290.5 298.8,289.7 299.0,291.5 299.2,291.0 299.4,290.8 299.5,290.4 299.7,291.1 299.9,292.2 300.1,292.6 300.3,290.2 300.4,290.5 300.6,290.9 300.8,291.9 301.0,291.9 301.2,290.3 301.3,290.6 301.5,290.9 301.7,291.7 301.9,291.4 302.1,291.9 302.2,292.2 302.4,290.9 302.6,291.2 302.8,291.9 303.0,290.5 303.1,290.5 303.3,291.1 303.5,291.5 303.7,290.3 303.9,291.9 304.0,291.1 304.2,292.2 304.4,290.6 304.6,292.5 304.8,291.7 304.9,290.8 305.1,291.8 305.3,290.4 305.5,290.7 305.7,290.8 305.8,291.3 306.0,291.9 306.2,291.0 306.4,291.2 306.6,290.9 306.7,292.2 306.9,291.9 307.1,292.0 307.3,292.2 307.5,293.1 307.6,292.0 307.8,291.4 308.0,292.2 308.2,292.6 308.4,292.6 308.5,292.9 308.7,292.9 308.9,290.9 309.1,290.4 309.3,291.7 309.4,291.0 309.6,292.9 309.8,291.9 310.0,292.7 310.2,292.5 310.3,294.3 310.5,291.0 310.7,292.9 310.9,290.8 311.1,290.5 311.2,291.8 311.4,291.9 311.6,292.0 311.8,292.5 312.0,292.6 312.1,292.2 312.3,292.2 312.5,292.9 312.7,292.5 312.9,292.8 313.0,293.5 313.2,291.7 313.4,292.3 313.6,292.4 313.8,291.5 314.0,292.5 314.1,293.3 314.3,292.5 314.5,293.6 314.7,292.6 314.9,292.4 315.0,292.0 315.2,292.6 315.4,293.0 315.6,292.8 315.8,293.2 315.9,293.3 316.1,291.7 316.3,292.0 316.5,291.7 316.7,292.1 316.8,292.6 317.0,291.4 317.2,292.1 317.4,292.6 317.6,291.7 317.7,291.8 317.9,292.5 318.1,293.8 318.3,291.9 318.5,294.2 318.6,291.8 318.8,292.0 319.0,290.9 319.2,291.3 319.4,293.0 319.5,292.4 319.7,292.7 319.9,292.3 320.1,291.6 320.3,291.9 320.4,292.0 320.6,291.6 320.8,291.4 321.0,292.1 321.2,292.4 321.3,292.1 321.5,292.4 321.7,292.2 321.9,291.4 322.1,291.3 322.2,290.9 322.4,292.2 322.6,292.5 322.8,291.3 323.0,290.7 323.1,291.2 323.3,292.1 323.5,291.0 323.7,291.1 323.9,291.0 324.0,289.9 324.2,288.9 324.4,288.7 324.6,287.3 324.8,289.2 324.9,288.0 325.1,288.7 325.3,288.2 325.5,287.8 325.7,287.3 325.7,286.3 325.8,287.1 326.0,285.5 326.0,286.8 326.2,286.1 326.4,286.2 326.4,286.9 326.6,286.5 326.7,288.6 326.9,287.3 327.1,288.0 327.3,288.3 327.5,287.5 327.6,288.2 327.8,289.1 328.0,289.5 328.2,290.3 328.4,290.0 328.5,290.7 328.7,290.8 328.9,289.7 329.1,290.2 329.3,290.9 329.4,291.4 329.6,291.7 329.8,290.7 330.0,292.2 330.2,291.7 330.3,292.3 330.5,292.4 330.7,292.0 330.9,293.3 331.1,292.5 331.2,293.7 331.4,293.2 331.6,292.7 331.8,293.3 332.0,293.1 332.1,293.5 332.3,292.3 332.5,293.2 332.7,291.5 332.9,293.1 333.0,294.0 333.2,293.1 333.4,293.7 333.6,293.5 333.8,293.4 333.9,293.1 334.1,292.7 334.3,292.4 334.5,292.6 334.7,293.2 334.8,293.8 335.0,293.4 335.2,294.3 335.4,292.6 335.6,293.9 335.7,294.2 335.9,293.2 336.1,292.8 336.3,293.7 336.5,293.6 336.6,294.4 336.8,293.1 337.0,293.0 337.2,293.0 337.4,292.3 337.5,291.9 337.7,292.9 337.9,292.7 338.1,292.3 338.3,294.4 338.4,292.6 338.6,292.9 338.8,293.2 339.0,293.8 339.2,292.8 339.3,293.8 339.5,292.7 339.7,293.9 339.9,294.0 340.1,294.0 340.2,293.2 340.4,293.2 340.6,293.3 340.8,293.3 341.0,292.9 341.1,293.8 341.3,292.5 341.5,293.6 341.7,294.0 341.9,293.8 342.0,293.0 342.2,293.6 342.4,292.8 342.6,293.3 342.8,292.9 342.9,293.9 343.1,292.4 343.3,292.9 343.5,294.0 343.7,293.6 343.8,293.3 344.0,292.5 344.2,294.4 344.4,294.2 344.6,293.6 344.7,292.9 344.9,291.8 345.1,293.0 345.3,293.6 345.5,294.9 345.6,292.7 345.8,292.6 346.0,293.9 346.2,294.4 346.4,294.2 346.5,293.8 346.7,294.2 346.9,293.2 347.1,294.0 347.3,294.4 347.4,293.1 347.6,294.3 347.8,293.6 348.0,293.7 348.2,293.5 348.3,293.3 348.5,294.9 348.7,294.0 348.9,293.7 349.1,293.5 349.2,294.0 349.4,292.8 349.6,293.3 349.8,293.0 350.0,292.5 350.1,293.3 350.3,294.4 350.5,292.8 350.7,293.5 350.9,293.6 351.0,292.8 351.2,293.2 351.4,293.0 351.6,293.6 351.8,293.5 351.9,292.0 352.1,292.7 352.3,293.4 352.5,293.2 352.7,291.9 352.8,293.5 353.0,293.2 353.2,292.1 353.4,293.6 353.6,293.7 353.7,292.8 353.9,294.0 354.1,291.8 354.3,292.1 354.5,291.7 354.6,292.1 354.8,291.9 355.0,292.6 355.2,293.1 355.4,291.9 355.5,291.5 355.7,292.0 355.9,291.0 356.1,290.6 356.3,291.0 356.4,291.2 356.6,291.0 356.8,289.4 357.0,289.2 357.2,289.5 357.3,287.7 357.5,288.8 357.7,287.1 357.9,287.2 358.1,287.3 358.2,286.5 358.4,285.2 358.6,285.4 358.8,285.1 359.0,284.9 359.0,283.7 359.1,283.8 359.3,283.9 359.3,283.7 359.5,283.8 359.7,283.6 359.7,284.2 359.9,285.9 360.0,285.1 360.2,285.9 360.4,285.9 360.6,286.4 360.8,286.8 360.9,287.6 361.1,286.7 361.3,287.7 361.5,289.5 361.7,289.6 361.8,289.4 362.0,290.9 362.2,290.8 362.4,291.7 362.6,291.9 362.7,291.9 362.9,292.8 363.1,292.3 363.3,293.5 363.5,292.1 363.7,292.3 363.8,293.3 364.0,292.5 364.2,292.7 364.4,294.0 364.6,292.6 364.7,292.7 364.9,293.1 365.1,293.1 365.3,293.5 365.5,293.2 365.6,293.6 365.8,293.3 366.0,292.8 366.2,293.8 366.4,293.7 366.5,292.9 366.7,294.2 366.9,293.7 367.1,294.2 367.3,294.4 367.4,294.1 367.6,294.0 367.8,294.1 368.0,293.8 368.2,293.2 368.3,293.6 368.5,293.8 368.7,294.2 368.9,294.0 369.1,293.6 369.2,293.3 369.4,293.9 369.6,293.8 369.8,292.7 370.0,293.8 370.1,294.8 370.3,293.4 370.5,293.7 370.7,294.7 370.9,294.3 371.0,294.5 371.2,294.4 371.4,294.1 371.6,293.4 371.8,294.3 371.9,293.7 372.1,293.5 372.3,294.0 372.5,294.4 372.7,293.9 372.8,294.7 373.0,293.6 373.2,294.1 373.4,295.0 373.6,294.5 373.7,294.1 373.9,294.4 374.1,293.5 374.3,293.0 374.5,294.1 374.6,293.9 374.8,292.6 375.0,292.7 375.2,293.0 375.4,292.6 375.5,293.0 375.7,293.2 375.9,293.0 376.1,293.6 376.3,293.5 376.4,294.4 376.6,292.7 376.8,293.3 377.0,291.4 377.2,292.5 377.3,291.7 377.5,292.9 377.7,292.7 377.9,292.8 378.1,292.5 378.2,292.4 378.4,291.4 378.6,291.7 378.8,292.1 379.0,292.2 379.1,293.0 379.3,293.2 379.5,292.1 379.7,293.3 379.9,292.1 380.0,292.2 380.2,291.9 380.4,291.9 380.6,291.8 380.8,290.9 380.9,290.8 381.1,292.3 381.3,290.3 381.5,293.0 381.7,291.5 381.8,291.4 382.0,292.5 382.2,291.5 382.4,291.0 382.6,290.8 382.7,291.5 382.9,290.5 383.1,291.4 383.3,290.9 383.5,290.8 383.6,291.3 383.8,290.2 384.0,289.9 384.2,290.6 384.4,289.8 384.5,289.0 384.7,290.8 384.9,290.4 385.1,290.5 385.3,289.1 385.4,289.0 385.6,289.9 385.8,289.7 386.0,290.6 386.2,290.9 386.3,289.1 386.5,289.6 386.7,290.2 386.9,288.3 387.1,289.4 387.2,288.5 387.4,288.3 387.6,288.7 387.8,288.2 388.0,288.3 388.1,289.3 388.3,288.7 388.5,290.0 388.7,288.2 388.9,287.5 389.0,287.2 389.2,285.7 389.4,287.1 389.6,286.6 389.8,285.4 389.9,284.0 390.1,283.5 390.3,283.3 390.5,281.0 390.7,281.9 390.8,279.4 390.9,279.8 391.0,278.6 391.2,280.5 391.3,279.9 391.4,279.3 391.6,279.8 391.7,281.4 391.7,280.1 391.9,281.1 392.1,281.8 392.3,283.2 392.5,282.5 392.6,285.0 392.8,285.6 393.0,285.7 393.2,286.0 393.4,287.3 393.5,286.4 393.7,287.0 393.9,286.5 394.1,288.1 394.3,288.2 394.4,288.2 394.6,288.7 394.8,288.8 395.0,288.7 395.2,289.0 395.3,289.4 395.5,288.8 395.7,287.8 395.9,288.0 396.1,288.5 396.2,287.4 396.4,287.1 396.6,287.3 396.8,287.6 397.0,286.7 397.1,286.9 397.3,286.1 397.5,285.6 397.7,286.1 397.9,285.5 398.0,285.5 398.2,285.2 398.4,284.7 398.6,282.9 398.8,282.6 398.9,282.2 399.1,280.0 399.3,279.2 399.5,277.3 399.7,276.0 399.8,274.4 400.0,272.4 400.2,270.1 400.4,267.0 400.6,266.2 400.7,263.8 400.9,260.2 401.1,258.4 401.3,256.1 401.5,254.4 401.6,250.9 401.7,249.6 401.8,250.3 402.0,248.9 402.1,249.1 402.2,248.6 402.4,249.8 402.5,249.6 402.5,251.6 402.7,252.0 402.9,253.4 403.1,256.9 403.3,259.2 403.4,261.1 403.6,264.4 403.8,265.9 404.0,268.0 404.2,270.7 404.3,271.4 404.5,273.3 404.7,273.5 404.9,276.2 405.1,276.2 405.2,278.1 405.4,278.4 405.6,280.1 405.8,279.6 406.0,281.1 406.1,281.7 406.3,281.3 406.5,282.1 406.7,281.8 406.9,281.6 407.0,282.2 407.2,281.1 407.4,283.1 407.6,283.6 407.8,281.9 407.9,282.8 408.1,283.0 408.3,282.0 408.5,281.8 408.7,281.3 408.8,281.1 409.0,282.1 409.2,280.7 409.4,280.6 409.6,280.0 409.7,279.7 409.9,278.4 410.1,278.1 410.3,278.1 410.5,276.8 410.6,276.5 410.8,276.7 411.0,273.2 411.2,273.2 411.4,272.4 411.5,271.0 411.7,269.4 411.9,268.8 412.1,266.1 412.3,265.0 412.4,262.8 412.6,261.6 412.8,259.7 413.0,259.4 413.2,256.8 413.4,254.9 413.5,253.5 413.7,250.8 413.9,248.2 414.1,246.6 414.3,245.7 414.4,243.6 414.6,241.6 414.8,240.3 415.0,238.2 415.2,239.3 415.2,237.9 415.3,238.3 415.5,238.1 415.6,237.0 415.7,237.7 415.9,237.3 416.0,238.1 416.1,239.6 416.2,239.6 416.4,239.9 416.6,242.6 416.8,243.2 417.0,246.9 417.1,246.6 417.3,250.1 417.5,251.5 417.7,252.8 417.9,255.5 418.0,258.6 418.2,259.6 418.4,260.6 418.6,263.7 418.8,265.2 418.9,266.0 419.1,267.7 419.3,268.8 419.5,271.1 419.7,272.3 419.8,273.0 420.0,272.8 420.2,274.7 420.4,274.4 420.6,276.3 420.7,276.9 420.9,276.8 421.1,278.0 421.3,278.3 421.5,279.3 421.6,278.9 421.8,280.4 422.0,279.5 422.0,278.4 422.2,279.0 422.4,280.0 422.4,280.0 422.5,280.3 422.7,282.6 422.7,281.5 422.9,280.0 423.1,282.4 423.3,283.0 423.4,283.3 423.6,285.2 423.8,285.5 424.0,285.9 424.2,285.5 424.3,287.1 424.5,286.4 424.7,287.6 424.9,288.9 425.1,287.7 425.2,288.6 425.4,288.2 425.6,289.1 425.8,289.1 426.0,290.4 426.1,290.3 426.3,290.1 426.5,289.4 426.7,289.4 426.9,289.2 427.0,289.4 427.2,290.0 427.4,290.4 427.6,290.0 427.8,291.2 427.9,289.5 428.1,291.4 428.3,290.6 428.5,291.2 428.7,291.4 428.8,291.0 429.0,290.8 429.2,291.9 429.4,292.6 429.6,291.1 429.7,291.6 429.9,292.1 430.1,292.1 430.3,292.3 430.5,291.9 430.6,291.6 430.8,292.3 431.0,292.0 431.2,291.3 431.4,290.9 431.5,292.3 431.7,290.9 431.9,291.9 432.1,291.6 432.3,292.1 432.4,292.7 432.6,293.4 432.8,293.2 433.0,293.0 433.2,293.3 433.3,293.6 433.5,292.9 433.7,293.9 433.9,294.1 434.1,294.0 434.2,293.5 434.4,293.3 434.6,293.5 434.8,294.0 435.0,292.8 435.1,292.9 435.3,293.7 435.5,292.9 435.7,293.5 435.9,294.2 436.0,292.9 436.2,293.9 436.4,292.1 436.6,293.4 436.8,293.9 436.9,293.7 437.1,294.1 437.3,294.0 437.5,294.5 437.7,293.9 437.8,293.2 438.0,293.5 438.2,293.6 438.4,293.9 438.6,293.3 438.7,293.5 438.9,295.0 439.1,293.9 439.3,293.6 439.5,294.2 439.6,293.9 439.8,293.4 440.0,294.0 440.2,293.8 440.4,294.7 440.5,294.0 440.7,293.1 440.9,293.1 441.1,294.0 441.3,293.1 441.4,293.8 441.6,293.2 441.8,294.6 442.0,293.7 442.2,293.7 442.3,291.8 442.5,293.2 442.7,292.9 442.9,292.3 443.1,292.0 443.2,293.6 443.4,293.3 443.6,291.9 443.8,292.0 444.0,291.2 444.1,290.3 444.3,290.4 444.5,291.8 444.7,291.5 444.9,290.6 445.0,290.4 445.2,291.8 445.4,289.8 445.4,289.7 445.6,289.7 445.8,290.8 445.8,289.8 445.9,290.4 446.1,290.1 446.1,289.9 446.3,290.6 446.5,291.2 446.7,291.7 446.8,290.7 447.0,291.8 447.2,289.8 447.4,292.0 447.6,291.9 447.7,291.5 447.9,292.7 448.1,294.3 448.3,293.2 448.5,294.0 448.6,294.0 448.8,293.6 449.0,294.5 449.2,293.7 449.4,293.7 449.5,294.5 449.7,294.0 449.9,294.4 450.1,295.3 450.3,294.0 450.4,294.1 450.6,293.8 450.8,294.0 451.0,295.3 451.2,295.4 451.3,295.5 451.5,294.9 451.7,295.1 451.9,294.1 452.1,294.1 452.2,295.2 452.4,294.8 452.6,295.1 452.8,294.2 453.0,295.1 453.1,294.3 453.3,294.2 453.5,294.4 453.7,294.7 453.9,296.1 454.0,295.1 454.2,295.3 454.4,294.9 454.6,295.1 454.8,295.5 454.9,294.9 455.1,294.4 455.3,295.2 455.5,294.4 455.7,294.6 455.8,294.7 456.0,294.6 456.2,294.1 456.4,295.4 456.6,294.5 456.7,294.7 456.9,294.7 457.1,295.2 457.3,294.1 457.5,295.6 457.6,294.2 457.8,294.9 458.0,294.8 458.2,295.3 458.4,295.8 458.5,294.8 458.7,295.3 458.9,294.6 459.1,295.8 459.3,295.2 459.4,294.8 459.6,294.0 459.8,294.0 460.0,295.2 460.2,295.3 460.3,295.2 460.5,295.0 460.7,295.9 460.9,294.9 461.1,295.8 461.2,294.8 461.4,295.1 461.6,293.5 461.8,294.6 462.0,294.4 462.1,294.4 462.3,293.7 462.5,294.5 462.7,293.6 462.9,295.0 463.1,293.6 463.2,293.3 463.4,294.9 463.6,295.0 463.8,293.8 464.0,293.2 464.1,293.7 464.3,294.0 464.5,293.8 464.7,293.7 464.9,293.8 465.0,294.4 465.2,293.0 465.4,293.1 465.6,293.2 465.8,293.1 465.9,292.8 466.1,292.0 466.3,291.6 466.5,292.5 466.7,292.1 466.8,292.9 467.0,291.5 467.2,291.2 467.4,292.7 467.6,290.0 467.7,291.9 467.9,290.9 468.1,291.2 468.3,290.1 468.5,289.0 468.6,290.0 468.8,288.8 469.0,289.0 469.2,289.5 469.4,288.3 469.5,287.2 469.7,286.6 469.9,285.6 470.1,285.5 470.3,285.8 470.4,284.8 470.6,281.8 470.8,281.3 471.0,280.8 471.2,280.0 471.3,277.7 471.5,276.9 471.7,274.9 471.9,272.2 472.1,270.3 472.2,267.0 472.4,264.7 472.6,261.8 472.8,258.5 473.0,256.4 473.1,253.2 473.3,248.2 473.5,244.4 473.7,240.2 473.9,238.4 474.0,236.0 474.2,235.5 474.2,233.5 474.4,231.0 474.6,232.4 474.6,232.1 474.8,231.1 474.9,234.6 474.9,233.9 475.1,236.1 475.3,237.3 475.5,240.5 475.7,243.7 475.8,248.2 476.0,252.1 476.2,255.4 476.4,257.4 476.6,262.5 476.7,264.3 476.9,267.5 477.1,269.6 477.3,272.6 477.5,274.4 477.6,276.6 477.8,278.0 478.0,278.7 478.2,279.7 478.4,281.6 478.5,282.4 478.7,284.3 478.9,284.0 479.1,284.6 479.3,285.1 479.4,285.9 479.6,287.0 479.8,287.2 480.0,288.6 480.2,288.2 480.3,288.7 480.5,289.4 480.7,290.0 480.9,290.2 481.1,289.5 481.2,289.8 481.4,290.7 481.6,290.4 481.8,290.0 482.0,289.4 482.1,289.8 482.3,290.6 482.5,290.0 482.7,291.1 482.9,291.3 483.0,291.1 483.2,291.5 483.4,290.8 483.6,291.3 483.8,291.2 483.9,291.9 484.1,292.7 484.3,290.9 484.5,291.5 484.7,291.8 484.8,293.2 485.0,291.6 485.2,293.5 485.4,292.3 485.6,293.5 485.7,291.8 485.9,291.9 486.1,293.2 486.3,292.3 486.5,293.0 486.6,293.4 486.8,292.8 487.0,293.6 487.2,292.8 487.4,292.9 487.5,293.5 487.7,292.6 487.9,294.1 488.1,292.5 488.3,293.7 488.4,293.1 488.6,293.3 488.8,292.3 489.0,293.4 489.2,293.8 489.3,292.2 489.5,292.7 489.7,292.5 489.9,293.2 490.1,293.1 490.2,294.1 490.4,293.2 490.6,293.4 490.8,292.6 491.0,293.0 491.1,293.4 491.3,293.5 491.5,293.2 491.7,292.4 491.9,293.8 492.0,293.7 492.2,293.5 492.4,293.0 492.6,293.0 492.8,292.3 492.9,292.9 493.1,291.5 493.3,291.3 493.5,291.6 493.7,291.7 493.8,292.5 494.0,292.5 494.2,292.2 494.4,291.3 494.6,290.7 494.7,292.5 494.9,291.1 494.9,290.1 495.1,291.1 495.3,291.3 495.3,291.1 495.5,291.2 495.6,292.0 495.6,290.8 495.8,291.5 496.0,291.7 496.2,292.9 496.4,292.8 496.5,291.9 496.7,292.2 496.9,292.2 497.1,293.2 497.3,292.5 497.4,292.2 497.6,292.4 497.8,293.4 498.0,292.3 498.2,292.3 498.3,293.0 498.5,293.9 498.7,292.7 498.9,294.0 499.1,294.4 499.2,294.0 499.4,293.5 499.6,294.4 499.8,293.9 500.0,293.5 500.1,294.0 500.3,294.8 500.5,293.8 500.7,293.4 500.9,293.9 501.0,293.4 501.2,294.1 501.4,293.8 501.6,293.9 501.8,293.7 501.9,294.3 502.1,294.5 502.3,293.5 502.5,293.9 502.7,293.4 502.8,293.4 503.0,294.6 503.2,295.0 503.4,294.5 503.6,294.6 503.7,294.0 503.9,294.1 504.1,294.0 504.3,293.5 504.5,294.4 504.6,294.2 504.8,294.1 505.0,294.3 505.2,294.5 505.4,294.7 505.5,294.0 505.7,294.2 505.9,293.6 506.1,293.8 506.3,293.3 506.4,293.8 506.6,293.4 506.8,293.6 507.0,293.6 507.2,293.9 507.3,293.4 507.5,293.8 507.7,294.0 507.9,291.9 508.1,293.4 508.2,293.6 508.4,294.3 508.6,291.5 508.8,293.2 509.0,293.8 509.1,291.3 509.3,290.9 509.5,291.5 509.7,290.5 509.9,291.1 510.0,291.1 510.2,291.0 510.4,289.9 510.6,289.6 510.8,289.4 510.9,289.4 511.1,288.9 511.3,287.8 511.5,288.1 511.7,287.4 511.8,287.5 512.0,286.3 512.0,286.5 512.2,286.2 512.4,286.8 512.4,286.0 512.6,286.4 512.8,286.0 512.8,285.7 512.9,286.9 513.1,286.6 513.3,287.7 513.5,287.6 513.7,287.9 513.8,287.1 514.0,288.9 514.2,288.8 514.4,289.3 514.6,290.1 514.7,291.2 514.9,291.9 515.1,291.4 515.3,292.8 515.5,293.0 515.6,293.5 515.8,293.9 516.0,292.5 516.2,293.6 516.4,293.7 516.5,295.0 516.7,294.8 516.9,295.5 517.1,293.6 517.3,294.7 517.4,294.6 517.6,293.9 517.8,295.1 518.0,294.4 518.2,294.2 518.3,294.1 518.5,295.2 518.7,295.2 518.9,293.9 519.1,294.5 519.2,294.6 519.4,295.1 519.6,295.8 519.8,295.7 520.0,295.3 520.1,295.5 520.3,295.8 520.5,295.0 520.7,295.0 520.9,296.0 521.0,295.8 521.2,295.9 521.4,295.7 521.6,296.3 521.8,296.7 521.9,296.2 522.1,295.2 522.3,295.9 522.5,296.3 522.7,295.0 522.8,296.3 523.0,295.9 523.2,296.5 523.4,296.1 523.6,296.4 523.7,295.5 523.9,295.4 524.1,296.2 524.3,295.8 524.5,295.0 524.6,296.6 524.8,296.6 525.0,296.5 525.2,295.9 525.4,297.0 525.5,296.7 525.7,296.6 525.9,296.4 526.1,296.3 526.3,297.1 526.4,295.7 526.6,297.2 526.8,296.2 527.0,296.3 527.2,297.0 527.3,297.2 527.5,297.0 527.7,296.2 527.9,295.8 528.1,295.1 528.2,296.8 528.4,295.5 528.6,295.0 528.8,296.5 529.0,296.0 529.1,295.5 529.3,295.7 529.5,297.0 529.7,296.5 529.9,297.0 530.0,295.7 530.2,297.3 530.4,295.9 530.6,296.4 530.8,296.1 530.9,295.9 531.1,295.7 531.3,295.8 531.5,295.6 531.7,297.0 531.8,296.5 532.0,297.9 532.2,296.7 532.4,296.1 532.6,297.1 532.7,296.5 532.9,295.7 533.1,297.6 533.3,296.3 533.5,297.7 533.6,297.3 533.8,297.6 534.0,296.3 534.2,296.6 534.4,297.1 534.5,296.8 534.7,296.5 534.9,296.9 535.1,297.0 535.3,297.4 535.4,297.6 535.6,296.2 535.8,297.0 536.0,297.0 536.2,296.8 536.3,296.5 536.5,296.3 536.7,297.2"/>
<polyline class="c" stroke="#ff3030" points="41.5,268.4 41.7,269.6 41.9,269.5 42.0,268.9 42.2,270.2 42.4,267.9 42.6,268.5 42.8,268.5 42.9,270.1 43.1,270.2 43.3,270.4 43.5,271.4 43.7,271.1 43.8,270.6 44.0,269.9 44.2,271.7 44.4,270.5 44.6,272.8 44.7,271.9 44.9,270.8 45.1,270.4 45.3,270.1 45.5,271.9 45.6,270.4 45.8,271.8 46.0,269.4 46.2,269.8 46.4,272.3 46.5,272.8 46.7,273.3 46.9,269.7 47.1,270.1 47.3,270.8 47.4,270.4 47.6,272.6 47.8,271.9 48.0,272.2 48.2,271.8 48.3,271.7 48.5,275.0 48.7,273.7 48.9,272.3 49.1,274.6 49.2,272.8 49.4,272.7 49.6,274.5 49.8,272.2 50.0,272.5 50.1,272.4 50.3,275.4 50.5,276.0 50.7,273.7 50.9,276.0 51.0,272.3 51.2,273.7 51.4,275.6 51.6,274.6 51.8,275.5 51.9,274.9 52.1,275.3 52.3,274.6 52.5,272.2 52.7,273.1 52.8,273.4 53.0,275.3 53.2,272.8 53.4,274.3 53.6,276.8 53.7,276.0 53.9,278.3 54.1,275.7 54.3,272.5 54.5,276.8 54.6,275.7 54.8,275.0 55.0,273.9 55.2,275.5 55.4,276.3 55.5,276.3 55.7,275.7 55.9,276.1 56.1,275.8 56.3,274.7 56.4,276.5 56.6,277.2 56.8,279.5 57.0,277.9 57.2,276.6 57.3,278.4 57.5,278.1 57.7,276.4 57.9,275.5 58.1,278.3 58.2,275.3 58.4,276.5 58.6,278.2 58.8,277.0 59.0,278.7 59.1,279.2 59.3,278.2 59.5,277.2 59.7,278.0 59.9,277.9 60.0,279.5 60.2,277.4 60.4,279.6 60.6,276.8 60.8,279.7 60.9,280.4 61.1,279.0 61.3,277.8 61.5,279.5 61.7,279.3 61.8,278.4 62.0,278.3 62.2,277.4 62.4,277.9 62.6,280.4 62.7,278.5 62.9,277.8 63.1,276.8 63.3,277.1 63.5,275.6 63.6,275.2 63.8,275.7 64.0,274.1 64.2,273.9 64.4,272.6 64.5,270.4 64.7,270.2 64.9,268.7 65.1,263.8 65.3,264.7 65.4,262.9 65.4,262.7 65.6,263.8 65.8,262.4 65.8,262.5 66.0,262.5 66.2,264.5 66.2,262.1 66.4,264.6 66.5,266.0 66.7,268.0 66.9,270.1 67.1,270.5 67.3,272.1 67.4,274.3 67.6,274.2 67.8,276.9 68.0,276.8 68.2,275.5 68.3,277.8 68.5,277.8 68.7,279.1 68.9,280.7 69.1,280.5 69.2,279.2 69.4,280.5 69.6,279.6 69.8,281.1 70.0,280.1 70.1,278.2 70.3,277.0 70.5,280.7 70.7,281.4 70.9,281.2 71.0,284.2 71.2,281.9 71.4,282.1 71.6,279.7 71.8,281.8 71.9,281.0 72.1,280.0 72.3,281.5 72.5,281.8 72.7,280.4 72.8,283.1 73.0,281.3 73.2,279.7 73.4,278.8 73.6,282.6 73.7,282.0 73.9,281.7 74.1,279.4 74.3,278.6 74.5,279.3 74.6,277.2 74.8,276.8 75.0,275.9 75.2,274.9 75.4,270.6 75.5,269.0 75.7,267.0 75.9,264.3 76.1,263.5 76.3,259.6 76.3,261.7 76.4,259.3 76.6,260.5 76.6,259.5 76.8,259.9 77.0,261.1 77.0,260.3 77.2,263.5 77.3,264.8 77.5,267.0 77.7,270.2 77.9,273.0 78.1,274.9 78.2,276.2 78.4,280.0 78.6,280.4 78.8,281.1 79.0,282.6 79.1,282.0 79.3,284.7 79.5,283.7 79.7,284.0 79.9,285.3 80.0,285.3 80.2,285.9 80.4,286.3 80.6,286.0 80.8,287.5 80.9,287.1 81.1,289.3 81.3,287.3 81.5,286.7 81.7,286.4 81.8,288.2 82.0,288.3 82.2,287.7 82.4,290.0 82.6,288.0 82.7,288.7 82.9,289.2 83.1,289.5 83.3,288.3 83.5,290.5 83.6,290.9 83.8,290.3 84.0,290.6 84.2,290.9 84.4,290.7 84.5,291.2 84.7,291.0 84.9,291.1 85.1,290.2 85.3,289.9 85.4,289.7 85.6,291.8 85.8,290.0 86.0,290.8 86.2,292.6 86.3,291.7 86.5,291.5 86.7,291.4 86.9,292.1 87.1,292.0 87.2,291.4 87.4,291.1 87.6,291.5 87.8,292.9 88.0,295.2 88.1,293.3 88.3,293.4 88.5,294.8 88.7,294.3 88.9,292.7 89.0,291.0 89.2,295.7 89.4,292.5 89.6,293.2 89.8,295.2 89.9,293.2 90.1,294.0 90.3,293.6 90.5,295.2 90.7,293.6 90.8,294.9 91.0,295.4 91.2,294.4 91.4,297.7 91.6,295.5 91.7,294.0 91.9,296.5 92.1,296.7 92.3,296.5 92.5,295.2 92.6,295.6 92.8,295.7 93.0,296.1 93.2,294.7 93.4,295.7 93.5,295.1 93.7,295.4 93.9,294.1 94.1,293.3 94.3,295.1 94.4,296.7 94.6,296.0 94.8,294.6 95.0,296.5 95.2,296.3 95.3,296.5 95.5,295.5 95.7,295.9 95.9,296.6 96.1,297.7 96.2,296.4 96.4,296.8 96.6,298.1 96.8,296.8 97.0,297.0 97.1,296.8 97.3,298.6 97.5,297.0 97.7,295.9 97.9,296.8 98.0,297.7 98.2,297.6 98.4,298.0 98.6,299.0 98.8,298.0 98.9,297.6 99.1,296.5 99.3,298.7 99.5,299.0 99.7,298.8 99.8,298.8 100.0,297.7 100.2,298.5 100.4,296.6 100.6,296.8 100.7,296.1 100.9,298.6 101.1,299.0 101.3,299.1 101.5,300.0 101.6,297.6 101.8,298.9 102.0,298.1 102.2,297.7 102.4,299.5 102.5,299.0 102.7,298.6 102.9,300.4 103.1,299.0 103.3,299.2 103.4,299.9 103.6,299.2 103.8,299.6 104.0,300.5 104.2,301.8 104.3,298.7 104.5,301.4 104.7,300.4 104.9,299.8 105.1,300.2 105.2,298.0 105.4,299.6 105.6,300.3 105.8,299.6 106.0,297.9 106.1,299.7 106.3,298.5 106.5,298.6 106.7,298.9 106.9,300.6 107.0,301.4 107.2,299.6 107.4,300.9 107.6,299.2 107.8,299.4 107.9,300.5 108.1,301.2 108.3,299.9 108.5,296.2 108.7,297.5 108.8,297.8 109.0,297.5 109.2,295.8 109.4,298.8 109.6,293.8 109.7,294.7 109.9,293.6 110.1,293.8 110.3,293.3 110.5,292.0 110.6,291.7 110.8,289.0 111.0,288.4 111.2,288.7 111.4,286.0 111.5,287.1 111.7,285.2 111.9,283.8 112.1,284.3 112.3,283.9 112.3,285.9 112.4,284.3 112.6,285.8 112.6,283.6 112.8,285.2 113.0,285.1 113.0,285.3 113.2,284.7 113.3,287.3 113.5,288.8 113.7,287.2 113.9,288.6 114.1,292.1 114.2,290.2 114.4,292.4 114.6,292.9 114.8,292.6 115.0,294.5 115.1,295.9 115.3,294.6 115.5,298.2 115.7,298.2 115.9,296.5 116.1,299.3 116.2,301.4 116.4,299.3 116.6,300.6 116.8,302.7 117.0,299.4 117.1,303.3 117.3,304.0 117.5,304.0 117.7,301.4 117.9,303.5 118.0,303.1 118.2,304.8 118.4,304.8 118.6,303.7 118.8,303.6 118.9,303.0 119.1,303.3 119.3,303.2 119.5,303.5 119.7,304.2 119.8,303.7 120.0,304.9 120.2,305.1 120.4,305.7 120.6,304.7 120.7,306.6 120.9,306.4 121.1,305.9 121.3,304.4 121.5,305.7 121.6,305.4 121.8,305.7 122.0,306.3 122.2,306.6 122.4,305.4 122.5,307.1 122.7,307.4 122.9,307.9 123.1,306.0 123.3,306.8 123.4,306.9 123.6,306.4 123.8,305.7 124.0,306.0 124.2,305.2 124.3,304.9 124.5,305.8 124.7,306.5 124.9,307.7 125.1,308.0 125.2,305.2 125.4,306.7 125.6,306.8 125.8,305.3 126.0,306.0 126.1,306.5 126.3,306.1 126.5,307.2 126.7,308.4 126.9,308.8 127.0,307.3 127.2,307.8 127.4,309.2 127.6,308.0 127.8,308.1 127.9,308.8 128.1,307.4 128.3,309.4 128.5,308.1 128.7,308.5 128.8,307.8 129.0,308.5 129.2,307.5 129.4,306.4 129.6,307.7 129.7,308.6 129.9,306.8 130.1,308.2 130.3,309.5 130.5,308.0 130.6,309.1 130.8,308.1 131.0,309.7 131.2,308.9 131.4,307.2 131.5,308.9 131.7,310.3 131.9,308.9 132.1,308.2 132.3,309.1 132.4,307.4 132.6,310.1 132.8,307.8 133.0,309.2 133.2,309.4 133.3,308.9 133.5,308.2 133.7,309.7 133.9,309.7 134.1,309.7 134.2,308.1 134.4,309.8 134.6,309.6 134.8,309.4 135.0,309.2 135.1,308.8 135.3,308.6 135.5,310.3 135.7,309.2 135.9,309.7 136.0,310.5 136.2,311.9 136.4,311.0 136.6,311.7 136.8,310.5 136.9,310.9 137.1,311.2 137.3,310.7 137.5,310.6 137.7,310.8 137.8,310.1 138.0,310.6 138.2,310.9 138.4,312.2 138.6,310.6 138.7,310.7 138.9,311.5 139.1,311.7 139.3,311.7 139.5,309.9 139.6,311.2 139.8,311.5 140.0,311.5 140.2,312.2 140.4,312.8 140.5,312.5 140.7,311.6 140.9,312.0 141.1,310.7 141.3,311.3 141.4,313.3 141.6,312.2 141.8,310.5 142.0,311.5 142.2,311.5 142.3,311.5 142.5,310.1 142.7,310.7 142.9,312.3 143.1,313.6 143.2,311.4 143.4,310.7 143.6,311.3 143.8,311.2 144.0,312.2 144.1,313.5 144.3,314.4 144.5,311.2 144.7,312.9 144.9,313.2 145.0,312.5 145.2,312.4 145.4,312.5 145.6,314.1 145.8,313.2 145.9,312.1 146.1,314.1 146.3,313.4 146.5,312.0 146.7,312.4 146.8,313.6 147.0,313.9 147.2,312.3 147.4,313.9 147.6,313.5 147.7,313.8 147.9,312.0 148.1,311.9 148.3,313.5 148.5,312.8 148.6,313.7 148.8,312.0 149.0,313.3 149.2,311.0 149.4,312.2 149.5,313.6 149.7,312.5 149.9,313.2 150.1,313.8 150.3,314.7 150.4,315.1 150.6,313.2 150.8,313.1 151.0,315.3 151.2,315.7 151.3,313.7 151.5,313.3 151.7,314.0 151.9,314.1 152.1,312.7 152.2,314.5 152.4,312.2 152.6,313.3 152.8,312.3 153.0,314.9 153.1,315.1 153.3,315.4 153.5,314.3 153.7,315.4 153.9,314.3 154.0,315.4 154.2,316.8 154.4,316.1 154.6,314.6 154.8,316.3 154.9,314.9 155.1,314.9 155.3,315.6 155.5,314.0 155.7,315.0 155.8,315.0 156.0,314.2 156.2,315.4 156.4,315.9 156.6,315.9 156.7,315.4 156.9,315.7 157.1,315.3 157.3,314.8 157.5,315.0 157.6,315.5 157.8,314.5 158.0,315.7 158.2,314.2 158.4,314.9 158.5,313.8 158.7,315.6 158.9,313.7 159.1,315.4 159.3,315.1 159.4,316.2 159.6,315.6 159.8,316.7 160.0,315.5 160.2,315.2 160.3,316.3 160.5,314.6 160.7,313.6 160.9,313.8 161.1,316.8 161.2,316.9 161.4,316.4 161.6,317.7 161.8,318.0 162.0,316.7 162.1,315.9 162.3,318.9 162.5,316.0 162.7,317.0 162.9,315.8 163.0,314.4 163.2,315.8 163.4,315.8 163.6,316.3 163.8,316.0 163.9,315.9 164.1,317.5 164.3,315.9 164.5,315.6 164.7,316.1 164.8,316.3 165.0,316.0 165.2,317.4 165.4,316.9 165.6,317.5 165.8,317.1 165.9,316.1 166.1,317.4 166.3,317.2 166.5,317.8 166.7,319.4 166.8,319.4 167.0,318.7 167.2,316.6 167.4,318.7 167.6,318.9 167.7,319.2 167.9,317.9 168.1,316.8 168.3,316.9 168.5,318.5 168.6,318.8 168.8,318.6 169.0,317.3 169.2,318.2 169.4,318.7 169.5,317.7 169.7,318.7 169.9,317.8 170.1,318.2 170.3,317.0 170.4,317.7 170.6,316.2 170.8,317.1 171.0,316.0 171.2,315.9 171.3,316.5 171.5,317.6 171.7,317.2 171.9,317.3 172.1,317.7 172.2,317.8 172.4,317.0 172.6,316.2 172.8,315.4 173.0,316.0 173.1,313.0 173.3,312.3 173.5,312.9 173.7,312.1 173.9,311.0 174.0,311.3 174.2,308.9 174.4,308.0 174.6,308.2 174.8,305.2 174.9,305.8 175.1,303.6 175.3,301.8 175.5,299.5 175.7,297.6 175.8,294.2 176.0,288.6 176.2,284.0 176.4,279.7 176.6,272.0 176.7,264.0 176.9,257.2 177.1,245.5 177.3,235.2 177.5,222.7 177.6,210.6 177.8,197.7 178.0,188.0 178.0,190.1 178.2,181.5 178.4,181.3 178.4,180.5 178.5,182.2 178.7,188.9 178.7,189.1 178.9,197.8 179.1,209.6 179.3,220.1 179.4,231.7 179.6,244.4 179.8,252.9 180.0,260.1 180.2,266.6 180.3,272.5 180.5,277.2 180.7,280.5 180.9,283.3 181.1,284.6 181.2,286.2 181.4,286.6 181.6,288.5 181.8,287.8 182.0,286.4 182.1,286.7 182.2,287.2 182.3,286.8 182.5,286.7 182.6,287.1 182.7,287.5 182.9,288.1 182.9,290.1 183.0,289.6 183.2,292.9 183.4,294.2 183.6,296.3 183.8,297.9 183.9,300.4 184.1,302.1 184.3,302.5 184.5,304.0 184.7,305.4 184.8,305.2 185.0,305.5 185.2,306.0 185.4,307.2 185.6,304.8 185.7,305.3 185.9,304.2 186.1,304.0 186.3,302.4 186.5,302.4 186.6,299.5 186.8,300.4 187.0,297.6 187.2,296.9 187.4,293.9 187.5,292.4 187.6,292.2 187.7,291.8 187.9,290.8 188.0,291.2 188.1,291.0 188.3,291.7 188.3,292.4 188.4,292.7 188.6,295.9 188.8,296.7 189.0,298.8 189.2,299.4 189.3,301.6 189.5,303.6 189.7,304.6 189.9,307.4 190.1,308.4 190.2,309.6 190.4,308.9 190.6,311.4 190.8,310.2 191.0,310.7 191.1,310.9 191.3,310.2 191.5,310.0 191.7,309.7 191.9,309.5 192.0,306.8 192.2,304.8 192.4,304.2 192.6,302.6 192.8,301.1 192.9,299.6 193.1,295.5 193.3,291.7 193.5,289.7 193.7,283.7 193.8,277.4 194.0,269.7 194.2,262.4 194.4,253.1 194.6,240.6 194.7,229.5 194.9,216.8 195.1,205.2 195.3,191.4 195.5,180.6 195.6,175.1 195.6,172.1 195.8,166.8 195.9,166.2 196.0,167.7 196.2,171.6 196.3,175.5 196.4,179.7 196.5,191.0 196.7,204.0 196.9,216.9 197.1,230.6 197.3,241.9 197.4,252.1 197.6,260.8 197.8,270.7 198.0,276.4 198.2,283.0 198.3,288.0 198.5,290.8 198.7,294.2 198.9,297.4 199.1,301.2 199.2,302.0 199.4,303.8 199.6,305.8 199.8,308.3 200.0,309.6 200.1,311.0 200.3,312.1 200.5,310.8 200.7,311.7 200.9,313.5 201.0,314.1 201.2,313.9 201.4,313.3 201.6,313.8 201.8,313.9 201.9,316.1 202.1,316.3 202.3,316.4 202.5,316.5 202.7,316.2 202.8,316.8 203.0,317.6 203.2,318.1 203.4,316.7 203.6,316.8 203.7,316.7 203.9,317.2 204.1,316.0 204.3,317.6 204.5,317.1 204.6,317.1 204.8,315.1 205.0,316.1 205.2,316.6 205.4,317.7 205.5,315.4 205.7,316.2 205.9,316.6 206.1,316.0 206.3,316.8 206.4,316.2 206.6,316.8 206.8,316.5 207.0,315.5 207.2,316.6 207.3,315.3 207.5,316.9 207.7,315.6 207.9,316.2 208.1,316.2 208.2,315.8 208.4,314.0 208.6,313.3 208.8,313.5 209.0,312.6 209.1,312.7 209.3,311.8 209.5,310.4 209.7,310.4 209.9,306.4 210.0,305.4 210.2,304.5 210.4,300.9 210.6,299.0 210.8,293.9 210.9,291.0 211.1,286.8 211.3,279.0 211.5,272.3 211.7,261.0 211.8,250.4 212.0,235.7 212.2,220.6 212.4,200.4 212.6,178.7 212.7,153.9 212.9,131.6 213.1,110.9 213.1,110.9 213.3,95.6 213.5,90.3 213.5,90.0 213.6,96.6 213.8,110.3 213.8,110.9 214.0,131.4 214.2,157.0 214.4,180.3 214.5,202.6 214.7,221.6 214.9,238.0 215.1,253.9 215.3,265.6 215.5,276.4 215.6,282.9 215.8,289.9 216.0,295.9 216.2,299.9 216.4,303.7 216.5,306.0 216.7,308.7 216.9,312.4 217.1,313.9 217.3,315.5 217.4,315.6 217.6,317.0 217.8,318.4 218.0,318.9 218.2,318.9 218.3,319.2 218.5,319.5 218.7,319.0 218.9,319.6 219.1,319.2 219.2,318.9 219.4,317.9 219.6,316.5 219.8,314.5 220.0,316.2 220.1,313.9 220.3,313.2 220.5,311.7 220.7,310.7 220.9,308.6 221.0,306.6 221.2,304.6 221.4,302.2 221.6,301.0 221.8,299.8 221.9,297.3 222.1,297.2 222.3,295.2 222.5,294.0 222.6,292.6 222.7,292.3 222.8,292.0 222.9,291.9 223.0,291.9 223.2,290.3 223.3,290.8 223.4,291.9 223.6,292.4 223.7,293.1 223.9,293.1 224.1,294.3 224.3,295.3 224.5,295.7 224.6,294.9 224.8,296.3 225.0,297.0 225.2,296.5 225.4,296.9 225.5,297.4 225.7,298.1 225.9,297.4 226.1,298.6 226.2,298.3 226.3,297.4 226.4,298.4 226.5,299.5 226.6,300.6 226.8,300.2 226.9,302.9 227.0,302.8 227.2,303.1 227.3,305.1 227.5,307.5 227.7,309.6 227.9,309.4 228.1,311.5 228.2,313.1 228.4,314.6 228.6,315.2 228.8,316.2 229.0,318.2 229.1,316.7 229.3,320.4 229.5,320.4 229.7,321.0 229.9,320.7 230.0,320.8 230.2,322.3 230.4,322.5 230.6,322.0 230.8,322.4 230.9,323.2 231.1,322.3 231.3,322.8 231.5,323.7 231.7,323.5 231.8,324.0 232.0,324.9 232.2,324.1 232.4,324.7 232.6,325.2 232.7,324.3 232.9,324.0 233.1,324.2 233.3,326.0 233.5,322.3 233.6,323.8 233.8,322.0 234.0,322.7 234.2,322.5 234.4,323.2 234.5,322.8 234.7,323.2 234.9,322.0 235.1,322.4 235.3,321.7 235.4,319.4 235.6,318.8 235.8,318.5 236.0,318.9 236.2,318.9 236.3,316.3 236.5,316.1 236.7,314.8 236.9,313.7 237.1,309.6 237.2,308.8 237.4,305.0 237.6,302.1 237.8,298.0 238.0,293.9 238.1,288.7 238.3,284.4 238.5,274.4 238.7,267.4 238.9,258.6 239.0,250.1 239.2,239.1 239.4,231.1 239.6,221.5 239.7,218.8 239.8,215.4 239.9,210.7 240.0,210.8 240.1,211.3 240.3,215.2 240.4,219.3 240.5,222.5 240.7,230.7 240.8,239.3 241.0,250.2 241.2,261.0 241.4,268.0 241.6,276.3 241.7,282.4 241.9,288.1 242.1,295.0 242.3,298.5 242.5,303.7 242.6,306.5 242.8,308.5 243.0,311.6 243.2,313.6 243.4,315.4 243.5,315.3 243.7,317.6 243.9,318.3 244.1,319.8 244.3,321.5 244.4,320.3 244.6,322.4 244.8,321.9 245.0,323.0 245.2,324.8 245.3,323.8 245.5,324.0 245.7,325.3 245.9,324.8 246.1,325.0 246.2,325.2 246.4,325.2 246.6,326.2 246.8,325.7 247.0,325.7 247.1,326.9 247.3,326.3 247.5,328.3 247.7,325.9 247.9,327.1 248.0,327.4 248.2,327.0 248.4,327.7 248.6,327.0 248.8,326.7 248.9,325.6 249.1,327.8 249.3,326.7 249.5,326.7 249.7,326.2 249.8,326.8 250.0,326.0 250.2,326.6 250.4,325.2 250.6,326.1 250.7,324.5 250.9,325.5 251.1,325.4 251.3,323.3 251.5,322.9 251.6,323.1 251.8,323.1 251.8,323.8 252.0,323.4 252.2,323.4 252.2,323.3 252.4,322.8 252.5,323.1 252.5,323.1 252.7,323.5 252.9,324.1 253.1,324.0 253.3,324.3 253.4,325.0 253.6,324.3 253.8,325.7 254.0,324.7 254.2,325.6 254.3,326.8 254.5,325.8 254.7,327.7 254.9,326.8 255.1,326.5 255.2,327.4 255.4,327.6 255.6,328.1 255.8,328.2 256.0,328.4 256.1,328.3 256.3,328.3 256.5,327.6 256.7,328.9 256.9,326.5 257.0,329.5 257.2,329.2 257.4,328.8 257.6,328.8 257.8,328.3 257.9,328.8 258.1,327.9 258.3,327.4 258.5,328.5 258.7,328.3 258.8,328.8 259.0,327.9 259.2,329.1 259.4,329.7 259.6,328.0 259.7,329.0 259.9,329.4 260.1,327.2 260.3,326.9 260.5,328.4 260.6,328.0 260.8,327.3 261.0,327.2 261.2,328.6 261.4,327.0 261.5,327.0 261.7,326.4 261.9,326.9 262.1,328.5 262.3,327.7 262.4,327.7 262.6,327.2 262.8,326.9 263.0,327.0 263.2,327.0 263.3,326.1 263.5,326.8 263.7,326.2 263.9,326.7 264.1,325.2 264.2,325.8 264.4,323.7 264.6,323.8 264.8,324.5 265.0,322.9 265.2,322.5 265.3,322.7 265.5,322.4 265.7,321.2 265.9,320.1 266.1,320.1 266.2,319.3 266.4,316.5 266.6,315.1 266.8,313.1 267.0,311.8 267.1,307.4 267.3,304.6 267.5,300.1 267.7,296.2 267.9,290.9 268.0,284.4 268.2,278.2 268.4,272.5 268.6,266.4 268.8,260.5 268.9,255.1 268.9,254.9 269.1,252.3 269.3,250.4 269.3,250.4 269.5,251.6 269.7,255.3 269.7,254.2 269.8,259.8 270.0,266.5 270.2,272.9 270.4,280.7 270.6,286.7 270.7,291.6 270.9,296.6 271.1,300.2 271.3,305.7 271.5,308.2 271.6,311.9 271.8,313.4 272.0,316.3 272.2,318.1 272.4,319.5 272.5,320.1 272.7,319.7 272.9,321.9 273.1,323.0 273.3,324.5 273.4,324.4 273.6,325.1 273.8,325.5 274.0,326.1 274.2,326.3 274.3,326.2 274.5,325.8 274.7,327.5 274.9,328.5 275.1,328.2 275.2,328.3 275.4,328.6 275.6,329.4 275.8,329.1 276.0,328.6 276.1,329.4 276.3,329.5 276.5,330.1 276.7,331.1 276.9,329.9 277.0,331.4 277.2,330.2 277.4,328.3 277.6,329.1 277.8,329.4 277.9,328.0 278.1,330.6 278.3,330.4 278.5,330.5 278.7,329.8 278.8,331.2 279.0,330.9 279.2,330.0 279.4,330.2 279.6,328.9 279.7,330.3 279.9,330.9 280.1,329.9 280.3,330.2 280.5,329.8 280.6,330.1 280.8,328.7 281.0,329.4 281.2,329.1 281.4,328.8 281.5,329.0 281.7,328.4 281.9,328.2 282.1,329.2 282.3,327.0 282.4,328.6 282.6,327.3 282.8,326.6 283.0,326.4 283.2,326.5 283.3,327.6 283.5,325.8 283.7,326.1 283.9,325.0 284.1,323.7 284.2,323.3 284.4,323.0 284.6,322.0 284.8,320.9 285.0,317.8 285.1,316.8 285.3,314.2 285.5,312.4 285.7,309.7 285.9,306.8 286.0,304.3 286.2,301.8 286.4,297.5 286.6,295.4 286.8,291.3 286.9,289.1 286.9,288.4 287.1,286.8 287.3,284.9 287.3,287.4 287.5,285.9 287.7,288.4 287.7,288.4 287.8,291.9 288.0,295.0 288.2,297.1 288.4,300.8 288.6,303.4 288.7,306.6 288.9,310.3 289.1,312.2 289.3,314.9 289.5,316.1 289.6,316.8 289.8,319.7 290.0,321.7 290.2,322.6 290.4,322.7 290.5,324.7 290.7,326.2 290.9,326.0 291.1,325.7 291.3,327.5 291.4,327.3 291.6,327.4 291.8,328.2 292.0,327.6 292.2,327.3 292.3,328.0 292.5,328.7 292.7,328.3 292.9,328.9 293.1,330.5 293.2,330.1 293.4,330.8 293.6,328.9 293.8,329.8 294.0,330.4 294.1,328.8 294.3,330.5 294.5,331.6 294.7,329.5 294.9,330.8 295.0,331.6 295.2,331.3 295.4,331.2 295.6,330.9 295.8,332.3 295.9,331.2 296.1,331.2 296.3,329.9 296.5,332.2 296.7,332.2 296.8,331.7 297.0,332.0 297.2,331.5 297.4,331.8 297.6,333.6 297.7,331.2 297.9,331.6 298.1,332.0 298.3,331.2 298.5,331.5 298.6,331.5 298.8,331.5 299.0,331.6 299.2,331.5 299.4,330.5 299.5,331.0 299.7,331.0 299.9,330.5 300.1,331.3 300.3,330.9 300.4,331.9 300.6,331.6 300.8,332.0 301.0,332.5 301.2,331.0 301.3,332.4 301.5,331.6 301.7,333.2 301.9,331.7 302.1,332.3 302.2,332.5 302.4,331.2 302.6,332.5 302.8,333.1 303.0,333.3 303.1,332.7 303.3,332.4 303.5,332.5 303.7,332.0 303.9,331.3 304.0,331.8 304.2,331.7 304.4,332.0 304.6,332.8 304.8,332.7 304.9,333.0 305.1,333.4 305.3,333.5 305.5,332.9 305.7,333.8 305.8,333.5 306.0,333.0 306.2,333.5 306.4,333.0 306.6,333.2 306.7,334.0 306.9,333.9 307.1,333.9 307.3,333.2 307.5,333.0 307.6,333.9 307.8,332.3 308.0,332.1 308.2,332.5 308.4,333.3 308.5,332.3 308.7,333.0 308.9,332.5 309.1,333.4 309.3,334.3 309.4,333.4 309.6,333.4 309.8,334.1 310.0,332.8 310.2,334.6 310.3,331.9 310.5,333.3 310.7,334.5 310.9,334.4 311.1,332.7 311.2,333.8 311.4,333.0 311.6,333.0 311.8,333.1 312.0,334.4 312.1,333.1 312.3,335.6 312.5,332.9 312.7,333.7 312.9,334.6 313.0,333.7 313.2,334.0 313.4,333.0 313.6,332.5 313.8,333.4 314.0,333.0 314.1,334.2 314.3,332.8 314.5,334.9 314.7,333.9 314.9,333.1 315.0,332.2 315.2,334.6 315.4,333.4 315.6,334.7 315.8,334.6 315.9,333.5 316.1,334.2 316.3,333.2 316.5,334.2 316.7,333.1 316.8,334.7 317.0,334.2 317.2,333.9 317.4,334.2 317.6,333.9 317.7,332.8 317.9,333.2 318.1,333.9 318.3,333.4 318.5,333.7 318.6,334.9 318.8,333.7 319.0,334.8 319.2,333.2 319.4,334.3 319.5,332.4 319.7,335.1 319.9,332.8 320.1,334.1 320.3,332.9 320.4,332.6 320.6,332.0 320.8,332.2 321.0,331.3 321.2,333.0 321.3,331.9 321.5,330.3 321.7,331.7 321.9,331.3 322.1,329.8 322.2,330.0 322.4,329.1 322.6,327.4 322.8,328.5 323.0,327.8 323.1,326.8 323.3,325.4 323.5,325.0 323.7,324.7 323.9,324.8 323.9,324.5 324.0,323.8 324.2,323.9 324.2,324.2 324.4,324.0 324.6,324.4 324.6,324.1 324.8,324.3 324.9,325.6 325.1,325.7 325.3,326.6 325.5,327.0 325.7,328.5 325.8,329.1 326.0,328.5 326.2,330.1 326.4,331.0 326.6,330.4 326.7,330.4 326.9,330.4 327.1,330.3 327.3,333.8 327.5,331.7 327.6,332.0 327.8,332.5 328.0,331.5 328.2,331.6 328.4,331.8 328.5,332.2 328.7,332.8 328.9,331.1 329.1,332.1 329.3,332.1 329.4,332.5 329.6,332.8 329.8,332.8 330.0,333.1 330.2,331.5 330.3,332.3 330.5,333.0 330.7,332.3 330.9,331.7 331.1,330.4 331.1,331.0 331.2,330.2 331.4,330.3 331.4,331.8 331.6,331.8 331.8,333.1 331.8,333.5 332.0,333.0 332.1,331.2 332.3,331.8 332.5,332.9 332.7,332.7 332.9,332.3 333.0,332.6 333.2,332.6 333.4,332.5 333.6,334.0 333.8,332.5 333.9,333.5 334.1,333.9 334.3,334.3 334.5,334.7 334.7,335.3 334.8,334.0 335.0,334.1 335.2,334.9 335.4,333.5 335.6,334.3 335.7,334.5 335.9,334.8 336.1,335.8 336.3,334.5 336.5,335.0 336.6,332.7 336.8,333.7 337.0,334.1 337.2,334.3 337.4,335.6 337.5,334.6 337.7,334.9 337.9,334.8 338.1,334.2 338.3,335.3 338.4,334.9 338.6,334.8 338.8,335.4 339.0,336.5 339.2,335.0 339.3,334.3 339.5,335.8 339.7,335.1 339.9,334.6 340.1,335.6 340.2,335.1 340.4,337.0 340.6,335.8 340.8,335.2 341.0,334.9 341.1,335.6 341.3,335.7 341.5,335.1 341.7,333.7 341.9,334.6 342.0,335.5 342.2,336.1 342.4,335.5 342.6,335.4 342.8,334.7 342.9,335.2 343.1,335.3 343.3,336.1 343.5,334.9 343.7,335.0 343.8,335.2 344.0,334.5 344.2,335.4 344.4,334.0 344.6,334.9 344.7,333.8 344.9,335.6 345.1,334.9 345.3,335.7 345.5,335.1 345.6,335.4 345.8,335.5 346.0,335.0 346.2,334.9 346.4,335.9 346.5,335.1 346.7,335.1 346.9,336.8 347.1,335.6 347.3,335.3 347.4,335.2 347.6,335.4 347.8,334.8 348.0,334.7 348.2,335.7 348.3,335.3 348.5,334.1 348.7,334.0 348.9,335.7 349.1,334.7 349.2,334.5 349.4,335.4 349.6,335.8 349.8,334.8 350.0,334.6 350.1,335.3 350.3,335.2 350.5,334.6 350.7,335.5 350.9,335.7 351.0,334.0 351.2,334.0 351.4,334.6 351.6,335.3 351.8,334.9 351.9,334.4 352.1,335.1 352.3,333.6 352.5,333.8 352.7,335.6 352.8,333.5 353.0,333.9 353.2,333.5 353.4,333.2 353.6,333.7 353.7,334.3 353.9,331.4 354.1,332.5 354.3,332.6 354.5,331.3 354.6,331.8 354.8,330.9 355.0,331.6 355.2,330.2 355.4,330.0 355.5,331.0 355.7,329.4 355.9,327.1 356.1,327.2 356.3,326.4 356.4,325.7 356.6,324.3 356.8,324.6 357.0,324.0 357.2,324.0 357.3,323.1 357.5,321.4 357.7,320.8 357.9,319.9 358.1,319.4 358.1,319.8 358.2,319.4 358.4,319.0 358.4,319.0 358.6,319.5 358.8,319.4 358.8,318.9 359.0,319.8 359.1,320.1 359.3,321.1 359.5,322.6 359.7,322.8 359.9,323.1 360.0,322.7 360.2,324.5 360.4,325.4 360.6,326.8 360.8,327.7 360.9,328.4 361.1,327.9 361.3,329.8 361.5,330.2 361.7,330.4 361.8,330.7 362.0,332.6 362.2,330.9 362.4,331.0 362.6,333.4 362.7,333.0 362.9,333.3 363.1,334.7 363.3,333.8 363.5,334.2 363.7,334.4 363.8,335.3 364.0,333.1 364.2,334.5 364.4,334.1 364.6,334.4 364.7,335.2 364.9,334.7 365.1,335.4 365.3,336.6 365.5,336.1 365.6,336.1 365.8,335.5 366.0,335.6 366.2,335.6 366.4,335.3 366.5,336.0 366.7,335.2 366.9,335.7 367.1,335.1 367.3,335.4 367.4,336.6 367.6,336.9 367.8,335.6 368.0,336.2 368.2,336.3 368.3,335.4 368.5,336.8 368.7,335.5 368.9,335.8 369.1,335.4 369.2,335.9 369.4,335.6 369.6,336.1 369.8,335.4 370.0,336.1 370.1,336.2 370.3,336.2 370.5,336.6 370.7,334.9 370.9,335.8 371.0,336.8 371.2,336.1 371.4,336.1 371.6,336.3 371.8,335.9 371.9,336.5 372.1,336.8 372.3,336.6 372.5,336.2 372.7,338.4 372.8,335.1 373.0,336.4 373.2,335.3 373.4,336.2 373.6,334.5 373.7,335.9 373.9,335.2 374.1,337.3 374.3,336.8 374.5,334.9 374.6,336.6 374.8,336.5 375.0,335.7 375.2,336.1 375.4,335.8 375.5,336.0 375.7,333.8 375.9,334.8 376.1,335.3 376.3,334.8 376.4,335.2 376.6,333.2 376.8,335.4 377.0,334.5 377.2,335.6 377.3,336.2 377.5,335.3 377.7,335.2 377.9,336.9 378.1,334.3 378.2,336.2 378.4,336.3 378.6,335.9 378.8,334.4 379.0,335.4 379.1,334.7 379.3,334.6 379.5,334.5 379.7,333.4 379.9,334.3 380.0,333.8 380.2,334.9 380.4,334.1 380.6,334.9 380.8,334.1 380.9,334.4 381.1,333.9 381.3,335.1 381.5,335.2 381.7,334.4 381.8,334.9 382.0,334.4 382.2,334.6 382.4,334.4 382.6,333.9 382.7,333.8 382.9,334.9 383.1,334.0 383.3,333.4 383.5,331.9 383.6,333.4 383.8,333.9 384.0,333.8 384.2,334.4 384.4,331.7 384.5,333.3 384.7,332.7 384.9,331.9 385.1,332.5 385.3,332.1 385.4,331.3 385.6,330.6 385.8,332.0 386.0,330.9 386.2,330.5 386.3,330.7 386.5,332.0 386.7,331.4 386.9,331.0 387.1,330.4 387.2,330.7 387.4,330.2 387.6,330.0 387.8,328.9 388.0,329.0 388.1,329.1 388.3,328.8 388.5,328.4 388.7,326.5 388.9,326.0 389.0,323.6 389.2,323.9 389.4,321.3 389.6,321.3 389.8,319.7 389.9,319.7 390.1,316.6 390.3,316.0 390.5,316.0 390.5,316.2 390.7,315.6 390.8,315.0 390.8,315.8 391.0,316.6 391.2,317.6 391.2,316.4 391.4,316.4 391.6,317.4 391.7,318.8 391.9,319.0 392.1,320.7 392.3,321.6 392.5,321.7 392.6,324.5 392.8,325.4 393.0,325.0 393.2,327.1 393.4,326.0 393.5,327.4 393.7,327.5 393.9,328.3 394.1,328.7 394.3,328.2 394.4,327.6 394.6,328.7 394.8,328.6 395.0,327.4 395.2,328.7 395.3,328.2 395.5,329.0 395.7,328.6 395.9,327.9 396.1,328.6 396.2,326.2 396.4,328.0 396.6,328.3 396.8,327.7 397.0,328.3 397.1,327.1 397.3,325.8 397.5,325.4 397.7,326.6 397.9,325.3 398.0,323.0 398.2,323.5 398.4,321.1 398.6,319.9 398.8,319.0 398.9,315.7 399.1,314.5 399.3,311.8 399.5,309.6 399.7,306.8 399.8,301.4 400.0,297.9 400.2,292.7 400.4,286.5 400.6,282.7 400.7,275.9 400.9,270.5 401.1,266.8 401.3,264.1 401.3,263.1 401.5,260.7 401.6,260.0 401.6,258.9 401.8,259.9 402.0,261.5 402.0,262.4 402.2,265.7 402.4,270.8 402.5,276.2 402.7,281.8 402.9,287.6 403.1,293.1 403.3,297.9 403.4,302.1 403.6,304.7 403.8,309.9 404.0,311.9 404.2,315.8 404.3,317.1 404.5,319.0 404.7,320.9 404.9,322.5 405.1,323.6 405.2,323.2 405.4,324.9 405.6,324.9 405.8,325.8 406.0,327.5 406.1,326.4 406.3,325.8 406.5,325.9 406.7,327.6 406.9,327.3 407.0,327.8 407.2,327.2 407.4,327.7 407.6,327.4 407.8,327.7 407.9,325.9 408.1,327.0 408.3,326.2 408.5,326.4 408.7,324.8 408.8,323.1 409.0,324.4 409.2,323.4 409.4,320.9 409.6,319.2 409.7,319.7 409.9,316.6 410.1,316.3 410.3,314.5 410.5,313.1 410.6,311.1 410.8,308.8 411.0,306.4 411.2,303.7 411.4,301.7 411.5,298.8 411.7,296.2 411.9,293.9 412.1,290.3 412.3,286.2 412.4,283.2 412.6,279.7 412.8,276.4 413.0,272.4 413.2,268.2 413.4,265.0 413.5,260.7 413.7,256.5 413.9,253.2 414.1,250.4 414.3,246.5 414.4,243.7 414.6,241.1 414.8,239.6 414.8,239.6 415.0,238.8 415.2,237.8 415.2,239.2 415.3,239.1 415.5,239.1 415.5,238.7 415.7,241.4 415.9,245.2 416.1,247.9 416.2,248.9 416.4,252.4 416.6,256.4 416.8,258.9 417.0,264.0 417.1,267.5 417.3,270.1 417.5,273.5 417.7,278.6 417.9,282.9 418.0,284.9 418.2,288.5 418.4,291.7 418.6,294.9 418.8,296.6 418.9,299.0 419.1,301.4 419.3,305.4 419.5,306.9 419.7,308.8 419.8,311.4 420.0,311.3 420.2,312.8 420.4,315.4 420.6,314.6 420.7,317.1 420.9,317.6 421.1,318.2 421.3,320.3 421.5,319.1 421.5,319.7 421.6,318.9 421.8,320.3 421.9,320.5 422.0,321.5 422.2,322.2 422.3,322.8 422.4,322.7 422.5,324.0 422.7,324.1 422.9,326.7 423.1,328.0 423.3,327.7 423.4,328.6 423.6,329.1 423.8,328.7 424.0,330.2 424.2,331.3 424.3,330.5 424.5,332.3 424.7,332.0 424.9,332.9 425.1,332.4 425.2,332.7 425.4,332.8 425.6,333.8 425.8,333.2 426.0,333.8 426.1,333.4 426.3,334.8 426.5,334.0 426.7,333.4 426.9,334.2 427.0,335.4 427.2,334.2 427.4,334.3 427.6,334.1 427.8,335.2 427.9,334.1 428.1,335.0 428.3,335.4 428.5,335.6 428.7,335.4 428.8,335.8 429.0,336.1 429.2,335.4 429.4,335.2 429.6,335.4 429.7,335.5 429.9,334.7 430.1,335.9 430.3,335.8 430.5,335.3 430.6,336.7 430.8,336.2 431.0,336.6 431.2,336.5 431.4,336.6 431.5,336.3 431.7,335.2 431.9,336.1 432.1,336.5 432.3,335.5 432.4,336.1 432.6,336.1 432.8,336.0 433.0,335.9 433.2,335.4 433.3,335.9 433.5,336.4 433.7,336.3 433.9,335.8 434.1,336.2 434.2,336.2 434.4,335.2 434.6,335.8 434.8,336.4 435.0,335.6 435.1,336.6 435.3,335.4 435.5,336.3 435.7,335.8 435.9,337.0 436.0,336.6 436.2,336.7 436.4,336.7 436.6,336.5 436.8,336.1 436.9,335.3 437.1,335.6 437.3,336.9 437.5,336.4 437.7,336.3 437.8,336.7 438.0,336.8 438.2,335.7 438.4,336.3 438.6,337.1 438.7,335.7 438.9,336.9 439.1,336.1 439.3,336.6 439.5,337.3 439.6,337.2 439.8,336.3 440.0,336.6 440.2,336.0 440.4,336.8 440.5,336.2 440.7,336.4 440.9,337.9 441.1,335.9 441.3,336.1 441.4,336.1 441.6,335.6 441.8,335.5 442.0,335.4 442.2,334.4 442.3,334.7 442.5,334.9 442.7,334.6 442.9,333.7 443.1,334.9 443.2,332.5 443.4,332.9 443.6,333.3 443.8,332.6 444.0,331.9 444.1,332.6 444.3,331.2 444.5,332.1 444.5,330.7 444.7,331.1 444.9,330.9 444.9,330.8 445.0,330.3 445.2,330.7 445.2,330.7 445.4,330.7 445.6,331.3 445.8,332.3 445.9,331.4 446.1,331.7 446.3,334.1 446.5,333.6 446.7,333.5 446.8,335.3 447.0,334.9 447.2,335.1 447.4,335.5 447.6,336.3 447.7,335.2 447.9,335.0 448.1,335.3 448.3,336.4 448.5,335.3 448.6,337.4 448.8,335.8 449.0,337.0 449.2,337.4 449.4,337.3 449.5,336.7 449.7,336.7 449.9,337.0 450.1,337.7 450.3,336.7 450.4,337.8 450.6,336.1 450.8,336.6 451.0,337.1 451.2,336.6 451.3,337.3 451.5,337.0 451.7,338.3 451.9,337.9 452.1,337.0 452.2,338.1 452.4,337.9 452.6,338.2 452.8,338.4 453.0,338.3 453.1,337.6 453.3,337.3 453.5,337.9 453.7,338.0 453.9,338.0 454.0,338.5 454.2,336.7 454.4,337.3 454.6,337.1 454.8,336.5 454.9,337.6 455.1,337.0 455.3,336.4 455.5,338.1 455.7,337.2 455.8,337.0 456.0,337.3 456.2,337.9 456.4,338.2 456.6,338.1 456.7,337.6 456.9,337.1 457.1,337.7 457.3,337.8 457.5,337.2 457.6,337.4 457.8,337.6 458.0,338.1 458.2,338.5 458.4,338.0 458.5,337.8 458.7,337.8 458.9,337.1 459.1,337.8 459.3,337.0 459.4,337.7 459.6,336.4 459.8,337.1 460.0,336.6 460.2,337.5 460.3,336.2 460.5,336.9 460.7,337.4 460.9,336.2 461.1,337.3 461.2,337.4 461.4,336.0 461.6,336.4 461.8,335.8 462.0,336.3 462.1,335.7 462.3,336.9 462.5,336.8 462.7,336.6 462.9,336.4 463.1,336.4 463.2,335.5 463.4,336.7 463.6,335.1 463.8,336.0 464.0,335.5 464.1,335.6 464.3,335.7 464.5,334.5 464.7,335.0 464.9,334.4 465.0,335.2 465.2,334.1 465.4,334.4 465.6,334.4 465.8,334.3 465.9,333.8 466.1,332.9 466.3,333.7 466.5,334.2 466.7,333.1 466.8,334.0 467.0,334.0 467.2,332.4 467.4,331.4 467.6,332.4 467.7,330.7 467.9,331.8 468.1,330.3 468.3,329.7 468.5,330.8 468.6,329.2 468.8,328.1 469.0,327.1 469.2,327.5 469.4,326.3 469.5,325.2 469.7,324.3 469.9,324.0 470.1,322.5 470.3,321.5 470.4,319.0 470.6,318.1 470.8,315.4 471.0,313.5 471.2,312.3 471.3,309.8 471.5,305.7 471.7,303.3 471.9,299.7 472.1,294.2 472.2,291.0 472.4,286.5 472.6,281.8 472.8,275.6 473.0,269.3 473.1,263.7 473.3,256.0 473.5,250.0 473.7,245.2 473.9,239.9 474.0,234.5 474.2,231.4 474.2,231.0 474.4,228.2 474.6,228.1 474.6,227.6 474.8,228.8 474.9,231.7 474.9,231.3 475.1,234.7 475.3,238.8 475.5,245.5 475.7,249.7 475.8,257.1 476.0,263.6 476.2,267.5 476.4,275.2 476.6,280.9 476.7,286.0 476.9,289.9 477.1,296.2 477.3,299.8 477.5,303.4 477.6,305.9 477.8,308.9 478.0,310.8 478.2,312.7 478.4,315.2 478.5,318.6 478.7,319.6 478.9,320.5 479.1,320.8 479.3,323.0 479.4,324.8 479.6,324.6 479.8,325.9 480.0,326.6 480.2,328.3 480.3,327.5 480.5,328.2 480.7,328.4 480.9,329.1 481.1,330.0 481.2,331.0 481.4,330.8 481.6,331.3 481.8,330.3 482.0,331.8 482.1,332.6 482.3,330.3 482.5,331.6 482.7,333.1 482.9,332.8 483.0,334.3 483.2,333.9 483.4,334.6 483.6,334.8 483.8,334.4 483.9,334.7 484.1,334.9 484.3,332.5 484.5,334.6 484.7,333.8 484.8,334.9 485.0,333.7 485.2,334.9 485.4,335.9 485.6,335.8 485.7,334.7 485.9,335.2 486.1,335.1 486.3,334.3 486.5,336.0 486.6,334.5 486.8,334.1 487.0,335.5 487.2,335.1 487.4,335.4 487.5,335.6 487.7,334.7 487.9,335.4 488.1,335.4 488.3,336.3 488.4,335.8 488.6,334.8 488.8,335.5 489.0,335.7 489.2,335.1 489.3,333.2 489.5,335.1 489.7,334.2 489.9,335.8 490.1,334.2 490.2,335.0 490.4,335.3 490.6,334.9 490.8,335.2 491.0,335.4 491.1,336.1 491.3,334.7 491.5,334.1 491.7,335.9 491.9,334.3 492.0,334.1 492.2,334.8 492.4,334.3 492.6,334.1 492.8,332.9 492.9,333.4 493.1,333.8 493.3,333.3 493.5,332.3 493.7,331.7 493.8,332.0 494.0,332.5 494.2,331.8 494.4,331.7 494.6,331.6 494.7,331.4 494.9,330.5 494.9,331.3 495.1,332.1 495.3,330.0 495.3,330.5 495.5,330.7 495.6,330.3 495.6,330.9 495.8,330.6 496.0,331.9 496.2,332.1 496.4,331.4 496.5,330.8 496.7,332.3 496.9,332.1 497.1,332.7 497.3,332.4 497.4,333.6 497.6,333.6 497.8,333.7 498.0,334.9 498.2,334.6 498.3,334.3 498.5,334.1 498.7,334.8 498.9,335.2 499.1,334.9 499.2,334.8 499.4,334.3 499.6,335.2 499.8,335.9 500.0,334.9 500.1,336.2 500.3,335.6 500.5,335.6 500.7,336.3 500.9,335.7 501.0,334.4 501.2,337.3 501.4,335.3 501.6,336.1 501.8,336.0 501.9,336.8 502.1,336.2 502.3,335.8 502.5,336.0 502.7,335.7 502.8,335.8 503.0,337.1 503.2,336.5 503.4,335.5 503.6,336.1 503.7,337.1 503.9,335.9 504.1,335.6 504.3,334.6 504.5,337.0 504.6,335.9 504.8,334.9 505.0,334.3 505.2,336.1 505.4,336.2 505.5,334.7 505.7,335.1 505.9,335.2 506.1,334.7 506.3,334.5 506.4,335.3 506.6,334.0 506.8,335.1 507.0,333.9 507.2,333.8 507.3,332.9 507.5,332.2 507.7,332.9 507.9,331.4 508.1,331.8 508.2,331.3 508.4,331.6 508.6,330.6 508.8,330.0 509.0,330.3 509.1,329.5 509.3,328.5 509.5,326.7 509.7,326.5 509.9,325.4 510.0,324.4 510.2,324.1 510.4,322.0 510.6,321.7 510.8,321.5 510.9,319.8 511.1,319.5 511.1,320.1 511.3,319.6 511.5,319.6 511.5,319.6 511.7,319.3 511.8,319.5 511.8,321.4 512.0,320.1 512.2,322.4 512.4,322.0 512.6,323.1 512.8,324.2 512.9,325.5 513.1,326.3 513.3,327.2 513.5,328.4 513.7,327.8 513.8,329.2 514.0,329.9 514.2,330.4 514.4,331.6 514.6,331.9 514.7,332.5 514.9,332.3 515.1,332.2 515.3,332.3 515.5,334.0 515.6,334.4 515.8,333.6 516.0,333.5 516.2,333.2 516.4,333.1 516.5,333.7 516.7,333.4 516.9,333.4 517.1,333.2 517.3,332.8 517.4,333.6 517.6,333.4 517.8,333.2 518.0,333.0 518.2,334.5 518.3,332.5 518.5,333.3 518.7,333.6 518.9,331.9 519.1,331.9 519.2,332.1 519.2,331.2 519.4,332.0 519.6,331.5 519.6,331.6 519.8,331.6 520.0,331.6 520.0,332.8 520.1,330.3 520.3,332.5 520.5,331.8 520.7,332.5 520.9,332.7 521.0,332.6 521.2,333.6 521.4,334.7 521.6,334.6 521.8,334.3 521.9,334.6 522.1,335.5 522.3,335.3 522.5,335.3 522.7,335.2 522.8,336.2 523.0,335.8 523.2,335.6 523.4,336.6 523.6,337.0 523.7,335.4 523.9,336.9 524.1,336.2 524.3,335.9 524.5,336.4 524.6,337.2 524.8,338.2 525.0,337.5 525.2,338.4 525.4,338.5 525.5,338.5 525.7,338.7 525.9,337.7 526.1,337.9 526.3,337.3 526.4,337.6 526.6,337.5 526.8,338.7 527.0,338.0 527.2,337.0 527.3,338.2 527.5,338.3 527.7,338.2 527.9,337.8 528.1,338.5 528.2,338.0 528.4,339.1 528.6,338.3 528.8,339.2 529.0,338.5 529.1,338.2 529.3,338.9 529.5,337.7 529.7,338.0 529.9,337.6 530.0,338.0 530.2,339.7 530.4,339.4 530.6,338.0 530.8,338.8 530.9,338.6 531.1,339.1 531.3,338.9 531.5,338.7 531.7,338.1 531.8,338.0 532.0,337.3 532.2,338.4 532.4,337.5 532.6,337.6 532.7,338.4 532.9,337.6 533.1,338.6 533.3,339.5 533.5,338.0 533.6,339.0 533.8,338.4 534.0,338.4 534.2,338.7 534.4,339.0 534.5,337.9 534.7,338.9 534.9,339.1 535.1,337.9 535.3,338.1 535.4,338.4 535.6,340.0 535.8,339.2 536.0,339.3 536.2,339.6 536.3,338.0 536.5,337.7 536.7,339.7"/>
</g>
<path d="M66.2,381.5V366.2M77.0,381.5V361.3M113.3,381.5V358.4M178.8,381.5V333.0M183.4,381.5V349.0M187.8,381.5V364.8M196.2,381.5V301.6M213.0,381.5V303.0M222.4,381.5V363.3M226.4,381.5V364.5M239.9,381.5V329.3M254.9,381.5V370.0M258.1,381.5V368.0M268.9,381.5V350.5M287.8,381.5V358.4M290.9,381.5V368.5M325.1,381.5V364.8M329.0,381.5V371.0M356.6,381.5V367.0M359.0,381.5V364.2M386.1,381.5V369.4M390.7,381.5V365.6M396.2,381.5V367.0M401.6,381.5V334.2M404.7,381.5V365.6M412.8,381.5V350.2M415.2,381.5V330.7M418.3,381.5V364.2M422.1,381.5V366.2M432.6,381.5V369.1M444.2,381.5V370.0M445.9,381.5V368.5M469.2,381.5V369.5M470.7,381.5V367.0M473.9,381.5V327.2M477.7,381.5V367.4M483.6,381.5V370.5M496.0,381.5V369.0M512.0,381.5V362.2M518.7,381.5V368.2" stroke="#000" stroke-width="1.7" fill="none"/>
<rect x="41.5" y="6.1" width="495.2" height="375.4" fill="none" stroke="#000" stroke-width="1.4"/>
<path d="M41.5,381.5v8.3M86.5,381.5v8.3M131.5,381.5v8.3M176.6,381.5v8.3M221.6,381.5v8.3M266.6,381.5v8.3M311.6,381.5v8.3M356.6,381.5v8.3M401.6,381.5v8.3M446.7,381.5v8.3M491.7,381.5v8.3M536.7,381.5v8.3M64.0,381.5v4.4M109.0,381.5v4.4M154.0,381.5v4.4M199.1,381.5v4.4M244.1,381.5v4.4M289.1,381.5v4.4M334.1,381.5v4.4M379.1,381.5v4.4M424.2,381.5v4.4M469.2,381.5v4.4M514.2,381.5v4.4" stroke="#000" stroke-width="1.4" fill="none"/>
<text class="b" x="41.5" y="410.3" font-size="18" text-anchor="middle">15</text>
<text class="b" x="86.5" y="410.3" font-size="18" text-anchor="middle">20</text>
<text class="b" x="131.5" y="410.3" font-size="18" text-anchor="middle">25</text>
<text class="b" x="176.6" y="410.3" font-size="18" text-anchor="middle">30</text>
<text class="b" x="221.6" y="410.3" font-size="18" text-anchor="middle">35</text>
<text class="b" x="266.6" y="410.3" font-size="18" text-anchor="middle">40</text>
<text class="b" x="311.6" y="410.3" font-size="18" text-anchor="middle">45</text>
<text class="b" x="356.6" y="410.3" font-size="18" text-anchor="middle">50</text>
<text class="b" x="401.6" y="410.3" font-size="18" text-anchor="middle">55</text>
<text class="b" x="446.7" y="410.3" font-size="18" text-anchor="middle">60</text>
<text class="b" x="491.7" y="410.3" font-size="18" text-anchor="middle">65</text>
<text class="b" x="536.7" y="410.3" font-size="18" text-anchor="middle">70</text>
<text class="b" x="288.6" y="441.8" font-size="18" text-anchor="middle" textLength="67.5" lengthAdjust="spacing">2θ, deg.</text>
<text class="b" transform="translate(18.3,257.7) rotate(-90)" font-size="18" textLength="127.2" lengthAdjust="spacing">Intensity, a.u.</text>
<rect x="352.5" y="8.5" width="181" height="114.7" fill="#fff" stroke="#444" stroke-width="1"/>
<line x1="355.3" x2="377.8" y1="21.0" y2="21.0" stroke="#ff3c46" stroke-width="1.6"/>
<text x="381.7" y="23.9" font-size="15.6" textLength="88.8" lengthAdjust="spacing"><tspan dy="0.0" font-size="15.6">BaFe</tspan><tspan dy="3.5" font-size="16">12</tspan><tspan dy="-3.5" font-size="15.6">O</tspan><tspan dy="3.5" font-size="16">19</tspan></text>
<line x1="355.3" x2="377.8" y1="44.0" y2="44.0" stroke="#ff8a1c" stroke-width="1.6"/>
<text x="381.7" y="46.9" font-size="15.6" textLength="149.8" lengthAdjust="spacing"><tspan dy="0.0" font-size="15.6">Sr</tspan><tspan dy="3.5" font-size="16">0.3</tspan><tspan dy="-3.5" font-size="15.6">Ba</tspan><tspan dy="3.5" font-size="16">0.7</tspan><tspan dy="-3.5" font-size="15.6">Fe</tspan><tspan dy="3.5" font-size="16">12</tspan><tspan dy="-3.5" font-size="15.6">O</tspan><tspan dy="3.5" font-size="16">19</tspan></text>
<line x1="355.3" x2="377.8" y1="67.0" y2="67.0" stroke="#10dc10" stroke-width="1.6"/>
<text x="381.7" y="69.9" font-size="15.6" textLength="149.8" lengthAdjust="spacing"><tspan dy="0.0" font-size="15.6">Sr</tspan><tspan dy="3.5" font-size="16">0.5</tspan><tspan dy="-3.5" font-size="15.6">Ba</tspan><tspan dy="3.5" font-size="16">0.5</tspan><tspan dy="-3.5" font-size="15.6">Fe</tspan><tspan dy="3.5" font-size="16">12</tspan><tspan dy="-3.5" font-size="15.6">O</tspan><tspan dy="3.5" font-size="16">19</tspan></text>
<line x1="355.3" x2="377.8" y1="90.0" y2="90.0" stroke="#1446f5" stroke-width="1.6"/>
<text x="381.7" y="92.9" font-size="15.6" textLength="149.8" lengthAdjust="spacing"><tspan dy="0.0" font-size="15.6">Sr</tspan><tspan dy="3.5" font-size="16">0.7</tspan><tspan dy="-3.5" font-size="15.6">Ba</tspan><tspan dy="3.5" font-size="16">0.3</tspan><tspan dy="-3.5" font-size="15.6">Fe</tspan><tspan dy="3.5" font-size="16">12</tspan><tspan dy="-3.5" font-size="15.6">O</tspan><tspan dy="3.5" font-size="16">19</tspan></text>
<line x1="355.3" x2="377.8" y1="113.0" y2="113.0" stroke="#c800d8" stroke-width="1.6"/>
<text x="381.7" y="115.9" font-size="15.6" textLength="84.5" lengthAdjust="spacing"><tspan dy="0.0" font-size="15.6">SrFe</tspan><tspan dy="3.5" font-size="16">12</tspan><tspan dy="-3.5" font-size="15.6">O</tspan><tspan dy="3.5" font-size="16">19</tspan></text>
<text x="71.0" y="339.8" font-size="19.2" textLength="92.0" lengthAdjust="spacing"><tspan dy="0.0" font-size="19.2">BaFe</tspan><tspan dy="5.8" font-size="12.5">12</tspan><tspan dy="-5.8" font-size="19.2">O</tspan><tspan dy="5.8" font-size="12.5">19</tspan></text>
<text x="92.0" y="357.7" font-size="12.8" textLength="84.3" lengthAdjust="spacingAndGlyphs">ICDD 39-1433</text>
<text transform="translate(183.3,98.2) rotate(-90)" font-size="15.2">(110)</text>
<text transform="translate(201.2,68.8) rotate(-90)" font-size="15.2">(107)</text>
<text transform="translate(232.8,41.6) rotate(-90)" font-size="15.2">(114)</text>
<text transform="translate(246.3,117.4) rotate(-90)" font-size="15.2">(203)</text>
<text transform="translate(276.0,153.2) rotate(-90)" font-size="15.2">(205)</text>
<text transform="translate(294.8,171.0) rotate(-90)" font-size="15.2">(206)</text>
<text transform="translate(386.9,159.5) rotate(-90)" font-size="15.2">(217)</text>
<text transform="translate(443.3,164.8) rotate(-90)" font-size="15.2">(2011)</text>
<text transform="translate(505.2,158.4) rotate(-90)" font-size="15.2">(220)</text>
<line x1="225.9" y1="43.9" x2="217.3" y2="62.5" stroke="#222" stroke-width="1"/>
<line x1="389.4" y1="153.5" x2="398.7" y2="168.9" stroke="#222" stroke-width="1"/>
<line x1="430.0" y1="143.3" x2="422.2" y2="162.2" stroke="#222" stroke-width="1"/>
<line x1="488.3" y1="144.7" x2="480.1" y2="163.6" stroke="#222" stroke-width="1"/>
</svg></body></html>
